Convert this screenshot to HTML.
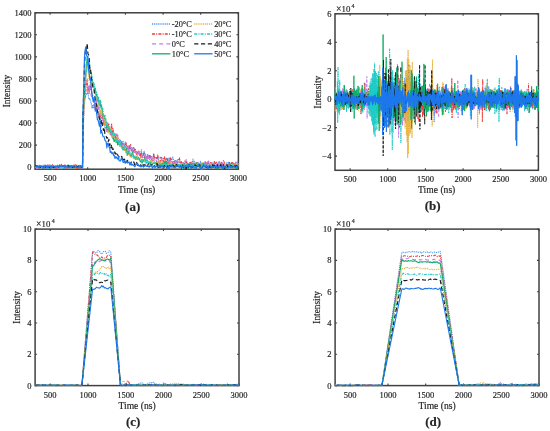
<!DOCTYPE html>
<html><head><meta charset="utf-8"><title>Figure</title>
<style>
html,body{margin:0;padding:0;background:#fff;}
body{width:550px;height:431px;overflow:hidden;}
svg{display:block;}
svg text{font-family:"Liberation Serif", "Times New Roman", serif;fill:#262626;stroke:#262626;stroke-width:0.18px;}
</style></head><body>
<svg width="550" height="431" viewBox="0 0 550 431">
<defs>
<clipPath id="ca"><rect x="34.2" y="12" width="205" height="158"/></clipPath>
<clipPath id="cb"><rect x="334.2" y="13" width="205" height="158.1"/></clipPath>
<clipPath id="cc"><rect x="34.3" y="228.3" width="205.5" height="158.1"/></clipPath>
<clipPath id="cd"><rect x="334.3" y="228.3" width="205.5" height="158.1"/></clipPath>
</defs>
<path d="M50.1 169.2v-2M50.1 12.8v2M87.7 169.2v-2M87.7 12.8v2M125.4 169.2v-2M125.4 12.8v2M163.1 169.2v-2M163.1 12.8v2M200.7 169.2v-2M200.7 12.8v2M238.4 169.2v-2M238.4 12.8v2M35 167.1h2M238.4 167.1h-2M35 145.1h2M238.4 145.1h-2M35 123h2M238.4 123h-2M35 101h2M238.4 101h-2M35 78.9h2M238.4 78.9h-2M35 56.9h2M238.4 56.9h-2M35 34.8h2M238.4 34.8h-2M35 12.8h2M238.4 12.8h-2" stroke="#404040" stroke-width="1.1" fill="none"/>
<rect x="35" y="12.8" width="203.4" height="156.4" fill="none" stroke="#404040" stroke-width="1.5"/>
<text x="50.1" y="181.2" font-size="8.5" text-anchor="middle">500</text>
<text x="87.7" y="181.2" font-size="8.5" text-anchor="middle">1000</text>
<text x="125.4" y="181.2" font-size="8.5" text-anchor="middle">1500</text>
<text x="163.1" y="181.2" font-size="8.5" text-anchor="middle">2000</text>
<text x="200.7" y="181.2" font-size="8.5" text-anchor="middle">2500</text>
<text x="238.4" y="181.2" font-size="8.5" text-anchor="middle">3000</text>
<text x="31.4" y="170" font-size="8.5" text-anchor="end">0</text>
<text x="31.4" y="148" font-size="8.5" text-anchor="end">200</text>
<text x="31.4" y="125.9" font-size="8.5" text-anchor="end">400</text>
<text x="31.4" y="103.9" font-size="8.5" text-anchor="end">600</text>
<text x="31.4" y="81.8" font-size="8.5" text-anchor="end">800</text>
<text x="31.4" y="59.8" font-size="8.5" text-anchor="end">1000</text>
<text x="31.4" y="37.7" font-size="8.5" text-anchor="end">1200</text>
<text x="31.4" y="15.7" font-size="8.5" text-anchor="end">1400</text>
<text x="136.7" y="192.6" font-size="9.6" text-anchor="middle">Time (ns)</text>
<text x="9.7" y="91" font-size="9.3" text-anchor="middle" transform="rotate(-90 9.7 91)">Intensity</text>
<text x="132.7" y="210.6" font-size="13" text-anchor="middle" font-weight="bold" stroke-width="0">(a)</text>
<polyline points="35,166.4 35.7,166.9 36.4,167.6 37,167.1 37.7,167.7 38.4,166.6 39.1,165.3 39.7,167.2 40.4,167.3 41.1,166.2 41.8,166.3 42.5,166.6 43.1,167.6 43.8,166.7 44.5,166 45.2,168 45.8,167.1 46.5,168.6 47.2,168 47.9,168.5 48.6,166.9 49.2,167.9 49.9,166.4 50.6,166.5 51.3,166.9 52,169.2 52.6,167.2 53.3,166.7 54,166.6 54.7,168.2 55.3,167.1 56,167.6 56.7,167.5 57.4,165.6 58.1,167.5 58.7,166.7 59.4,165.8 60.1,167.2 60.8,166.8 61.4,166.6 62.1,166.6 62.8,167.9 63.5,166.6 64.2,165.3 64.8,168.2 65.5,165.8 66.2,166.5 66.9,167.3 67.5,164.7 68.2,165.9 68.9,167.9 69.6,166.6 70.3,166.1 70.9,166.9 71.6,166 72.3,166.7 73,166 73.6,165.2 74.3,167.3 75,166.5 75.7,167.1 76.4,166.5 77,167.9 77.7,167.2 78.4,166.9 79.1,165.8 79.7,165.5 80.4,168 81.1,167.5 81.8,166 82.5,168.7 83.1,132.1 83.8,116.7 84.5,102.8 85.2,97.4 85.8,95.3 86.5,93.2 87.2,94.4 87.9,89.3 88.6,98.3 89.2,99.4 89.9,98.5 90.6,101.7 91.3,103.4 92,108 92.6,105.5 93.3,108.4 94,104.2 94.7,107.2 95.3,110.8 96,109.7 96.7,114.2 97.4,110.9 98.1,115.5 98.7,114.7 99.4,121.7 100.1,117.6 100.8,125 101.4,127 102.1,122.7 102.8,125.4 103.5,123.2 104.2,118.1 104.8,128 105.5,128.2 106.2,126.7 106.9,126.8 107.5,129.5 108.2,130.4 108.9,128.6 109.6,129.9 110.3,134.9 110.9,133 111.6,133.5 112.3,137 113,134.3 113.6,137.8 114.3,133.8 115,136.4 115.7,137.3 116.4,139.6 117,139 117.7,144.3 118.4,142.7 119.1,139.6 119.8,146.2 120.4,139.5 121.1,146.3 121.8,140.8 122.5,145.1 123.1,141.7 123.8,143.7 124.5,148.1 125.2,142.1 125.9,142.1 126.5,146 127.2,146.9 127.9,147 128.6,149.3 129.2,145 129.9,149.1 130.6,148.3 131.3,150.3 132,150.3 132.6,152.1 133.3,146.9 134,150.3 134.7,148.2 135.3,150.6 136,152.4 136.7,152 137.4,152.8 138.1,151.8 138.7,152.9 139.4,153.1 140.1,155.6 140.8,154.7 141.4,149.8 142.1,154.9 142.8,155.9 143.5,153.3 144.2,151.4 144.8,157.4 145.5,155.1 146.2,156.2 146.9,158.7 147.5,153.9 148.2,155.6 148.9,155.6 149.6,157.5 150.3,155.3 150.9,157.4 151.6,156.8 152.3,158.9 153,159.3 153.7,154.5 154.3,158.2 155,156.9 155.7,157.7 156.4,158.6 157,158.9 157.7,156.8 158.4,158.8 159.1,158.6 159.8,158.5 160.4,156.4 161.1,157.5 161.8,158.2 162.5,160.1 163.1,161.8 163.8,157.5 164.5,157.6 165.2,159.8 165.9,158.6 166.5,158.3 167.2,158.3 167.9,158.3 168.6,161 169.2,157.4 169.9,162.6 170.6,158.8 171.3,159.6 172,159 172.6,157.2 173.3,158.1 174,163 174.7,164.1 175.3,159.6 176,163 176.7,161.3 177.4,159.8 178.1,164.4 178.7,165.3 179.4,161.1 180.1,161.6 180.8,162.2 181.4,161.7 182.1,163.4 182.8,164.7 183.5,162.3 184.2,163.8 184.8,165.1 185.5,161.3 186.2,162.4 186.9,161.6 187.6,164.1 188.2,163.6 188.9,164.3 189.6,164.1 190.3,162.3 190.9,164.1 191.6,162.1 192.3,162.2 193,159.2 193.7,165.3 194.3,161.3 195,163.1 195.7,163 196.4,165.6 197,163.9 197.7,161.8 198.4,163.3 199.1,163.1 199.8,163.8 200.4,161.3 201.1,163.4 201.8,167.3 202.5,164.6 203.1,166.9 203.8,169.2 204.5,164.5 205.2,161.2 205.9,163.5 206.5,165.7 207.2,165.3 207.9,161.7 208.6,163.5 209.2,163.7 209.9,163.9 210.6,163.8 211.3,162.5 212,162.9 212.6,163.6 213.3,165.8 214,163.1 214.7,165.2 215.3,162.1 216,166.3 216.7,164.3 217.4,164.1 218.1,166.5 218.7,161.2 219.4,161.7 220.1,165 220.8,162.9 221.4,163.6 222.1,168.8 222.8,163.9 223.5,164.4 224.2,164.2 224.8,166.2 225.5,164.9 226.2,164.7 226.9,162.4 227.6,163.9 228.2,164.5 228.9,161.8 229.6,165.5 230.3,165.2 230.9,167.7 231.6,161.9 232.3,162.9 233,163 233.7,163.5 234.3,164.4 235,164.3 235.7,165.1 236.4,165 237,164.6 237.7,162.1 238.4,163.8" fill="none" stroke="#4f96ee" stroke-width="1.2" stroke-dasharray="1.2,0.9" clip-path="url(#ca)" stroke-linejoin="round"/>
<polyline points="35,167.4 35.7,167.4 36.4,164.7 37,166.1 37.7,166.6 38.4,167.1 39.1,168 39.7,166.7 40.4,165.6 41.1,167.1 41.8,166.9 42.5,166.9 43.1,166.5 43.8,168.6 44.5,166.9 45.2,167.7 45.8,165.6 46.5,167.6 47.2,166 47.9,164.8 48.6,167 49.2,167.4 49.9,166.4 50.6,166.7 51.3,167.9 52,166.1 52.6,164.2 53.3,167 54,166.9 54.7,167.9 55.3,166.3 56,168.2 56.7,168 57.4,165.1 58.1,167.7 58.7,165.4 59.4,164.8 60.1,166.4 60.8,166 61.4,164.3 62.1,166.9 62.8,167.4 63.5,168.3 64.2,166.6 64.8,164.9 65.5,165.5 66.2,167.8 66.9,167.7 67.5,167.3 68.2,166.3 68.9,166.9 69.6,166.4 70.3,166.3 70.9,167 71.6,166.7 72.3,166.4 73,166.8 73.6,166.1 74.3,164.4 75,166 75.7,166.6 76.4,168.7 77,166.2 77.7,169 78.4,168.4 79.1,165.6 79.7,165.8 80.4,166.8 81.1,168.7 81.8,167.1 82.5,167.5 83.1,122.9 83.8,101.8 84.5,99.5 85.2,95.9 85.8,91.4 86.5,80.9 87.2,82.8 87.9,89.2 88.6,85.6 89.2,93.1 89.9,85.3 90.6,87.5 91.3,89.3 92,97.6 92.6,95.3 93.3,99.6 94,102.3 94.7,103.7 95.3,109 96,111 96.7,104 97.4,109.2 98.1,109.1 98.7,107.6 99.4,118.9 100.1,116.7 100.8,114.6 101.4,115.1 102.1,119 102.8,115.3 103.5,119.3 104.2,125.2 104.8,125.3 105.5,120.6 106.2,122.8 106.9,131.5 107.5,122 108.2,125.4 108.9,124 109.6,130.3 110.3,131 110.9,134.4 111.6,124 112.3,133.1 113,128.6 113.6,136.1 114.3,134.4 115,140.6 115.7,137.5 116.4,134.3 117,141.4 117.7,135.4 118.4,138.1 119.1,142.7 119.8,141.8 120.4,142.2 121.1,141.7 121.8,143.6 122.5,144.9 123.1,144 123.8,146.5 124.5,147.7 125.2,144.9 125.9,142.9 126.5,149.8 127.2,146.2 127.9,148.4 128.6,149.6 129.2,145.4 129.9,149.3 130.6,144.6 131.3,150.8 132,148.2 132.6,150.1 133.3,151.8 134,148.8 134.7,151 135.3,149.5 136,151.4 136.7,154.3 137.4,152.2 138.1,152.1 138.7,150.2 139.4,155 140.1,153.2 140.8,157.6 141.4,152.2 142.1,156.5 142.8,158.5 143.5,154.6 144.2,152.1 144.8,158.6 145.5,157.8 146.2,157.2 146.9,158.3 147.5,155 148.2,158 148.9,158 149.6,155.2 150.3,158.4 150.9,155.9 151.6,159.3 152.3,160 153,161.6 153.7,153.4 154.3,158.5 155,157.4 155.7,158.2 156.4,157.9 157,158.3 157.7,154.3 158.4,161 159.1,162.3 159.8,161.3 160.4,162.1 161.1,157.6 161.8,157.6 162.5,161.7 163.1,162.7 163.8,160.6 164.5,156.8 165.2,166.2 165.9,159 166.5,162.6 167.2,158.1 167.9,162.8 168.6,161.2 169.2,163.9 169.9,162.9 170.6,157.8 171.3,159.1 172,161.9 172.6,163 173.3,165.3 174,162.1 174.7,161.4 175.3,161.6 176,161.7 176.7,164 177.4,161.8 178.1,161.8 178.7,159.1 179.4,157.9 180.1,162.2 180.8,163.7 181.4,162.2 182.1,163.4 182.8,163.8 183.5,162.4 184.2,164.6 184.8,161.1 185.5,162.7 186.2,162 186.9,162.9 187.6,164.2 188.2,164.7 188.9,163.2 189.6,163.9 190.3,162.3 190.9,162.9 191.6,165.8 192.3,162.8 193,165.8 193.7,164.3 194.3,163.7 195,167.5 195.7,163 196.4,162.9 197,163.6 197.7,164.2 198.4,164.1 199.1,165.4 199.8,164 200.4,164.6 201.1,163.3 201.8,166 202.5,163 203.1,163.3 203.8,163.9 204.5,164.6 205.2,162.5 205.9,167.2 206.5,162.8 207.2,163.2 207.9,163.2 208.6,163 209.2,165.2 209.9,164.4 210.6,162.6 211.3,163 212,163.5 212.6,167.1 213.3,162.9 214,161.6 214.7,161.9 215.3,163.6 216,167.3 216.7,162.1 217.4,164.4 218.1,169.4 218.7,163.4 219.4,167.3 220.1,166.9 220.8,165.5 221.4,161.6 222.1,165 222.8,163.7 223.5,160.7 224.2,161 224.8,164.6 225.5,164.9 226.2,167 226.9,165.8 227.6,163.5 228.2,163.6 228.9,164.2 229.6,162.4 230.3,166.1 230.9,164.6 231.6,163 232.3,163.3 233,162.3 233.7,163.7 234.3,165.2 235,163.8 235.7,166.6 236.4,168 237,163.4 237.7,164.7 238.4,164" fill="none" stroke="#f03c3c" stroke-width="1.2" stroke-dasharray="3,1.2,1,1.2" clip-path="url(#ca)" stroke-linejoin="round"/>
<polyline points="35,167 35.7,167.2 36.4,167.4 37,168.7 37.7,167 38.4,165.9 39.1,166.3 39.7,167.2 40.4,166.7 41.1,166 41.8,169.2 42.5,166.8 43.1,166.2 43.8,166.1 44.5,165.1 45.2,165.6 45.8,166.4 46.5,166.4 47.2,166 47.9,167.2 48.6,166.7 49.2,165.8 49.9,164.9 50.6,166.8 51.3,166.7 52,166.5 52.6,165.5 53.3,166.7 54,165.3 54.7,167.5 55.3,166.8 56,166.8 56.7,166 57.4,165.7 58.1,168 58.7,167.5 59.4,166.4 60.1,167.3 60.8,168 61.4,165.7 62.1,166.2 62.8,166.2 63.5,167.1 64.2,165.7 64.8,166.9 65.5,165.7 66.2,167.5 66.9,167.4 67.5,166.5 68.2,167.3 68.9,166.1 69.6,166.4 70.3,167.5 70.9,166.6 71.6,167 72.3,165.8 73,167.2 73.6,167.1 74.3,165.6 75,164.6 75.7,164.9 76.4,166.6 77,166.5 77.7,165.3 78.4,166.8 79.1,167.5 79.7,166.6 80.4,166.3 81.1,167.4 81.8,168.1 82.5,168 83.1,121.6 83.8,111.4 84.5,99.7 85.2,90.8 85.8,82.7 86.5,80.9 87.2,78.9 87.9,86.7 88.6,86.7 89.2,91.3 89.9,85 90.6,91.4 91.3,96 92,96.4 92.6,97.7 93.3,96.2 94,106 94.7,105.7 95.3,105 96,96.9 96.7,103.8 97.4,108.8 98.1,107.6 98.7,104.8 99.4,113.5 100.1,115.2 100.8,111.7 101.4,115.2 102.1,116 102.8,120.7 103.5,114.8 104.2,116.7 104.8,121.1 105.5,121.9 106.2,130.5 106.9,124.2 107.5,127.5 108.2,126.8 108.9,127.1 109.6,130.7 110.3,135.1 110.9,130.7 111.6,134.4 112.3,134.2 113,135.7 113.6,135.9 114.3,141.4 115,133.7 115.7,136.7 116.4,135.4 117,134.1 117.7,139.4 118.4,144.3 119.1,142.8 119.8,144.1 120.4,143.2 121.1,142.5 121.8,147.6 122.5,143.1 123.1,147.6 123.8,144.3 124.5,145.7 125.2,146.6 125.9,146.6 126.5,148.1 127.2,148.7 127.9,151.4 128.6,148.4 129.2,145 129.9,145.2 130.6,147 131.3,148.6 132,151.8 132.6,148 133.3,151.3 134,151.7 134.7,152.5 135.3,152.1 136,153.5 136.7,153.1 137.4,155.4 138.1,154.3 138.7,149.6 139.4,154.3 140.1,154.9 140.8,153.8 141.4,153.8 142.1,157.4 142.8,156 143.5,154.2 144.2,155.6 144.8,156.1 145.5,153.8 146.2,158 146.9,156.9 147.5,158.2 148.2,154.8 148.9,161.1 149.6,159.1 150.3,159 150.9,157.1 151.6,157.4 152.3,156.2 153,161.6 153.7,157.7 154.3,159.7 155,160.5 155.7,158.6 156.4,161.2 157,163.4 157.7,160.6 158.4,162.6 159.1,161.3 159.8,159.8 160.4,160 161.1,158 161.8,161.1 162.5,163.5 163.1,162.3 163.8,162.7 164.5,163.3 165.2,160.7 165.9,162.6 166.5,164.9 167.2,160.5 167.9,162 168.6,161.3 169.2,161.8 169.9,161.1 170.6,162.1 171.3,160.3 172,161.7 172.6,161.8 173.3,161.9 174,165 174.7,163 175.3,163.2 176,162.5 176.7,165.1 177.4,160.4 178.1,162.9 178.7,165.1 179.4,165.9 180.1,163.7 180.8,163.5 181.4,164.5 182.1,163.3 182.8,164.5 183.5,162.7 184.2,164.8 184.8,163.7 185.5,162.2 186.2,159.7 186.9,165.4 187.6,164.6 188.2,165.3 188.9,162.7 189.6,165.8 190.3,164.8 190.9,164.2 191.6,165.7 192.3,165.7 193,165 193.7,167.6 194.3,166.6 195,165 195.7,164.2 196.4,164.7 197,167.3 197.7,165.2 198.4,163.3 199.1,163.7 199.8,164.7 200.4,166 201.1,163.7 201.8,165.6 202.5,166.6 203.1,166 203.8,162.5 204.5,164.5 205.2,163 205.9,165.6 206.5,163.4 207.2,165.9 207.9,165.2 208.6,161.1 209.2,163.8 209.9,165.8 210.6,165.2 211.3,164.6 212,163.2 212.6,165.9 213.3,167.8 214,165.6 214.7,165.1 215.3,165 216,163.2 216.7,164.7 217.4,164 218.1,167 218.7,163.9 219.4,162.1 220.1,164.1 220.8,164.9 221.4,165.1 222.1,162.6 222.8,166.8 223.5,165.6 224.2,164.7 224.8,164.3 225.5,166.1 226.2,165 226.9,165.9 227.6,165.3 228.2,165.7 228.9,167.2 229.6,165.5 230.3,164.2 230.9,167 231.6,165.9 232.3,164.5 233,167.2 233.7,165.3 234.3,167.2 235,163.9 235.7,162.1 236.4,162.5 237,166 237.7,164.5 238.4,165.5" fill="none" stroke="#c27cf0" stroke-width="1.2" stroke-dasharray="4,3.2" clip-path="url(#ca)" stroke-linejoin="round"/>
<polyline points="35,165.6 35.7,167.6 36.4,165.9 37,166.7 37.7,165.7 38.4,166.5 39.1,167.1 39.7,166.5 40.4,166.1 41.1,166.6 41.8,166.3 42.5,167 43.1,168.2 43.8,166 44.5,166.2 45.2,166.6 45.8,166.6 46.5,165.9 47.2,167 47.9,167.2 48.6,166.8 49.2,165.8 49.9,167.6 50.6,165.8 51.3,167.1 52,167.4 52.6,165.8 53.3,166.7 54,167.6 54.7,166.9 55.3,166 56,165.8 56.7,167 57.4,166.4 58.1,166.2 58.7,167.1 59.4,166.4 60.1,166.7 60.8,167 61.4,167 62.1,166.6 62.8,166.6 63.5,167.1 64.2,167 64.8,165.9 65.5,166.5 66.2,166 66.9,165.8 67.5,166.3 68.2,165.1 68.9,167.2 69.6,166.1 70.3,166.9 70.9,165.4 71.6,165.5 72.3,168 73,167.3 73.6,166.2 74.3,166.1 75,166.1 75.7,166.7 76.4,166.3 77,166.2 77.7,166.7 78.4,165.9 79.1,168.3 79.7,166.2 80.4,167.4 81.1,166 81.8,166.8 82.5,167.3 83.1,113.9 83.8,102.2 84.5,91.6 85.2,85.7 85.8,72.7 86.5,64.2 87.2,58.6 87.9,65.6 88.6,63 89.2,69.6 89.9,72.5 90.6,72.4 91.3,73 92,80.9 92.6,82.9 93.3,85 94,86.5 94.7,92.3 95.3,88 96,95.1 96.7,94.5 97.4,100.8 98.1,99.1 98.7,101.1 99.4,105.7 100.1,100.3 100.8,107.2 101.4,105.1 102.1,109.3 102.8,115.6 103.5,116.6 104.2,116.1 104.8,118.7 105.5,120.3 106.2,122.7 106.9,128 107.5,125.5 108.2,131.7 108.9,126.9 109.6,130.8 110.3,132 110.9,132.1 111.6,132.2 112.3,137.1 113,138.9 113.6,138.5 114.3,141.5 115,140.3 115.7,136.2 116.4,142.4 117,140 117.7,144.8 118.4,142.4 119.1,144.4 119.8,144.8 120.4,144.4 121.1,143.1 121.8,146.6 122.5,147.4 123.1,150 123.8,148 124.5,150 125.2,148.9 125.9,150.9 126.5,148.6 127.2,155.2 127.9,153 128.6,151.6 129.2,154 129.9,155.2 130.6,154.8 131.3,157 132,155.1 132.6,152.1 133.3,154.4 134,158.1 134.7,158.1 135.3,157.8 136,156.1 136.7,159.1 137.4,159.2 138.1,157.3 138.7,157.6 139.4,159.6 140.1,160.9 140.8,161.8 141.4,160.8 142.1,163.2 142.8,159.3 143.5,161.4 144.2,160.1 144.8,158.5 145.5,159.6 146.2,162.9 146.9,160.4 147.5,160.2 148.2,162.9 148.9,163.3 149.6,162.4 150.3,164.5 150.9,160.7 151.6,165.8 152.3,164.3 153,163.3 153.7,163.4 154.3,163 155,163 155.7,163.7 156.4,162.1 157,166.4 157.7,163.8 158.4,164.7 159.1,163.8 159.8,163.8 160.4,165.3 161.1,165 161.8,163.3 162.5,163.9 163.1,165.3 163.8,162 164.5,161.7 165.2,166.4 165.9,164.3 166.5,161.7 167.2,163.8 167.9,164.6 168.6,165.2 169.2,165.6 169.9,165.3 170.6,165.7 171.3,164.2 172,165.6 172.6,165.7 173.3,166.7 174,165.3 174.7,166.4 175.3,165.6 176,164.1 176.7,165 177.4,164.8 178.1,165 178.7,165.4 179.4,165.7 180.1,165.9 180.8,164.7 181.4,166.9 182.1,164 182.8,165.6 183.5,166.6 184.2,166.3 184.8,166.5 185.5,165.6 186.2,166.6 186.9,164.4 187.6,166.7 188.2,168.5 188.9,166.7 189.6,168.3 190.3,165.9 190.9,164.6 191.6,165.1 192.3,167.5 193,166.8 193.7,163.8 194.3,165.6 195,166 195.7,164.7 196.4,163.1 197,164.5 197.7,165.8 198.4,165.6 199.1,165.3 199.8,166.8 200.4,167.3 201.1,166 201.8,167.2 202.5,166.2 203.1,166 203.8,163.3 204.5,167.1 205.2,166.3 205.9,166.3 206.5,165.6 207.2,164.9 207.9,166.7 208.6,167.1 209.2,168.1 209.9,167.3 210.6,165.5 211.3,166.1 212,167.4 212.6,166.6 213.3,166.2 214,165.6 214.7,166.9 215.3,166.5 216,168.4 216.7,167.6 217.4,164.3 218.1,168.8 218.7,166.6 219.4,166 220.1,166.7 220.8,167.2 221.4,166.3 222.1,166.3 222.8,166.4 223.5,168.5 224.2,166.4 224.8,167.3 225.5,166.9 226.2,166 226.9,165.5 227.6,165.2 228.2,166.9 228.9,165.2 229.6,164.9 230.3,164.9 230.9,164.7 231.6,166.5 232.3,166.5 233,165.3 233.7,167.9 234.3,166.1 235,166.9 235.7,166.7 236.4,168.4 237,167.4 237.7,166.3 238.4,165.3" fill="none" stroke="#12ad66" stroke-width="1.2" clip-path="url(#ca)" stroke-linejoin="round"/>
<polyline points="35,166.7 35.7,166.8 36.4,167.2 37,166.4 37.7,166.8 38.4,166.2 39.1,165.4 39.7,166.7 40.4,167.7 41.1,167.3 41.8,167.7 42.5,167.5 43.1,165.7 43.8,166.5 44.5,167.7 45.2,166.2 45.8,165.8 46.5,166.9 47.2,167.1 47.9,166.9 48.6,166.5 49.2,166.2 49.9,165.8 50.6,165.8 51.3,165.8 52,165.7 52.6,166.2 53.3,167.7 54,166.8 54.7,166.4 55.3,166.9 56,166 56.7,166.9 57.4,167.3 58.1,165.7 58.7,166.2 59.4,166.5 60.1,166 60.8,165.9 61.4,166.4 62.1,168.4 62.8,167.1 63.5,167 64.2,167.4 64.8,166.5 65.5,165.8 66.2,167 66.9,167.5 67.5,165.2 68.2,167 68.9,167.5 69.6,166.5 70.3,166.4 70.9,167.2 71.6,166.1 72.3,167 73,167.3 73.6,166.5 74.3,166.1 75,167.1 75.7,166.4 76.4,166.7 77,164.7 77.7,167.2 78.4,165.7 79.1,166.7 79.7,166.8 80.4,166.2 81.1,166 81.8,165.8 82.5,166.4 83.1,122.9 83.8,108.3 84.5,95 85.2,86.7 85.8,77 86.5,74.7 87.2,66.9 87.9,65.3 88.6,72.7 89.2,81.2 89.9,82.1 90.6,85.2 91.3,76.1 92,87.3 92.6,82 93.3,86.6 94,84.9 94.7,89.5 95.3,95.3 96,97.7 96.7,98.8 97.4,100.5 98.1,104.7 98.7,105 99.4,102 100.1,113.6 100.8,109.7 101.4,114.7 102.1,113.3 102.8,113.2 103.5,117.3 104.2,116.7 104.8,124.3 105.5,118.9 106.2,124.6 106.9,123 107.5,125.5 108.2,133.3 108.9,130.3 109.6,129.3 110.3,127.5 110.9,131.5 111.6,132.8 112.3,137.5 113,132.5 113.6,132.8 114.3,137.5 115,139 115.7,142.7 116.4,138.7 117,136.1 117.7,140.8 118.4,140.6 119.1,142.8 119.8,146.4 120.4,142.9 121.1,148.3 121.8,147.2 122.5,147 123.1,146.6 123.8,148.1 124.5,148.8 125.2,151.3 125.9,152.7 126.5,151 127.2,152.8 127.9,154.3 128.6,154.7 129.2,154 129.9,156.6 130.6,156.2 131.3,157.1 132,154.7 132.6,154.8 133.3,152.8 134,158.4 134.7,157.5 135.3,155.5 136,157.5 136.7,158 137.4,155.4 138.1,158.7 138.7,160.1 139.4,160.6 140.1,158.6 140.8,158.9 141.4,161.5 142.1,161.2 142.8,159.3 143.5,159.5 144.2,161.4 144.8,159.9 145.5,160.1 146.2,163.5 146.9,161.7 147.5,160.9 148.2,162.4 148.9,164.6 149.6,162.4 150.3,161.2 150.9,160.2 151.6,165.3 152.3,159.2 153,164.2 153.7,161.6 154.3,161.4 155,161.8 155.7,163 156.4,164.8 157,162.6 157.7,164.4 158.4,166.8 159.1,160.2 159.8,162.9 160.4,161.6 161.1,165.1 161.8,162.3 162.5,162.2 163.1,162.3 163.8,164.4 164.5,165.9 165.2,164.7 165.9,167.3 166.5,166.7 167.2,164.5 167.9,165.9 168.6,165 169.2,165 169.9,162.5 170.6,163.3 171.3,165 172,163.6 172.6,166 173.3,165.5 174,164.1 174.7,166.7 175.3,165.6 176,166.9 176.7,165.2 177.4,163.4 178.1,166.3 178.7,165.1 179.4,166.5 180.1,166.9 180.8,167 181.4,163.8 182.1,162.7 182.8,165 183.5,166.5 184.2,164.8 184.8,166.1 185.5,164.7 186.2,165.4 186.9,165.4 187.6,165 188.2,166.5 188.9,166.3 189.6,167.9 190.3,166.3 190.9,167.5 191.6,166 192.3,167 193,165.8 193.7,165.4 194.3,167.6 195,166.9 195.7,167.1 196.4,165.1 197,163.9 197.7,165 198.4,166.4 199.1,164.3 199.8,167.8 200.4,164.2 201.1,166.8 201.8,169.4 202.5,162.9 203.1,164.2 203.8,167.3 204.5,165.9 205.2,166.3 205.9,166 206.5,167.9 207.2,166.9 207.9,165.6 208.6,165.9 209.2,164.7 209.9,166 210.6,163.4 211.3,167 212,165.9 212.6,168.4 213.3,167.7 214,164.6 214.7,167.3 215.3,165.6 216,166.3 216.7,167.4 217.4,166.6 218.1,166.8 218.7,166.8 219.4,165.3 220.1,165.5 220.8,166.9 221.4,167.3 222.1,165.9 222.8,166.4 223.5,165 224.2,163.1 224.8,165.3 225.5,166.3 226.2,166.5 226.9,167.3 227.6,167.3 228.2,167.5 228.9,166.7 229.6,166.8 230.3,165.4 230.9,166.8 231.6,166.5 232.3,167.7 233,164.4 233.7,165.7 234.3,164.2 235,165.4 235.7,164.5 236.4,166.6 237,165.5 237.7,163.1 238.4,167.8" fill="none" stroke="#e9b03e" stroke-width="1.2" stroke-dasharray="1.2,0.9" clip-path="url(#ca)" stroke-linejoin="round"/>
<polyline points="35,165.5 35.7,166.4 36.4,166.1 37,165.8 37.7,167.1 38.4,166.4 39.1,167.3 39.7,167.2 40.4,167.1 41.1,166.8 41.8,166.6 42.5,166.3 43.1,167.7 43.8,165.2 44.5,165.8 45.2,166.1 45.8,166.9 46.5,166.7 47.2,166.3 47.9,166.4 48.6,167.9 49.2,166.1 49.9,164.6 50.6,168 51.3,165.9 52,166.4 52.6,166.7 53.3,165.7 54,167.5 54.7,166.5 55.3,165.6 56,166.8 56.7,167 57.4,166.6 58.1,167 58.7,165.5 59.4,167.3 60.1,166 60.8,167.6 61.4,166.2 62.1,166.7 62.8,168.5 63.5,166.7 64.2,167.4 64.8,167 65.5,165.6 66.2,167.5 66.9,167.4 67.5,165.6 68.2,166.6 68.9,165.6 69.6,166.4 70.3,167.3 70.9,166.7 71.6,165.8 72.3,166 73,166.7 73.6,166.6 74.3,166.7 75,167.1 75.7,165.3 76.4,166.7 77,167.5 77.7,167 78.4,166.1 79.1,166.2 79.7,166.8 80.4,167.1 81.1,166.6 81.8,167.9 82.5,167.6 83.1,117 83.8,105.1 84.5,91.7 85.2,80.2 85.8,75.2 86.5,71.6 87.2,57.1 87.9,58.3 88.6,64.8 89.2,62.4 89.9,66.3 90.6,74.1 91.3,72.8 92,76.3 92.6,85.9 93.3,81.3 94,84.2 94.7,87.2 95.3,94 96,91.7 96.7,92.9 97.4,94.7 98.1,101.1 98.7,97.4 99.4,105.5 100.1,104.4 100.8,101.7 101.4,109.8 102.1,111.2 102.8,108.4 103.5,114.5 104.2,116 104.8,116.3 105.5,115.7 106.2,126 106.9,123.9 107.5,125.9 108.2,127.5 108.9,128.3 109.6,129.7 110.3,128.3 110.9,132.4 111.6,131.3 112.3,131.9 113,135.6 113.6,134.9 114.3,132.8 115,136.7 115.7,139.8 116.4,139.6 117,142.3 117.7,140.8 118.4,140.6 119.1,144.7 119.8,144.4 120.4,142.8 121.1,146.6 121.8,146.1 122.5,149 123.1,149.3 123.8,149.4 124.5,145.5 125.2,150.5 125.9,151.3 126.5,152 127.2,151.9 127.9,151.1 128.6,152.4 129.2,150 129.9,153.4 130.6,152 131.3,154.2 132,154.2 132.6,157.7 133.3,156.1 134,156.4 134.7,157.1 135.3,160.2 136,156.2 136.7,158.3 137.4,158.7 138.1,158.8 138.7,159 139.4,158.4 140.1,161.1 140.8,160.8 141.4,159.4 142.1,159.9 142.8,160.8 143.5,161.3 144.2,161.9 144.8,161.1 145.5,159.6 146.2,162.8 146.9,159.5 147.5,160.6 148.2,162.5 148.9,161.1 149.6,164.2 150.3,164.7 150.9,164.2 151.6,163.2 152.3,163.3 153,163.6 153.7,163 154.3,165.9 155,162.7 155.7,165.2 156.4,164.4 157,164.2 157.7,165.2 158.4,165.6 159.1,165.2 159.8,164.1 160.4,163.4 161.1,163.5 161.8,165.5 162.5,165.3 163.1,165.6 163.8,164 164.5,167.1 165.2,163.1 165.9,165.3 166.5,165.7 167.2,164.4 167.9,163.6 168.6,164.5 169.2,163.7 169.9,164.9 170.6,163.6 171.3,163.6 172,165.3 172.6,163.5 173.3,165 174,165.2 174.7,166.4 175.3,165.7 176,164.5 176.7,167 177.4,164.7 178.1,165.1 178.7,165.2 179.4,168.2 180.1,165.7 180.8,164.8 181.4,166.5 182.1,165.5 182.8,168.5 183.5,164.9 184.2,166.5 184.8,164.7 185.5,168 186.2,164.9 186.9,166.1 187.6,164.8 188.2,166.9 188.9,166.6 189.6,163.2 190.3,166.9 190.9,166.7 191.6,166.2 192.3,167.1 193,164.5 193.7,163.9 194.3,166.8 195,168 195.7,164.6 196.4,164.7 197,165 197.7,164.6 198.4,167.1 199.1,166.2 199.8,167.7 200.4,167.7 201.1,164.9 201.8,166.9 202.5,163.4 203.1,166 203.8,166.9 204.5,165.2 205.2,164 205.9,165.5 206.5,167.6 207.2,165.7 207.9,164.5 208.6,166.7 209.2,167.1 209.9,165 210.6,166 211.3,167.5 212,166.6 212.6,167.1 213.3,165.8 214,166.1 214.7,164.8 215.3,165.4 216,168.1 216.7,165.7 217.4,165.2 218.1,165.7 218.7,165 219.4,166.9 220.1,167.4 220.8,165.1 221.4,167.5 222.1,168.8 222.8,165 223.5,167.1 224.2,166.6 224.8,167.9 225.5,167.8 226.2,167.6 226.9,166.7 227.6,165.8 228.2,169 228.9,165.4 229.6,167.7 230.3,167.5 230.9,165.5 231.6,166.4 232.3,168.1 233,164.1 233.7,167.3 234.3,166 235,166.1 235.7,164.6 236.4,166.9 237,165.1 237.7,167.2 238.4,165" fill="none" stroke="#1fcaca" stroke-width="1.2" stroke-dasharray="3,1.2,1,1.2" clip-path="url(#ca)" stroke-linejoin="round"/>
<polyline points="35,166.9 35.7,165.5 36.4,166.5 37,166.6 37.7,165.3 38.4,166.4 39.1,167.2 39.7,166.2 40.4,167.4 41.1,166 41.8,165.9 42.5,167 43.1,167 43.8,166.6 44.5,166.7 45.2,167.3 45.8,166.3 46.5,167.9 47.2,166.9 47.9,166.9 48.6,166.8 49.2,166.5 49.9,167.4 50.6,166.3 51.3,166.8 52,167.1 52.6,167.5 53.3,167.4 54,166.4 54.7,167.2 55.3,166.6 56,166 56.7,166 57.4,165.7 58.1,166.8 58.7,167.3 59.4,166 60.1,166.5 60.8,166 61.4,166.7 62.1,165.9 62.8,166.2 63.5,166.2 64.2,166.4 64.8,166.4 65.5,166.5 66.2,166.5 66.9,166.1 67.5,167 68.2,165.6 68.9,166.7 69.6,166.1 70.3,166.7 70.9,166.8 71.6,165.4 72.3,166.9 73,167.4 73.6,167.1 74.3,166.9 75,165.4 75.7,166.5 76.4,166.1 77,167.3 77.7,166.5 78.4,166.3 79.1,165.6 79.7,167.1 80.4,166.3 81.1,166.5 81.8,167.3 82.5,166.7 83.1,110.2 83.8,92 84.5,65.6 85.2,53.4 85.8,47.6 86.5,51.5 87.2,43.2 87.9,53.4 88.6,55 89.2,58.2 89.9,70.5 90.6,69.7 91.3,78 92,81.4 92.6,85.5 93.3,89 94,89.1 94.7,95.8 95.3,100.1 96,103.6 96.7,105 97.4,111.4 98.1,113.1 98.7,114.6 99.4,118.5 100.1,119.8 100.8,123.3 101.4,119.6 102.1,123.4 102.8,127.4 103.5,130.4 104.2,127.7 104.8,133.3 105.5,135.8 106.2,136.6 106.9,138.2 107.5,137.6 108.2,141.6 108.9,139.3 109.6,145.6 110.3,144.1 110.9,148 111.6,144.6 112.3,149 113,149.5 113.6,149 114.3,149.4 115,153.6 115.7,153.3 116.4,155.5 117,154 117.7,155 118.4,156 119.1,157 119.8,157.2 120.4,158.1 121.1,157 121.8,156.3 122.5,161 123.1,159.2 123.8,160 124.5,159.2 125.2,161.3 125.9,160.7 126.5,162.1 127.2,160.4 127.9,161.3 128.6,161.9 129.2,161.6 129.9,162.5 130.6,164.2 131.3,162 132,162.6 132.6,163.3 133.3,162.2 134,162.1 134.7,164.8 135.3,164.6 136,162.3 136.7,162.5 137.4,165 138.1,165.6 138.7,165.1 139.4,165.1 140.1,166.4 140.8,164.7 141.4,166.2 142.1,166.2 142.8,164.1 143.5,165.8 144.2,165.3 144.8,164.6 145.5,164.5 146.2,165.8 146.9,165.4 147.5,166.4 148.2,163.8 148.9,165 149.6,166.8 150.3,165.7 150.9,165 151.6,165.3 152.3,164 153,164.5 153.7,166.5 154.3,166 155,167.3 155.7,165.8 156.4,165.9 157,163.3 157.7,166 158.4,168.3 159.1,166.8 159.8,166 160.4,167.5 161.1,167.1 161.8,166.6 162.5,165.9 163.1,166.4 163.8,167.2 164.5,165.5 165.2,166.9 165.9,166.8 166.5,167.7 167.2,167.1 167.9,165.7 168.6,168 169.2,166.4 169.9,165.7 170.6,166.8 171.3,166.2 172,167.5 172.6,165.1 173.3,165.3 174,166.2 174.7,168.2 175.3,167.5 176,165.5 176.7,164.7 177.4,166.2 178.1,165.2 178.7,167.1 179.4,166.7 180.1,166.5 180.8,166.1 181.4,168.1 182.1,165.6 182.8,165.2 183.5,167.7 184.2,167.9 184.8,166.2 185.5,167.2 186.2,168.9 186.9,165.7 187.6,166.4 188.2,167 188.9,164.4 189.6,166.4 190.3,167.3 190.9,166.5 191.6,167.6 192.3,167.3 193,166.2 193.7,167.1 194.3,167 195,164.9 195.7,165.7 196.4,165.8 197,166.1 197.7,166.1 198.4,165.1 199.1,166.6 199.8,164.7 200.4,167.6 201.1,166.9 201.8,168 202.5,167 203.1,166.1 203.8,165.2 204.5,167.3 205.2,166.6 205.9,167 206.5,167.4 207.2,167.8 207.9,166.6 208.6,168.4 209.2,166.5 209.9,166.6 210.6,167.3 211.3,167.7 212,168 212.6,164.8 213.3,168 214,165.1 214.7,166 215.3,167 216,167.8 216.7,165.6 217.4,164.9 218.1,167.6 218.7,167 219.4,165.6 220.1,166.3 220.8,164.6 221.4,167.2 222.1,166.1 222.8,167.9 223.5,164.6 224.2,167.4 224.8,168.9 225.5,166.8 226.2,166.8 226.9,164.7 227.6,167 228.2,166.7 228.9,166.1 229.6,165.1 230.3,166.7 230.9,165.6 231.6,166.2 232.3,167 233,166.6 233.7,166.7 234.3,167.6 235,165.5 235.7,168.1 236.4,165.5 237,165.7 237.7,166.8 238.4,167.5" fill="none" stroke="#1a1a1a" stroke-width="1.2" stroke-dasharray="4.2,2.6" clip-path="url(#ca)" stroke-linejoin="round"/>
<polyline points="35,166.4 35.7,166.2 36.4,166.5 37,166.1 37.7,167 38.4,166.5 39.1,167.6 39.7,166.2 40.4,166.6 41.1,166.9 41.8,166 42.5,166.2 43.1,168.4 43.8,166.6 44.5,167.5 45.2,166 45.8,165.2 46.5,167 47.2,166.6 47.9,166.8 48.6,166.5 49.2,166.3 49.9,165.9 50.6,167.3 51.3,165.7 52,167.2 52.6,166.5 53.3,166 54,166.2 54.7,167.2 55.3,167.1 56,166.9 56.7,166.7 57.4,166 58.1,167.4 58.7,166.4 59.4,166.3 60.1,166.3 60.8,166.4 61.4,165.7 62.1,166.4 62.8,166.1 63.5,166.3 64.2,165.6 64.8,167.8 65.5,165.9 66.2,166.8 66.9,166.8 67.5,167.2 68.2,167.8 68.9,166.9 69.6,167.1 70.3,166.4 70.9,167.6 71.6,165.8 72.3,166.5 73,166.8 73.6,167.1 74.3,167.1 75,167.3 75.7,167 76.4,166.7 77,166.8 77.7,167.5 78.4,166.8 79.1,167.2 79.7,166.6 80.4,165.5 81.1,166.3 81.8,166.9 82.5,167.6 83.1,110.1 83.8,83.5 84.5,56.6 85.2,49.8 85.8,46.9 86.5,55 87.2,56.9 87.9,56.5 88.6,70 89.2,73.4 89.9,79.7 90.6,78.1 91.3,89.1 92,93.4 92.6,98.1 93.3,101.8 94,99.7 94.7,97.2 95.3,110.6 96,108.5 96.7,113.4 97.4,119.6 98.1,120.2 98.7,122.7 99.4,126.2 100.1,122.7 100.8,133.2 101.4,130.4 102.1,132.6 102.8,136.2 103.5,136.6 104.2,136.9 104.8,139.9 105.5,140.9 106.2,141.9 106.9,147.9 107.5,143.3 108.2,143.3 108.9,146.6 109.6,147.6 110.3,152.3 110.9,151.3 111.6,153.2 112.3,153.7 113,152.4 113.6,155.6 114.3,155.4 115,158.4 115.7,156.7 116.4,157 117,158.6 117.7,159.1 118.4,156.4 119.1,160.7 119.8,160.9 120.4,161 121.1,159 121.8,158.4 122.5,160.8 123.1,162.4 123.8,162.3 124.5,160.9 125.2,163.4 125.9,161 126.5,161.3 127.2,163.1 127.9,162.6 128.6,162.7 129.2,162.1 129.9,165.1 130.6,162.8 131.3,164.7 132,165.2 132.6,164.4 133.3,164.9 134,165.9 134.7,166.6 135.3,166 136,163.6 136.7,163.2 137.4,164.7 138.1,164.2 138.7,166 139.4,165.7 140.1,165.4 140.8,166.8 141.4,166.8 142.1,165.7 142.8,166.2 143.5,167 144.2,165.6 144.8,166.3 145.5,165 146.2,166.1 146.9,166.5 147.5,166.1 148.2,166.4 148.9,166.9 149.6,166.7 150.3,165.6 150.9,165.7 151.6,165.1 152.3,168.1 153,166.8 153.7,166.9 154.3,166.3 155,166.9 155.7,167 156.4,165.7 157,166.3 157.7,167.7 158.4,165.2 159.1,165.6 159.8,167.2 160.4,165.7 161.1,167.3 161.8,165.5 162.5,166.8 163.1,167.4 163.8,167 164.5,167.4 165.2,166.5 165.9,166.5 166.5,166.6 167.2,167.2 167.9,170.4 168.6,166.6 169.2,168.6 169.9,166.5 170.6,165.6 171.3,166.4 172,167.1 172.6,166.9 173.3,166.9 174,167.3 174.7,167.3 175.3,167.7 176,165.5 176.7,166.8 177.4,165.8 178.1,167 178.7,166.7 179.4,166.9 180.1,166.3 180.8,165.9 181.4,166.5 182.1,167.4 182.8,167.5 183.5,165.1 184.2,167 184.8,167.1 185.5,165.3 186.2,165.7 186.9,166.2 187.6,167.2 188.2,164.4 188.9,166.4 189.6,166.2 190.3,167 190.9,168.2 191.6,168.1 192.3,166.4 193,166.4 193.7,167 194.3,168 195,168.2 195.7,167.1 196.4,168.3 197,165.9 197.7,165.6 198.4,164 199.1,165.9 199.8,167.4 200.4,167.7 201.1,170.3 201.8,167.4 202.5,167 203.1,165.8 203.8,166.2 204.5,166.2 205.2,166.6 205.9,166.1 206.5,165.4 207.2,167.9 207.9,167.3 208.6,168.2 209.2,165.2 209.9,165.5 210.6,166.1 211.3,168 212,166.6 212.6,167.1 213.3,166.7 214,167 214.7,166.3 215.3,167.2 216,166 216.7,166.6 217.4,167.1 218.1,166.9 218.7,167.3 219.4,166 220.1,167.1 220.8,166.5 221.4,167.2 222.1,168.3 222.8,165.9 223.5,167.9 224.2,166.2 224.8,166.4 225.5,168.5 226.2,167.8 226.9,167.3 227.6,167.7 228.2,168 228.9,166.1 229.6,167.1 230.3,166.4 230.9,167.3 231.6,166.5 232.3,167.6 233,166.9 233.7,166.3 234.3,166.8 235,167.3 235.7,167.9 236.4,166.7 237,166.5 237.7,167.1 238.4,167.6" fill="none" stroke="#1e78ec" stroke-width="1.2" clip-path="url(#ca)" stroke-linejoin="round"/>
<path d="M152 24H170.4" stroke="#4f96ee" stroke-width="1.3" stroke-dasharray="1.2,0.9"/>
<path d="M152 34H170.4" stroke="#f03c3c" stroke-width="1.3" stroke-dasharray="3,1.2,1,1.2"/>
<path d="M152 43.9H170.4" stroke="#c27cf0" stroke-width="1.3" stroke-dasharray="4,3.2"/>
<path d="M152 53.8H170.4" stroke="#12ad66" stroke-width="1.3"/>
<path d="M194.2 24H212.6" stroke="#e9b03e" stroke-width="1.3" stroke-dasharray="1.2,0.9"/>
<path d="M194.2 34H212.6" stroke="#1fcaca" stroke-width="1.3" stroke-dasharray="3,1.2,1,1.2"/>
<path d="M194.2 43.9H212.6" stroke="#1a1a1a" stroke-width="1.3" stroke-dasharray="4.2,2.6"/>
<path d="M194.2 53.8H212.6" stroke="#1e78ec" stroke-width="1.3"/>
<text x="171.8" y="26.9" font-size="8.3" text-anchor="start">-20&#176;C</text>
<text x="171.8" y="36.9" font-size="8.3" text-anchor="start">-10&#176;C</text>
<text x="171.8" y="46.8" font-size="8.3" text-anchor="start">0&#176;C</text>
<text x="171.8" y="56.7" font-size="8.3" text-anchor="start">10&#176;C</text>
<text x="214.2" y="26.9" font-size="8.3" text-anchor="start">20&#176;C</text>
<text x="214.2" y="36.9" font-size="8.3" text-anchor="start">30&#176;C</text>
<text x="214.2" y="46.8" font-size="8.3" text-anchor="start">40&#176;C</text>
<text x="214.2" y="56.7" font-size="8.3" text-anchor="start">50&#176;C</text>
<path d="M350.1 170.3v-2M350.1 13.8v2M387.7 170.3v-2M387.7 13.8v2M425.4 170.3v-2M425.4 13.8v2M463.1 170.3v-2M463.1 13.8v2M500.7 170.3v-2M500.7 13.8v2M538.4 170.3v-2M538.4 13.8v2M335 156.1h2M538.4 156.1h-2M335 127.6h2M538.4 127.6h-2M335 99.2h2M538.4 99.2h-2M335 70.7h2M538.4 70.7h-2M335 42.3h2M538.4 42.3h-2M335 13.8h2M538.4 13.8h-2" stroke="#404040" stroke-width="1.1" fill="none"/>
<rect x="335" y="13.8" width="203.4" height="156.5" fill="none" stroke="#404040" stroke-width="1.5"/>
<text x="350.1" y="181.9" font-size="8.5" text-anchor="middle">500</text>
<text x="387.7" y="181.9" font-size="8.5" text-anchor="middle">1000</text>
<text x="425.4" y="181.9" font-size="8.5" text-anchor="middle">1500</text>
<text x="463.1" y="181.9" font-size="8.5" text-anchor="middle">2000</text>
<text x="500.7" y="181.9" font-size="8.5" text-anchor="middle">2500</text>
<text x="538.4" y="181.9" font-size="8.5" text-anchor="middle">3000</text>
<text x="331.4" y="159" font-size="8.5" text-anchor="end">&#8722;4</text>
<text x="331.4" y="130.5" font-size="8.5" text-anchor="end">&#8722;2</text>
<text x="331.4" y="102.1" font-size="8.5" text-anchor="end">0</text>
<text x="331.4" y="73.6" font-size="8.5" text-anchor="end">2</text>
<text x="331.4" y="45.2" font-size="8.5" text-anchor="end">4</text>
<text x="331.4" y="16.7" font-size="8.5" text-anchor="end">6</text>
<text x="436.7" y="193.2" font-size="9.6" text-anchor="middle">Time (ns)</text>
<text x="320.6" y="92.1" font-size="9.3" text-anchor="middle" transform="rotate(-90 320.6 92.1)">Intensity</text>
<text x="336" y="11.7" font-size="8.8"><tspan font-size="9.6">&#215;</tspan><tspan dx="0.1">10</tspan><tspan font-size="5.9" dx="1.3" dy="-4.2">4</tspan></text>
<text x="432.7" y="210.2" font-size="13" text-anchor="middle" font-weight="bold" stroke-width="0">(b)</text>
<polyline points="335,96.5 335.2,111.2 335.5,97.7 335.7,100.8 335.9,97.3 336.1,111.6 336.4,98.6 336.6,102.6 336.8,92.5 337,100.4 337.3,95.4 337.5,100.2 337.7,98.4 337.9,101.9 338.2,98.9 338.4,105.7 338.6,98.1 338.8,102.9 339.1,89.6 339.3,102.6 339.5,97.8 339.7,104.9 340,94.2 340.2,107.2 340.4,93.9 340.6,99.7 340.9,97.9 341.1,100 341.3,97.7 341.6,100.1 341.8,95.4 342,109.3 342.2,95.9 342.5,109 342.7,98.8 342.9,99.2 343.1,91.1 343.4,102.5 343.6,95 343.8,99.6 344,91.1 344.3,108.2 344.5,93.3 344.7,104.2 344.9,97 345.2,101.2 345.4,94.6 345.6,102.6 345.8,96.3 346.1,103.2 346.3,95.5 346.5,99.6 346.8,92.1 347,104.2 347.2,96.4 347.4,99.5 347.7,97.3 347.9,108.3 348.1,95.4 348.3,101.9 348.6,99 348.8,102 349,94.6 349.2,99.4 349.5,99.1 349.7,99.2 349.9,95.7 350.1,101.4 350.4,93.7 350.6,101.4 350.8,98.4 351,99.4 351.3,96.6 351.5,104.1 351.7,94.6 351.9,101 352.2,94.9 352.4,99.7 352.6,93.1 352.9,99.3 353.1,89.1 353.3,105.7 353.5,98.6 353.8,104.9 354,98.2 354.2,103.5 354.4,89 354.7,101.6 354.9,91.5 355.1,101.8 355.3,97.2 355.6,108.5 355.8,94 356,110.1 356.2,98.8 356.5,100.9 356.7,97.1 356.9,109.6 357.1,97.1 357.4,107.3 357.6,89.8 357.8,104.9 358.1,96.4 358.3,110.7 358.5,97 358.7,100.1 359,93.7 359.2,101.7 359.4,96.3 359.6,102.7 359.9,96.7 360.1,108 360.3,89.1 360.5,100.9 360.8,96.2 361,100.8 361.2,91.4 361.4,105.9 361.7,96.7 361.9,101.7 362.1,98.8 362.3,104.8 362.6,96.8 362.8,101.6 363,96.2 363.2,104.6 363.5,98 363.7,103.9 363.9,93.8 364.2,101.5 364.4,99.1 364.6,105.9 364.8,98.6 365.1,103.1 365.3,95.6 365.5,99.8 365.7,95 366,103.9 366.2,95.5 366.4,102.2 366.6,93.2 366.9,100.7 367.1,97.6 367.3,99.8 367.5,95.2 367.8,101.5 368,98.3 368.2,107.2 368.4,91.2 368.7,100.5 368.9,90.6 369.1,99.4 369.4,97.1 369.6,103.9 369.8,97.6 370,112.3 370.3,97.8 370.5,105.7 370.7,92 370.9,101.4 371.2,97.5 371.4,115.8 371.6,93.6 371.8,103.8 372.1,94.7 372.3,104.7 372.5,89.5 372.7,99.4 373,93.8 373.2,103.5 373.4,97.1 373.6,105.4 373.9,96.9 374.1,107.1 374.3,97 374.6,100.3 374.8,94.2 375,101.8 375.2,96.7 375.5,108.8 375.7,92.3 375.9,110.2 376.1,89.7 376.4,100.6 376.6,95.3 376.8,103.3 377,91.3 377.3,101.3 377.5,98.2 377.7,104.4 377.9,94.9 378.2,106.9 378.4,92.4 378.6,106.7 378.8,96.6 379.1,103.4 379.3,96.3 379.5,99.9 379.7,93.3 380,108 380.2,98.3 380.4,100.3 380.7,91.1 380.9,100.7 381.1,98.9 381.3,102.2 381.6,96.2 381.8,109.9 382,98.8 382.2,102.5 382.5,97 382.7,107.6 382.9,89.7 383.1,111.1 383.4,97.3 383.6,102.8 383.8,82 384,104.2 384.3,92 384.5,105.9 384.7,92.1 384.9,111.7 385.2,77 385.4,102 385.6,93 385.9,104.1 386.1,83.3 386.3,101.7 386.5,88.3 386.8,108.4 387,86.6 387.2,112.1 387.4,85.7 387.7,103.9 387.9,97.1 388.1,100.7 388.3,92.7 388.6,113.7 388.8,92.9 389,104 389.2,95.5 389.5,109.3 389.7,94.2 389.9,106.5 390.1,87.6 390.4,104.2 390.6,77.3 390.8,104.4 391,97.9 391.3,108.2 391.5,89.4 391.7,105.6 392,82.5 392.2,104.4 392.4,86.9 392.6,107.8 392.9,93.4 393.1,102.3 393.3,90.6 393.5,132.6 393.8,90.9 394,106.9 394.2,89.5 394.4,106.1 394.7,87.7 394.9,104.9 395.1,87.3 395.3,106.4 395.6,96.9 395.8,110.1 396,83.6 396.2,114.1 396.5,94.2 396.7,99.8 396.9,87.8 397.1,110.7 397.4,95.4 397.6,106.6 397.8,83.1 398.1,124.6 398.3,85.8 398.5,101.6 398.7,86.2 399,103.4 399.2,78.3 399.4,107.9 399.6,90.8 399.9,100 400.1,93.7 400.3,109.7 400.5,87.6 400.8,102.3 401,93.6 401.2,108.6 401.4,94 401.7,110.1 401.9,78.2 402.1,105.6 402.3,77.3 402.6,111.2 402.8,92.5 403,112.2 403.3,84.6 403.5,100.9 403.7,91.8 403.9,112.9 404.2,86.4 404.4,107.7 404.6,97.8 404.8,103.2 405.1,92.9 405.3,118.1 405.5,82.1 405.7,105 406,94.7 406.2,109.8 406.4,81.6 406.6,113.2 406.9,93.6 407.1,102.6 407.3,87.7 407.5,104.5 407.8,83.5 408,102.5 408.2,93.4 408.4,112.5 408.7,94.6 408.9,99.6 409.1,93.3 409.4,114.2 409.6,87.9 409.8,103.8 410,97.1 410.3,102.5 410.5,94 410.7,101.2 410.9,97.1 411.2,108.5 411.4,79.4 411.6,103.9 411.8,90.5 412.1,105 412.3,96.7 412.5,110.2 412.7,89.4 413,100 413.2,98.2 413.4,104.8 413.6,94.9 413.9,101 414.1,90.5 414.3,99.5 414.6,83.4 414.8,104.8 415,89.5 415.2,110.5 415.5,86.9 415.7,105.9 415.9,82.9 416.1,100.1 416.4,97.1 416.6,101 416.8,94.4 417,99.6 417.3,97.8 417.5,109.1 417.7,93.6 417.9,107.2 418.2,93.1 418.4,104.5 418.6,90.9 418.8,107.2 419.1,91.1 419.3,102.7 419.5,86.1 419.8,108.3 420,97.6 420.2,101.2 420.4,87.6 420.7,104.3 420.9,91.1 421.1,102.5 421.3,94 421.6,105.3 421.8,92.2 422,106.1 422.2,93.6 422.5,99.6 422.7,92 422.9,103.7 423.1,94 423.4,104.9 423.6,88.4 423.8,107.1 424,81.4 424.3,109.1 424.5,92.3 424.7,100.1 424.9,95 425.2,100.2 425.4,94.4 425.6,100.2 425.9,92.7 426.1,99.5 426.3,94.9 426.5,117 426.8,93.7 427,104.7 427.2,92.6 427.4,102.1 427.7,88.3 427.9,104 428.1,94.3 428.3,105 428.6,96.4 428.8,104.4 429,90.4 429.2,106.9 429.5,98.7 429.7,100.6 429.9,91.7 430.1,103.3 430.4,92.2 430.6,100.8 430.8,99.1 431,112.2 431.3,90.8 431.5,104 431.7,90.1 432,100.5 432.2,94.2 432.4,101.8 432.6,96.8 432.9,103.5 433.1,92.9 433.3,101.4 433.5,97.6 433.8,101.3 434,95.6 434.2,101.2 434.4,93.8 434.7,110.2 434.9,97.5 435.1,99.2 435.3,89.7 435.6,105.7 435.8,98.6 436,102.6 436.2,92.3 436.5,103.3 436.7,84.7 436.9,107 437.2,87 437.4,103.5 437.6,93.9 437.8,105.4 438.1,97.9 438.3,100.9 438.5,95.3 438.7,110.4 439,96.9 439.2,104.7 439.4,95.4 439.6,103.7 439.9,98.2 440.1,102.1 440.3,98.6 440.5,99.6 440.8,98 441,101.7 441.2,96 441.4,103.8 441.7,94.5 441.9,109.7 442.1,95.3 442.4,108.8 442.6,82.4 442.8,103.4 443,94.9 443.3,109.3 443.5,83.2 443.7,115 443.9,90.4 444.2,108.7 444.4,93.6 444.6,100.5 444.8,97 445.1,104.6 445.3,94.3 445.5,105.9 445.7,97.5 446,105.1 446.2,92.5 446.4,101.3 446.6,98.2 446.9,107.1 447.1,92.3 447.3,101.2 447.5,90.2 447.8,99.4 448,94.6 448.2,103 448.5,98.7 448.7,103.3 448.9,93.6 449.1,103.2 449.4,93.5 449.6,99.4 449.8,94.3 450,102.3 450.3,96.3 450.5,105.7 450.7,95.9 450.9,104.5 451.2,87.2 451.4,106.4 451.6,97.8 451.8,100.3 452.1,97 452.3,99.3 452.5,91 452.7,104.4 453,94.5 453.2,103 453.4,91.6 453.6,100.9 453.9,97.9 454.1,105.6 454.3,97.1 454.6,100.7 454.8,96.7 455,109.8 455.2,94.5 455.5,105.7 455.7,96.1 455.9,103.1 456.1,95.3 456.4,99.5 456.6,99.1 456.8,108.1 457,98.7 457.3,107 457.5,97.5 457.7,101.1 457.9,99.1 458.2,109.9 458.4,96.4 458.6,102.3 458.8,98.4 459.1,100.2 459.3,94.2 459.5,104.9 459.8,92.4 460,104.6 460.2,96.5 460.4,104.1 460.7,96.8 460.9,105.5 461.1,93.2 461.3,108.5 461.6,97.9 461.8,106.4 462,97.4 462.2,101 462.5,89.8 462.7,110.7 462.9,91.1 463.1,100.5 463.4,98.9 463.6,100.4 463.8,97.7 464,102.2 464.3,88.6 464.5,100.7 464.7,95 464.9,105.3 465.2,96.4 465.4,99.8 465.6,97.8 465.9,106.4 466.1,96.8 466.3,109.2 466.5,93.9 466.8,107.5 467,97.8 467.2,102.1 467.4,96.9 467.7,104.7 467.9,94.2 468.1,103 468.3,93.6 468.6,102.2 468.8,98.6 469,102.7 469.2,96.1 469.5,99.3 469.7,94.6 469.9,99.6 470.1,94.8 470.4,106 470.6,91.5 470.8,103 471.1,92.4 471.3,100.6 471.5,98.7 471.7,101.5 472,97 472.2,106 472.4,86.8 472.6,103.5 472.9,88 473.1,99.3 473.3,99.1 473.5,102.7 473.8,90.3 474,104.9 474.2,98.7 474.4,100.1 474.7,96.4 474.9,99.9 475.1,96 475.3,101.2 475.6,98.9 475.8,102.4 476,95.9 476.2,99.9 476.5,98.5 476.7,104.9 476.9,91.5 477.2,99.8 477.4,92.5 477.6,104.5 477.8,95.5 478.1,101.6 478.3,99.1 478.5,100.4 478.7,98.3 479,102 479.2,99 479.4,109 479.6,88.3 479.9,99.5 480.1,97.1 480.3,104.3 480.5,92.5 480.8,109.6 481,97.4 481.2,109.2 481.4,96.6 481.7,99.5 481.9,96.9 482.1,102.2 482.4,93.5 482.6,101.3 482.8,98.5 483,100 483.3,92.6 483.5,103.1 483.7,94.3 483.9,102.2 484.2,97.6 484.4,102.2 484.6,97.3 484.8,103.8 485.1,97.9 485.3,101.2 485.5,94.3 485.7,99.2 486,89.1 486.2,99.5 486.4,83.7 486.6,104 486.9,96.8 487.1,101.6 487.3,85.5 487.5,99.9 487.8,98.3 488,108.5 488.2,92.5 488.5,108.4 488.7,97.9 488.9,102.7 489.1,86.9 489.4,99.8 489.6,97.5 489.8,102.5 490,98.7 490.3,104.7 490.5,94.6 490.7,102.5 490.9,96.3 491.2,104 491.4,93.8 491.6,99.3 491.8,92.6 492.1,105.9 492.3,92.6 492.5,102.6 492.7,98.7 493,101.3 493.2,99 493.4,99.3 493.7,97.5 493.9,102.5 494.1,88.7 494.3,100.3 494.6,96.2 494.8,105.5 495,95.7 495.2,102.6 495.5,95.5 495.7,100.2 495.9,98.9 496.1,100.6 496.4,93.8 496.6,105.5 496.8,97.4 497,111.1 497.3,95.5 497.5,99.8 497.7,94.9 497.9,100.3 498.2,92.5 498.4,103.8 498.6,98.7 498.9,100.8 499.1,98.7 499.3,104 499.5,94.4 499.8,100.7 500,99 500.2,100.4 500.4,96.5 500.7,103.6 500.9,98.9 501.1,101.3 501.3,97.6 501.6,106 501.8,94.3 502,102.9 502.2,97 502.5,106.9 502.7,98.9 502.9,103.3 503.1,92.8 503.4,104 503.6,96.2 503.8,100.1 504,98.5 504.3,103.9 504.5,96.9 504.7,104.1 505,96.8 505.2,108.7 505.4,97.8 505.6,100.1 505.9,98 506.1,102.6 506.3,97.1 506.5,99.3 506.8,91.1 507,102.1 507.2,96.6 507.4,100.2 507.7,92.3 507.9,99.6 508.1,95.1 508.3,103.8 508.6,99 508.8,107.2 509,95.6 509.2,103.2 509.5,98 509.7,100.2 509.9,96 510.1,103.6 510.4,95.7 510.6,101.5 510.8,86.5 511.1,99.6 511.3,97.9 511.5,102.5 511.7,92.2 512,104.9 512.2,98.9 512.4,100.6 512.6,90.2 512.9,111.3 513.1,94.9 513.3,104.3 513.5,96.1 513.8,101.1 514,96.8 514.2,99.3 514.4,91.5 514.7,102.1 514.9,97.5 515.1,105.2 515.3,94.8 515.6,101.4 515.8,97.6 516,107.7 516.3,96.7 516.5,99.6 516.7,95 516.9,100.8 517.2,94.1 517.4,99.7 517.6,97.9 517.8,109.1 518.1,99.1 518.3,102.3 518.5,98.3 518.7,103.8 519,93 519.2,102.5 519.4,93.2 519.6,104.4 519.9,99.1 520.1,103.9 520.3,93.5 520.5,100.2 520.8,93.4 521,102.3 521.2,94.8 521.4,100 521.7,90.6 521.9,99.7 522.1,96 522.4,99.9 522.6,96.9 522.8,103.7 523,92.1 523.3,102.2 523.5,93.6 523.7,104.2 523.9,97 524.2,105 524.4,97.6 524.6,106.5 524.8,96.8 525.1,101.3 525.3,95.3 525.5,102.9 525.7,94.6 526,106.2 526.2,97.9 526.4,99.4 526.6,98.8 526.9,101.1 527.1,92.2 527.3,101.2 527.6,95.7 527.8,105.2 528,92.3 528.2,100.8 528.5,90.7 528.7,102.1 528.9,96.2 529.1,99.2 529.4,91.6 529.6,105.8 529.8,95.9 530,102.2 530.3,92.8 530.5,99.5 530.7,94.2 530.9,102.3 531.2,92.3 531.4,104.5 531.6,96.2 531.8,104.1 532.1,93.4 532.3,105.6 532.5,97.8 532.8,104.2 533,98.6 533.2,102.5 533.4,92.1 533.7,100.7 533.9,96.8 534.1,101.1 534.3,89.4 534.6,102.9 534.8,93.8 535,101 535.2,98.7 535.5,103 535.7,97.3 535.9,106.7 536.1,94.5 536.4,103.6 536.6,98.1 536.8,102.5 537,97.1 537.3,101.7 537.5,90.8 537.7,107.8 537.9,99.1 538.2,99.4 538.4,98.8" fill="none" stroke="#e9b03e" stroke-width="1" stroke-dasharray="1.2,0.9" clip-path="url(#cb)" stroke-linejoin="round"/>
<polyline points="335,98.3 335.2,100.8 335.5,94.3 335.7,101.4 335.9,98.5 336.1,99.2 336.4,98.6 336.6,100 336.8,94.3 337,99.2 337.3,98.3 337.5,99.4 337.7,94.3 337.9,103.2 338.2,94.1 338.4,100.1 338.6,95.7 338.8,104.3 339.1,98 339.3,101.7 339.5,90.6 339.7,107.3 340,99 340.2,99.7 340.4,94 340.6,99.5 340.9,96.2 341.1,109.8 341.3,94 341.6,99.6 341.8,95.1 342,104.3 342.2,98.7 342.5,101 342.7,87.5 342.9,103.5 343.1,98.9 343.4,102.4 343.6,98.8 343.8,105 344,97.2 344.3,99.7 344.5,97 344.7,104.6 344.9,94.3 345.2,101.1 345.4,97.7 345.6,104.5 345.8,98.5 346.1,100.2 346.3,97.2 346.5,99.6 346.8,95.2 347,106.6 347.2,88.7 347.4,101 347.7,97.2 347.9,100.3 348.1,93 348.3,101.3 348.6,98.8 348.8,100.2 349,98.6 349.2,104 349.5,95.9 349.7,102.6 349.9,96.6 350.1,99.8 350.4,93.9 350.6,99.2 350.8,94.2 351,103.6 351.3,96.2 351.5,100.3 351.7,98.2 351.9,99.5 352.2,94.6 352.4,109 352.6,97.6 352.9,106.4 353.1,93.3 353.3,108.7 353.5,94.3 353.8,107.3 354,91.2 354.2,105.4 354.4,98.6 354.7,101.8 354.9,90.4 355.1,100.8 355.3,95.9 355.6,100.1 355.8,94.6 356,100.9 356.2,99.1 356.5,101 356.7,97.5 356.9,108.4 357.1,97.4 357.4,100.1 357.6,96.1 357.8,102.9 358.1,92 358.3,104.6 358.5,94.7 358.7,99.6 359,97.1 359.2,108.8 359.4,87.5 359.6,100.9 359.9,95.7 360.1,104.7 360.3,96 360.5,101.3 360.8,91.1 361,103.7 361.2,91.3 361.4,104 361.7,91.6 361.9,100.8 362.1,88.2 362.3,106.4 362.6,98.2 362.8,104.8 363,98.9 363.2,101 363.5,96.9 363.7,106.6 363.9,91.9 364.2,109.9 364.4,94.4 364.6,108.2 364.8,97.3 365.1,106.1 365.3,99.1 365.5,99.7 365.7,98.7 366,101.6 366.2,97.6 366.4,101.5 366.6,97.4 366.9,103.4 367.1,97.7 367.3,99.9 367.5,92.3 367.8,101.1 368,98.6 368.2,102 368.4,97 368.7,104.9 368.9,96.5 369.1,108.7 369.4,92 369.6,99.4 369.8,96.9 370,104 370.3,96.3 370.5,99.7 370.7,91.1 370.9,109.3 371.2,97.2 371.4,103.5 371.6,94.7 371.8,106.4 372.1,93.3 372.3,102.2 372.5,96.9 372.7,101.6 373,94.5 373.2,102.6 373.4,87.1 373.6,104.5 373.9,88.5 374.1,101.8 374.3,98.8 374.6,104.6 374.8,97 375,103 375.2,97 375.5,101.6 375.7,95.4 375.9,101.1 376.1,93 376.4,99.2 376.6,98.8 376.8,101.1 377,93.4 377.3,110.3 377.5,96.8 377.7,101.5 377.9,84.3 378.2,100 378.4,96.2 378.6,113.8 378.8,97.2 379.1,103.2 379.3,94.1 379.5,101.8 379.7,92.4 380,104.6 380.2,88.3 380.4,101.4 380.7,85 380.9,99.5 381.1,95.7 381.3,100.3 381.6,90.4 381.8,99.4 382,96.1 382.2,107 382.5,96.5 382.7,108.9 382.9,90.8 383.1,111.7 383.4,91.4 383.6,112.2 383.8,90.5 384,104.2 384.3,93.4 384.5,106.5 384.7,89.4 384.9,99.8 385.2,98.3 385.4,106.5 385.6,97.9 385.9,104.8 386.1,97.2 386.3,108.3 386.5,80.4 386.8,101.5 387,97.7 387.2,101.5 387.4,95.2 387.7,105.5 387.9,92.5 388.1,99.7 388.3,98 388.6,108.3 388.8,93.3 389,100.7 389.2,89.5 389.5,111.4 389.7,96 389.9,111 390.1,97.3 390.4,113.7 390.6,97.9 390.8,102.3 391,85.1 391.3,105 391.5,84.5 391.7,102.5 392,91.6 392.2,106.5 392.4,99.1 392.6,101.3 392.9,97.9 393.1,106.2 393.3,94.3 393.5,104.4 393.8,97.5 394,107.4 394.2,96.4 394.4,109.3 394.7,88.3 394.9,121.9 395.1,96.8 395.3,125.2 395.6,95.4 395.8,111.6 396,99 396.2,113.4 396.5,97.4 396.7,105.9 396.9,98.1 397.1,103.3 397.4,64.2 397.6,100 397.8,93.2 398.1,104.6 398.3,94.9 398.5,103.7 398.7,90.6 399,100.7 399.2,83.2 399.4,105.1 399.6,95.7 399.9,102.4 400.1,82.6 400.3,105.5 400.5,91.1 400.8,99.6 401,83 401.2,99.7 401.4,97.8 401.7,111.5 401.9,92.3 402.1,108.6 402.3,89.2 402.6,126.9 402.8,95.4 403,117.3 403.3,94.5 403.5,108.4 403.7,92.3 403.9,100.7 404.2,90.1 404.4,119.9 404.6,89.4 404.8,111.2 405.1,85.1 405.3,110.8 405.5,87.8 405.7,101.2 406,96.5 406.2,102.6 406.4,86.2 406.6,107.1 406.9,99 407.1,104 407.3,92.4 407.5,104.3 407.8,92.1 408,108.7 408.2,87.9 408.4,108.2 408.7,94.1 408.9,105.4 409.1,72.8 409.4,107.2 409.6,96.5 409.8,100.1 410,96.5 410.3,112.3 410.5,94.1 410.7,105.3 410.9,86 411.2,104.9 411.4,90.9 411.6,112.4 411.8,91.2 412.1,117.8 412.3,98.7 412.5,107 412.7,90.5 413,114 413.2,86.7 413.4,112.7 413.6,96.7 413.9,111.9 414.1,95.9 414.3,112.5 414.6,95 414.8,106.9 415,81.8 415.2,113.4 415.5,93.5 415.7,101.1 415.9,95 416.1,101.5 416.4,92.5 416.6,101.3 416.8,79.1 417,100.6 417.3,98.9 417.5,119.1 417.7,93.3 417.9,102.8 418.2,94.9 418.4,108.5 418.6,94.6 418.8,113.2 419.1,88.4 419.3,103.6 419.5,90.5 419.8,99.6 420,92.2 420.2,102.8 420.4,96.4 420.7,105.4 420.9,94.6 421.1,99.8 421.3,92.6 421.6,105.1 421.8,91.2 422,107.2 422.2,92.6 422.5,106.7 422.7,97.5 422.9,105.3 423.1,87.1 423.4,103.9 423.6,93.8 423.8,105.5 424,94.4 424.3,103.6 424.5,88.7 424.7,108.6 424.9,83.5 425.2,101.3 425.4,97.8 425.6,105.9 425.9,99 426.1,99.6 426.3,92.2 426.5,105.8 426.8,92 427,102.6 427.2,89.7 427.4,106.4 427.7,92.4 427.9,104.7 428.1,88.7 428.3,102.1 428.6,91.4 428.8,104.5 429,98.7 429.2,102.3 429.5,84 429.7,101.2 429.9,96.3 430.1,106.4 430.4,95.4 430.6,104.4 430.8,92.6 431,99.2 431.3,94.7 431.5,114.1 431.7,89.1 432,104 432.2,92.7 432.4,112 432.6,87.9 432.9,102.8 433.1,96 433.3,101.6 433.5,91.8 433.8,101.6 434,92.3 434.2,116.8 434.4,97.8 434.7,105.2 434.9,97.1 435.1,100.7 435.3,90.3 435.6,110.2 435.8,92.2 436,104.6 436.2,91.6 436.5,101.8 436.7,95.7 436.9,101.8 437.2,92 437.4,101.9 437.6,97.7 437.8,101.5 438.1,95.9 438.3,107.4 438.5,98 438.7,116.5 439,95.1 439.2,99.5 439.4,93.1 439.6,101.1 439.9,97.6 440.1,103.3 440.3,95 440.5,102 440.8,95.4 441,103.8 441.2,95.7 441.4,102.5 441.7,88.7 441.9,103 442.1,94.8 442.4,101.4 442.6,96.9 442.8,106.6 443,92.7 443.3,102.7 443.5,98.1 443.7,107.1 443.9,88.9 444.2,101.9 444.4,90.7 444.6,101.1 444.8,86.7 445.1,108.4 445.3,98.6 445.5,100 445.7,98.8 446,103 446.2,96 446.4,108.6 446.6,92.7 446.9,102.3 447.1,96.4 447.3,109.4 447.5,93.7 447.8,101.1 448,88.3 448.2,100.1 448.5,96 448.7,99.6 448.9,91.9 449.1,103.7 449.4,91.9 449.6,100.4 449.8,94.5 450,105 450.3,95 450.5,100.5 450.7,96 450.9,102.1 451.2,98.3 451.4,111.1 451.6,98 451.8,104.1 452.1,96.7 452.3,99.4 452.5,89.6 452.7,99.3 453,92.6 453.2,110.7 453.4,92.6 453.6,102.9 453.9,98.9 454.1,102.4 454.3,98.3 454.6,102.5 454.8,94.9 455,104.2 455.2,93.9 455.5,108.7 455.7,93.7 455.9,108.1 456.1,91.8 456.4,105.2 456.6,98.1 456.8,100.3 457,93 457.3,105.8 457.5,96.5 457.7,106.1 457.9,97.1 458.2,99.2 458.4,96.9 458.6,106.6 458.8,95.1 459.1,99.7 459.3,96 459.5,101.1 459.8,98.5 460,104.2 460.2,91.9 460.4,103.1 460.7,92.7 460.9,101.2 461.1,97.6 461.3,100.8 461.6,97.6 461.8,101.7 462,90.8 462.2,100.2 462.5,94.3 462.7,101.6 462.9,89.9 463.1,99.6 463.4,93 463.6,101.4 463.8,96.7 464,102.6 464.3,98.4 464.5,108.3 464.7,93.4 464.9,107.3 465.2,94.1 465.4,100.3 465.6,95 465.9,102.3 466.1,97.8 466.3,107.3 466.5,97.4 466.8,104.2 467,86.5 467.2,100.2 467.4,98.2 467.7,104.8 467.9,96.8 468.1,105.5 468.3,94.3 468.6,100.5 468.8,96.4 469,102.5 469.2,96.7 469.5,105.5 469.7,94.4 469.9,108 470.1,97.2 470.4,104.8 470.6,97 470.8,103.6 471.1,95.2 471.3,103.5 471.5,95.8 471.7,106.4 472,92.7 472.2,101.5 472.4,98.1 472.6,103.2 472.9,98.2 473.1,104.8 473.3,92.1 473.5,103.6 473.8,92.7 474,103.3 474.2,90.5 474.4,109.4 474.7,98.9 474.9,100.4 475.1,95.9 475.3,104.3 475.6,88.9 475.8,99.3 476,88.4 476.2,101 476.5,99.1 476.7,102.4 476.9,95.2 477.2,99.3 477.4,94.5 477.6,100.1 477.8,97.4 478.1,100.9 478.3,97.6 478.5,99.4 478.7,92.1 479,102.7 479.2,98 479.4,111 479.6,95.7 479.9,102.8 480.1,94.7 480.3,108.8 480.5,93.6 480.8,103.6 481,94 481.2,101.4 481.4,98.1 481.7,105.1 481.9,99.1 482.1,99.6 482.4,96.5 482.6,107.1 482.8,94 483,99.6 483.3,92.4 483.5,103 483.7,96.4 483.9,102.7 484.2,94.8 484.4,100.9 484.6,97.7 484.8,102.3 485.1,96.8 485.3,103.3 485.5,97.6 485.7,110.5 486,93.3 486.2,101.5 486.4,94 486.6,99.9 486.9,95.2 487.1,105.6 487.3,96.6 487.5,104.1 487.8,92.4 488,99.4 488.2,94.1 488.5,104.2 488.7,98.4 488.9,102.4 489.1,98.3 489.4,102.8 489.6,94 489.8,104 490,93 490.3,101.5 490.5,94.2 490.7,100 490.9,92.1 491.2,99.2 491.4,97.8 491.6,100.1 491.8,96.6 492.1,100.7 492.3,99.1 492.5,106.1 492.7,99 493,103.3 493.2,97 493.4,99.6 493.7,98.2 493.9,107.1 494.1,91.6 494.3,100.6 494.6,96.9 494.8,100.9 495,94.8 495.2,105.5 495.5,96.8 495.7,99.3 495.9,94.2 496.1,103.7 496.4,96.9 496.6,100.5 496.8,98.1 497,99.2 497.3,98.4 497.5,102.2 497.7,98.2 497.9,100.6 498.2,97.7 498.4,101.8 498.6,94.2 498.9,101.5 499.1,97.1 499.3,100.2 499.5,97.2 499.8,110.2 500,95.5 500.2,100.2 500.4,97.9 500.7,104.7 500.9,98.6 501.1,107.9 501.3,94.6 501.6,102.2 501.8,96.3 502,99.7 502.2,94.5 502.5,99.9 502.7,97.1 502.9,99.7 503.1,94.8 503.4,100.8 503.6,95.9 503.8,109 504,93.4 504.3,110.5 504.5,92.7 504.7,100.7 505,95.1 505.2,100.5 505.4,94.4 505.6,102.7 505.9,96.6 506.1,103.8 506.3,92.6 506.5,109 506.8,97.7 507,102.5 507.2,92.3 507.4,102.1 507.7,98.1 507.9,104.2 508.1,91.8 508.3,104.2 508.6,89.4 508.8,102.1 509,96.5 509.2,99.2 509.5,93.5 509.7,101.8 509.9,97.3 510.1,102.7 510.4,86.7 510.6,102.7 510.8,97.1 511.1,106.7 511.3,92.7 511.5,104.7 511.7,97.3 512,102.3 512.2,95.8 512.4,100.7 512.6,90.7 512.9,106.5 513.1,95.4 513.3,101 513.5,96.2 513.8,103.1 514,94 514.2,100.9 514.4,95.7 514.7,100.2 514.9,91.6 515.1,105 515.3,95.2 515.6,99.8 515.8,95.1 516,102 516.3,95 516.5,103.6 516.7,97.3 516.9,103.9 517.2,98.5 517.4,106.2 517.6,90.6 517.8,100 518.1,92.5 518.3,101.2 518.5,95.9 518.7,108 519,97.5 519.2,105.9 519.4,92 519.6,103.4 519.9,98 520.1,99.8 520.3,99.1 520.5,100.8 520.8,91.1 521,108.1 521.2,99 521.4,102.6 521.7,93.5 521.9,101.2 522.1,97 522.4,101.1 522.6,95.9 522.8,104.1 523,97.2 523.3,99.4 523.5,92.3 523.7,100.6 523.9,95 524.2,101.9 524.4,93.7 524.6,109.2 524.8,90.2 525.1,105.9 525.3,96.8 525.5,99.3 525.7,98.8 526,99.5 526.2,95.7 526.4,101.4 526.6,93.1 526.9,105.2 527.1,88.9 527.3,110.5 527.6,98.3 527.8,106.2 528,96.8 528.2,103.2 528.5,99.2 528.7,103.3 528.9,93.3 529.1,103.5 529.4,95.5 529.6,100.4 529.8,93.8 530,105.9 530.3,97.5 530.5,106.2 530.7,97.2 530.9,107.8 531.2,95.8 531.4,100.3 531.6,87.5 531.8,104.2 532.1,94.8 532.3,101.9 532.5,98.9 532.8,99.6 533,91.8 533.2,103.7 533.4,96.6 533.7,106.9 533.9,96.8 534.1,101.4 534.3,97.1 534.6,104.4 534.8,97.4 535,104.2 535.2,98.3 535.5,102.2 535.7,96.6 535.9,100.9 536.1,91.6 536.4,103.9 536.6,98.3 536.8,103.9 537,89.4 537.3,107.2 537.5,88.8 537.7,103.4 537.9,94.1 538.2,101.9 538.4,99" fill="none" stroke="#c27cf0" stroke-width="1" stroke-dasharray="4,3.2" clip-path="url(#cb)" stroke-linejoin="round"/>
<polyline points="335,98.6 335.2,102.4 335.5,97.9 335.7,100.9 335.9,98.6 336.1,108.5 336.4,97.5 336.6,105 336.8,97.5 337,99.8 337.3,96.6 337.5,101.2 337.7,94.4 337.9,100.3 338.2,94.8 338.4,112.4 338.6,96.7 338.8,107.6 339.1,91.4 339.3,102.6 339.5,96.1 339.7,107.3 340,95.5 340.2,101.1 340.4,95.8 340.6,102.3 340.9,92.2 341.1,104.3 341.3,93 341.6,103.9 341.8,95.4 342,104.9 342.2,94.2 342.5,103.2 342.7,98.3 342.9,100.6 343.1,95.5 343.4,102.2 343.6,93.7 343.8,101.3 344,99 344.3,103.2 344.5,98 344.7,106.9 344.9,96.7 345.2,99.3 345.4,93.4 345.6,102 345.8,95.5 346.1,103.9 346.3,97.5 346.5,101.3 346.8,98.5 347,99.3 347.2,93.8 347.4,102.8 347.7,93.1 347.9,99.3 348.1,98.8 348.3,102.1 348.6,98.1 348.8,102 349,97.1 349.2,106.9 349.5,98.9 349.7,101.8 349.9,97.3 350.1,103.7 350.4,97.2 350.6,103.5 350.8,94.5 351,102 351.3,97 351.5,100.9 351.7,94.2 351.9,99.4 352.2,91.8 352.4,101.4 352.6,96.8 352.9,101.5 353.1,98.6 353.3,100.1 353.5,95.7 353.8,99.8 354,97 354.2,102.3 354.4,98.7 354.7,100.6 354.9,97.9 355.1,101.1 355.3,97.7 355.6,103.7 355.8,95.7 356,101 356.2,93.5 356.5,99.6 356.7,98.4 356.9,103.7 357.1,97.3 357.4,100.3 357.6,96.2 357.8,101.4 358.1,98.3 358.3,106.4 358.5,92.9 358.7,101.7 359,98.2 359.2,103.6 359.4,97 359.6,99.2 359.9,98.4 360.1,101.6 360.3,98.9 360.5,100.2 360.8,98 361,105.2 361.2,97.8 361.4,106.6 361.7,94.7 361.9,106.3 362.1,95.5 362.3,101.4 362.6,97.6 362.8,102 363,98.2 363.2,102.7 363.5,92.7 363.7,105.6 363.9,95.1 364.2,105.3 364.4,93 364.6,104.5 364.8,93.5 365.1,100.2 365.3,98.7 365.5,102.1 365.7,98.8 366,101.9 366.2,99 366.4,103.5 366.6,94 366.9,100.5 367.1,97.9 367.3,99.7 367.5,97.8 367.8,104.5 368,97.5 368.2,99.9 368.4,94.9 368.7,109 368.9,94.4 369.1,103.5 369.4,98.1 369.6,108.6 369.8,95.1 370,106.7 370.3,94.3 370.5,100.1 370.7,97.9 370.9,104.3 371.2,95.5 371.4,104.7 371.6,96.5 371.8,101.7 372.1,93.9 372.3,101.9 372.5,95.8 372.7,106.6 373,95.4 373.2,100 373.4,95.6 373.6,103.4 373.9,91.8 374.1,99.9 374.3,92.7 374.6,99.5 374.8,95.3 375,106.1 375.2,96.7 375.5,103.9 375.7,98.8 375.9,106.1 376.1,99.1 376.4,101.9 376.6,98 376.8,110.4 377,96.9 377.3,101.8 377.5,97.7 377.7,105.6 377.9,91.3 378.2,101.9 378.4,95 378.6,100 378.8,97.1 379.1,103 379.3,95.3 379.5,100 379.7,91.6 380,108.3 380.2,96 380.4,99.9 380.7,88.4 380.9,105 381.1,98.9 381.3,109 381.6,92.6 381.8,104.1 382,86.8 382.2,100.2 382.5,96.3 382.7,101.5 382.9,96.7 383.1,101.2 383.4,87.2 383.6,109.2 383.8,98.1 384,106.6 384.3,84.7 384.5,103.6 384.7,90.8 384.9,112.9 385.2,91.7 385.4,100.9 385.6,96.1 385.9,102.7 386.1,97.1 386.3,113.8 386.5,95 386.8,99.7 387,90.7 387.2,101.8 387.4,95.7 387.7,116.9 387.9,92 388.1,103.7 388.3,99 388.6,108.5 388.8,81 389,107.6 389.2,92 389.5,104.3 389.7,95.5 389.9,108.2 390.1,89.3 390.4,100.1 390.6,78.6 390.8,105.2 391,93 391.3,113.2 391.5,98.4 391.7,110.4 392,92.7 392.2,101.8 392.4,99 392.6,100.5 392.9,93.2 393.1,113.9 393.3,94.3 393.5,112.7 393.8,87.5 394,102.5 394.2,91.9 394.4,101.1 394.7,90.1 394.9,101 395.1,97.8 395.3,99.5 395.6,91.5 395.8,117.6 396,96.2 396.2,108.8 396.5,86.6 396.7,99.7 396.9,94.8 397.1,104.3 397.4,89 397.6,122.5 397.8,97.9 398.1,117.8 398.3,91.2 398.5,112.8 398.7,98.7 399,113.9 399.2,87.5 399.4,105.6 399.6,90.3 399.9,106.9 400.1,95.9 400.3,101.2 400.5,81.4 400.8,103.2 401,83.9 401.2,120 401.4,97.5 401.7,116.4 401.9,93.5 402.1,107.6 402.3,76.9 402.6,107.9 402.8,95 403,121.1 403.3,96.5 403.5,100.4 403.7,81.4 403.9,112.9 404.2,95.2 404.4,101.2 404.6,77.8 404.8,107.3 405.1,90.5 405.3,105.3 405.5,98.8 405.7,102.3 406,90.8 406.2,99.6 406.4,84 406.6,101.9 406.9,93.2 407.1,103.9 407.3,75.9 407.5,106.9 407.8,90.7 408,101 408.2,91.5 408.4,101.7 408.7,81.2 408.9,102.1 409.1,95.1 409.4,104.7 409.6,92.1 409.8,106.4 410,83.9 410.3,103.2 410.5,93.5 410.7,112.4 410.9,82.7 411.2,103.7 411.4,99.1 411.6,100.3 411.8,94.1 412.1,101.9 412.3,93.2 412.5,112.2 412.7,97.1 413,112.3 413.2,89.8 413.4,103.4 413.6,94.4 413.9,100.1 414.1,82.1 414.3,99.3 414.6,95.7 414.8,113.2 415,94.6 415.2,104.5 415.5,98.6 415.7,101.3 415.9,93.4 416.1,111.1 416.4,91.3 416.6,102.7 416.8,97.9 417,108.2 417.3,95.6 417.5,103.1 417.7,96.8 417.9,111.7 418.2,99 418.4,100.7 418.6,92.4 418.8,110.6 419.1,94.7 419.3,101.6 419.5,95.9 419.8,103.8 420,83.4 420.2,106.8 420.4,87.1 420.7,107.4 420.9,95.3 421.1,102.7 421.3,91.9 421.6,104.5 421.8,96.3 422,100.2 422.2,86.2 422.5,106.1 422.7,97 422.9,102.2 423.1,91.9 423.4,100.6 423.6,97.8 423.8,103.2 424,96.9 424.3,100.9 424.5,99.1 424.7,102.5 424.9,95.2 425.2,104.4 425.4,98.9 425.6,110 425.9,89.8 426.1,100.8 426.3,89.3 426.5,101.9 426.8,89.5 427,107.1 427.2,96.2 427.4,106.4 427.7,94.9 427.9,105.4 428.1,91.1 428.3,100.3 428.6,96.1 428.8,105.8 429,96.8 429.2,105.3 429.5,99.1 429.7,99.6 429.9,95.1 430.1,102.1 430.4,91.2 430.6,107 430.8,97.5 431,107.7 431.3,94.6 431.5,103.1 431.7,94 432,106.1 432.2,93.6 432.4,101.6 432.6,95 432.9,102.5 433.1,97.3 433.3,100.8 433.5,92.8 433.8,99.9 434,93.2 434.2,122.3 434.4,95.4 434.7,99.4 434.9,93.1 435.1,104.9 435.3,89.5 435.6,104 435.8,97.4 436,106.3 436.2,90.7 436.5,105.1 436.7,95.7 436.9,102.6 437.2,91.4 437.4,107.3 437.6,96.9 437.8,102.4 438.1,97.4 438.3,100.4 438.5,95.8 438.7,100.9 439,90.6 439.2,99.4 439.4,91.2 439.6,106.3 439.9,96.3 440.1,101.3 440.3,91.7 440.5,108.8 440.8,90.6 441,101.8 441.2,98.1 441.4,105.6 441.7,94.3 441.9,102.4 442.1,97.3 442.4,111.9 442.6,97.1 442.8,100.1 443,97.1 443.3,104.7 443.5,95.7 443.7,105.3 443.9,98.2 444.2,106.6 444.4,94.8 444.6,106.4 444.8,91.8 445.1,103.1 445.3,93.7 445.5,101.7 445.7,95.2 446,100.7 446.2,93 446.4,103.2 446.6,88.3 446.9,109.5 447.1,95.6 447.3,102.4 447.5,94.3 447.8,100.5 448,92.4 448.2,102 448.5,96.5 448.7,103.3 448.9,95.3 449.1,106.5 449.4,93 449.6,103.2 449.8,97.1 450,105.3 450.3,93.5 450.5,102.2 450.7,96.6 450.9,105.2 451.2,98.1 451.4,110.1 451.6,92.7 451.8,101 452.1,94.9 452.3,105.1 452.5,95.1 452.7,102.9 453,97 453.2,102 453.4,96.9 453.6,99.9 453.9,94 454.1,102.8 454.3,96.2 454.6,99.9 454.8,98.7 455,105.9 455.2,94.3 455.5,103.6 455.7,91.4 455.9,103.7 456.1,98 456.4,100 456.6,96.8 456.8,101.2 457,93.7 457.3,101.2 457.5,97.9 457.7,100.5 457.9,90.6 458.2,103.4 458.4,94.7 458.6,100.9 458.8,95.7 459.1,99.3 459.3,98.4 459.5,109.5 459.8,90.6 460,103.7 460.2,97.4 460.4,102.5 460.7,98.3 460.9,101.6 461.1,99.1 461.3,103.5 461.6,92.1 461.8,104.9 462,97.3 462.2,105.7 462.5,97.5 462.7,104.5 462.9,96.8 463.1,103.8 463.4,99.1 463.6,103 463.8,96.3 464,102.2 464.3,90 464.5,108.2 464.7,98.1 464.9,103.7 465.2,93.5 465.4,100.3 465.6,90 465.9,105.2 466.1,95.2 466.3,105.3 466.5,94.1 466.8,102.4 467,97.6 467.2,100.1 467.4,95.2 467.7,101.6 467.9,96.1 468.1,99.6 468.3,91.2 468.6,100.7 468.8,88.6 469,100.7 469.2,98.1 469.5,100.7 469.7,99 469.9,102.9 470.1,92.8 470.4,102.2 470.6,96.2 470.8,100.5 471.1,93.9 471.3,105.1 471.5,88.2 471.7,103 472,97.4 472.2,100.8 472.4,96 472.6,99.7 472.9,97.1 473.1,108.4 473.3,98.1 473.5,99.9 473.8,94.4 474,102.5 474.2,96.5 474.4,101.5 474.7,99.1 474.9,102.3 475.1,96.3 475.3,106.6 475.6,97.6 475.8,100.3 476,95.5 476.2,99.7 476.5,96.2 476.7,102.7 476.9,91.5 477.2,102.3 477.4,94.1 477.6,99.3 477.8,95.1 478.1,102.4 478.3,94 478.5,109.2 478.7,98.1 479,100.2 479.2,98.9 479.4,114.2 479.6,93.1 479.9,99.2 480.1,96.5 480.3,101.7 480.5,94.3 480.8,104.6 481,97.4 481.2,105.2 481.4,91.7 481.7,101.1 481.9,94.9 482.1,105.4 482.4,98.4 482.6,100.8 482.8,98.7 483,101.5 483.3,94.6 483.5,102.5 483.7,94 483.9,101.6 484.2,95.8 484.4,99.8 484.6,95.4 484.8,100.9 485.1,86.7 485.3,100.2 485.5,96.7 485.7,104.1 486,96 486.2,99.3 486.4,98.2 486.6,101 486.9,95.6 487.1,102.4 487.3,97.9 487.5,101 487.8,95.6 488,102.4 488.2,86 488.5,103 488.7,95.9 488.9,100.1 489.1,98.4 489.4,103.1 489.6,96.5 489.8,99.7 490,99.1 490.3,106.7 490.5,96.5 490.7,100.5 490.9,92.5 491.2,100.6 491.4,90.4 491.6,100.8 491.8,97.5 492.1,99.6 492.3,94.7 492.5,101.2 492.7,98 493,103 493.2,97.3 493.4,99.6 493.7,97.9 493.9,100.2 494.1,97.7 494.3,101.1 494.6,99.1 494.8,103.2 495,93.8 495.2,104.7 495.5,98.1 495.7,99.3 495.9,98.6 496.1,99.3 496.4,99.1 496.6,99.4 496.8,95.7 497,103.1 497.3,96.2 497.5,103.6 497.7,91 497.9,103.7 498.2,94.9 498.4,99.8 498.6,96.3 498.9,100.8 499.1,94.7 499.3,99.5 499.5,89.7 499.8,101.1 500,96.4 500.2,101.5 500.4,95.4 500.7,102.8 500.9,92.3 501.1,101.7 501.3,90.4 501.6,109.3 501.8,92.6 502,99.5 502.2,96.4 502.5,102.4 502.7,94.5 502.9,104.9 503.1,98.8 503.4,106.8 503.6,98.3 503.8,109.2 504,95.6 504.3,100.7 504.5,98.2 504.7,105.9 505,98 505.2,104.1 505.4,99.1 505.6,102.4 505.9,97 506.1,101.7 506.3,93.9 506.5,103.3 506.8,98.9 507,101.8 507.2,96.8 507.4,100.3 507.7,95.3 507.9,100.1 508.1,96.5 508.3,103.2 508.6,98.7 508.8,100.9 509,95.8 509.2,100.9 509.5,96.9 509.7,102.3 509.9,96.1 510.1,101 510.4,92.6 510.6,100.7 510.8,92.3 511.1,99.7 511.3,94.7 511.5,100.4 511.7,94.4 512,101.8 512.2,97.3 512.4,100.2 512.6,97 512.9,100.2 513.1,98.9 513.3,101.4 513.5,97.3 513.8,100.4 514,98.8 514.2,100.9 514.4,92.3 514.7,102.4 514.9,95.8 515.1,100 515.3,98 515.6,100.2 515.8,95.5 516,102.1 516.3,97.9 516.5,106.1 516.7,99 516.9,103.9 517.2,91.8 517.4,101 517.6,97.5 517.8,99.6 518.1,98.4 518.3,99.3 518.5,92.5 518.7,100.2 519,95.5 519.2,104 519.4,95.1 519.6,106.4 519.9,96.2 520.1,103.3 520.3,95.6 520.5,102.7 520.8,97.3 521,101.4 521.2,89.3 521.4,101.7 521.7,98.2 521.9,100.1 522.1,95.2 522.4,104.1 522.6,96.6 522.8,104.4 523,92.8 523.3,104.4 523.5,97.2 523.7,103.1 523.9,98.7 524.2,105.4 524.4,96.3 524.6,103.5 524.8,98 525.1,103.6 525.3,97 525.5,99.5 525.7,97.8 526,106.9 526.2,95.8 526.4,100.7 526.6,96.7 526.9,103.3 527.1,96 527.3,101.6 527.6,98 527.8,99.5 528,98.5 528.2,106.9 528.5,93.5 528.7,102.1 528.9,96.5 529.1,106.6 529.4,97.9 529.6,105.1 529.8,92.3 530,101.4 530.3,98.1 530.5,99.6 530.7,95.6 530.9,103.3 531.2,97.5 531.4,102.9 531.6,97.3 531.8,100 532.1,97.3 532.3,104.9 532.5,92.7 532.8,109.1 533,96.5 533.2,101.6 533.4,93.3 533.7,101.8 533.9,93.7 534.1,102.7 534.3,98.2 534.6,103.8 534.8,96.9 535,99.6 535.2,98.2 535.5,105.1 535.7,97.1 535.9,105 536.1,96.4 536.4,104.2 536.6,98 536.8,101.3 537,93.1 537.3,104.9 537.5,98.8 537.7,100.8 537.9,95.4 538.2,99.6 538.4,97.8" fill="none" stroke="#4f96ee" stroke-width="1" stroke-dasharray="1.2,0.9" clip-path="url(#cb)" stroke-linejoin="round"/>
<polyline points="335,97.7 335.2,99.6 335.5,89 335.7,105.8 335.9,93.9 336.1,109.6 336.4,94.6 336.6,103.1 336.8,96.4 337,103.5 337.3,97.7 337.5,103.7 337.7,88.4 337.9,101.9 338.2,89.6 338.4,104 338.6,95.9 338.8,103.7 339.1,96.3 339.3,102.5 339.5,91.5 339.7,104.6 340,93.6 340.2,106.4 340.4,95.7 340.6,103.7 340.9,92.2 341.1,99.7 341.3,96.5 341.6,105.5 341.8,96.5 342,99.3 342.2,98.1 342.5,102.5 342.7,95.2 342.9,103.3 343.1,95.8 343.4,100.1 343.6,89.5 343.8,107.6 344,97.3 344.3,99.7 344.5,93.4 344.7,103 344.9,97.2 345.2,99.4 345.4,95.8 345.6,100.2 345.8,91.6 346.1,101.7 346.3,89.6 346.5,110.2 346.8,91.8 347,105.2 347.2,97.7 347.4,104 347.7,93 347.9,104.1 348.1,94.7 348.3,103.5 348.6,97.1 348.8,101.7 349,93.5 349.2,104.7 349.5,97.1 349.7,104.3 349.9,92.6 350.1,107.6 350.4,92 350.6,101 350.8,96.9 351,99.5 351.3,94.4 351.5,101 351.7,93.8 351.9,100.8 352.2,89.2 352.4,99.9 352.6,93.5 352.9,100.7 353.1,95.4 353.3,101.6 353.5,95.6 353.8,99.9 354,95.1 354.2,100.3 354.4,98.8 354.7,105.3 354.9,91.3 355.1,101.2 355.3,95.5 355.6,102.7 355.8,98.3 356,105.9 356.2,97.5 356.5,99.4 356.7,95.4 356.9,103.5 357.1,97.8 357.4,99.4 357.6,98.7 357.8,107.4 358.1,98.4 358.3,107.4 358.5,93.1 358.7,99.4 359,94.8 359.2,99.8 359.4,95.1 359.6,100.5 359.9,94.7 360.1,101.7 360.3,99.1 360.5,102 360.8,95.1 361,114.6 361.2,97.6 361.4,108.1 361.7,98.3 361.9,103.5 362.1,98.6 362.3,106 362.6,90.6 362.8,100.1 363,98.8 363.2,108.6 363.5,95.9 363.7,99.3 363.9,96.6 364.2,102.8 364.4,82.9 364.6,101.2 364.8,90 365.1,103.9 365.3,97.3 365.5,101.1 365.7,98.8 366,104.5 366.2,96.4 366.4,101.7 366.6,92.1 366.9,103.4 367.1,97.2 367.3,103.6 367.5,96.6 367.8,100.9 368,99.1 368.2,100.3 368.4,88.4 368.7,102.4 368.9,96.7 369.1,103 369.4,94.1 369.6,100.2 369.8,98.3 370,101.7 370.3,96.1 370.5,104.8 370.7,93 370.9,100.2 371.2,98.1 371.4,112.2 371.6,93 371.8,100.4 372.1,94.1 372.3,100 372.5,95.4 372.7,100.2 373,94.8 373.2,106.6 373.4,97.9 373.6,100.3 373.9,98.8 374.1,101.6 374.3,99 374.6,106 374.8,94.7 375,109.5 375.2,88.7 375.5,107 375.7,93.2 375.9,108.6 376.1,94.7 376.4,99.5 376.6,87.4 376.8,106 377,93.7 377.3,101 377.5,98.2 377.7,104.9 377.9,96.4 378.2,102.3 378.4,92.1 378.6,107.5 378.8,89.7 379.1,102.6 379.3,97 379.5,107.4 379.7,91.3 380,99.8 380.2,97.7 380.4,111.1 380.7,95.3 380.9,103 381.1,90.3 381.3,106 381.6,87.3 381.8,109.1 382,86.8 382.2,109.5 382.5,96.2 382.7,108.5 382.9,97.2 383.1,102.7 383.4,94.7 383.6,119.5 383.8,81.3 384,109.2 384.3,90.8 384.5,100.4 384.7,84.9 384.9,103.3 385.2,93.2 385.4,101.3 385.6,96.3 385.9,103 386.1,88.6 386.3,100.5 386.5,94.4 386.8,99.6 387,95.7 387.2,107.5 387.4,96.8 387.7,101.9 387.9,96.9 388.1,107.8 388.3,94.6 388.6,107.4 388.8,84.2 389,104.5 389.2,93.5 389.5,107 389.7,90.8 389.9,111.1 390.1,91 390.4,106.3 390.6,87.8 390.8,99.3 391,94.5 391.3,116 391.5,84.3 391.7,117.9 392,96.5 392.2,99.3 392.4,97.8 392.6,107 392.9,77.4 393.1,102.8 393.3,93.4 393.5,117.8 393.8,96.6 394,108.3 394.2,96.4 394.4,111.9 394.7,98.8 394.9,115.6 395.1,95.5 395.3,110.7 395.6,92.2 395.8,116 396,80.1 396.2,102.1 396.5,89.6 396.7,120.7 396.9,98.6 397.1,101.8 397.4,86.9 397.6,110.1 397.8,94.8 398.1,105.8 398.3,91.5 398.5,105.4 398.7,78.3 399,107.4 399.2,97.6 399.4,103.5 399.6,94.5 399.9,118.6 400.1,82.1 400.3,119.5 400.5,86.4 400.8,106.4 401,89.1 401.2,112.6 401.4,91.2 401.7,119.1 401.9,78.7 402.1,110.9 402.3,94.1 402.6,101.6 402.8,94.6 403,103.5 403.3,92.5 403.5,106.9 403.7,85.9 403.9,104.5 404.2,89.8 404.4,113.1 404.6,97.6 404.8,105.1 405.1,94.8 405.3,122.9 405.5,93.4 405.7,113.3 406,87.9 406.2,115.3 406.4,79.9 406.6,102.3 406.9,94.8 407.1,100.3 407.3,86.9 407.5,108.1 407.8,84.5 408,103.8 408.2,91.3 408.4,102.9 408.7,90.8 408.9,105.4 409.1,93.7 409.4,105.9 409.6,82.7 409.8,110.3 410,95.5 410.3,104.8 410.5,96.3 410.7,117.2 410.9,92.5 411.2,106 411.4,97.6 411.6,111.8 411.8,99.1 412.1,104 412.3,94.1 412.5,99.9 412.7,92.7 413,103 413.2,86.6 413.4,119.1 413.6,90.4 413.9,103.4 414.1,86.3 414.3,105.4 414.6,89 414.8,99.9 415,91.6 415.2,102.8 415.5,97.7 415.7,100 415.9,96.1 416.1,116.5 416.4,99.1 416.6,106.9 416.8,91.8 417,105.6 417.3,89.6 417.5,113 417.7,91.9 417.9,107.3 418.2,90.5 418.4,99.2 418.6,97.3 418.8,121.7 419.1,94.9 419.3,112.4 419.5,86 419.8,103.1 420,97.1 420.2,103.4 420.4,87.3 420.7,111.9 420.9,98.9 421.1,105.3 421.3,89.8 421.6,99.4 421.8,85.8 422,108.4 422.2,95.4 422.5,117.4 422.7,98.3 422.9,101.8 423.1,97 423.4,99.6 423.6,78 423.8,100.6 424,92.5 424.3,100.8 424.5,97 424.7,101.3 424.9,98.6 425.2,104.4 425.4,97.6 425.6,107.2 425.9,98.3 426.1,102.3 426.3,96 426.5,106.8 426.8,94 427,105.7 427.2,97 427.4,112.3 427.7,88.8 427.9,99.5 428.1,93.2 428.3,103.6 428.6,89.6 428.8,102.8 429,97.5 429.2,102.5 429.5,99 429.7,101.3 429.9,95.8 430.1,102.3 430.4,93.7 430.6,99.5 430.8,93.9 431,110.7 431.3,94 431.5,108.6 431.7,87.7 432,100.8 432.2,98.5 432.4,107.4 432.6,96.8 432.9,104.2 433.1,89.6 433.3,102.8 433.5,96 433.8,102 434,91.9 434.2,102.7 434.4,89.5 434.7,108.8 434.9,98.3 435.1,106.7 435.3,90.5 435.6,106.6 435.8,95 436,113.3 436.2,92.7 436.5,101.2 436.7,91.6 436.9,113.7 437.2,92.8 437.4,99.6 437.6,99.1 437.8,106 438.1,97.1 438.3,106.2 438.5,93 438.7,102 439,91.4 439.2,109.1 439.4,90.8 439.6,103.9 439.9,97.2 440.1,99.2 440.3,94.2 440.5,104.3 440.8,97.3 441,101.6 441.2,98.9 441.4,104.3 441.7,94.8 441.9,102.4 442.1,86.4 442.4,112.4 442.6,93.3 442.8,100.8 443,97.1 443.3,102.4 443.5,93 443.7,101.2 443.9,97.8 444.2,103 444.4,90.3 444.6,101.1 444.8,95.7 445.1,102.2 445.3,99 445.5,111.6 445.7,97.9 446,99.9 446.2,91.8 446.4,109.5 446.6,96.7 446.9,104 447.1,96.3 447.3,101.6 447.5,95.5 447.8,101.2 448,90.3 448.2,99.7 448.5,97.3 448.7,103 448.9,96.6 449.1,101.4 449.4,94.2 449.6,105.9 449.8,94.8 450,105.1 450.3,96.6 450.5,103.5 450.7,94.2 450.9,101.4 451.2,98.8 451.4,100 451.6,85.7 451.8,99.2 452.1,97.8 452.3,101.2 452.5,99 452.7,100.5 453,92.9 453.2,110.1 453.4,97.5 453.6,108 453.9,97.7 454.1,99.9 454.3,92.9 454.6,108.2 454.8,97.2 455,102.2 455.2,92.8 455.5,103.4 455.7,98.9 455.9,110.2 456.1,98.8 456.4,99.2 456.6,95.7 456.8,100.9 457,98.6 457.3,103 457.5,96.7 457.7,108.5 457.9,98.5 458.2,107.3 458.4,98.3 458.6,101.1 458.8,94.1 459.1,106.6 459.3,95.2 459.5,103.3 459.8,98.6 460,104.1 460.2,93.9 460.4,99.2 460.7,98.2 460.9,101.5 461.1,99.1 461.3,101.1 461.6,96.8 461.8,101.2 462,98.8 462.2,102.5 462.5,91.6 462.7,102.6 462.9,96.7 463.1,99.2 463.4,93.2 463.6,107.7 463.8,98.5 464,110.3 464.3,93.9 464.5,101.7 464.7,87.9 464.9,108.4 465.2,98.4 465.4,99.6 465.6,98.6 465.9,103.2 466.1,88.5 466.3,100 466.5,94.9 466.8,107.5 467,96.1 467.2,101 467.4,93.3 467.7,99.9 467.9,96 468.1,100.3 468.3,94.1 468.6,103.9 468.8,98.4 469,104.1 469.2,95.4 469.5,103.9 469.7,97.4 469.9,99.4 470.1,96 470.4,99.8 470.6,91.7 470.8,102.3 471.1,94.6 471.3,103.4 471.5,91.3 471.7,100.9 472,95.4 472.2,106.9 472.4,97.7 472.6,107.6 472.9,90.7 473.1,103 473.3,90.2 473.5,103.3 473.8,94.9 474,104.7 474.2,97.6 474.4,101.2 474.7,98.4 474.9,105.8 475.1,96.5 475.3,102.5 475.6,96.8 475.8,102.7 476,95.6 476.2,101.3 476.5,97.3 476.7,102.1 476.9,97.5 477.2,104.1 477.4,90 477.6,105 477.8,94.2 478.1,104.7 478.3,92.7 478.5,101 478.7,95.8 479,100.7 479.2,98.5 479.4,101.4 479.6,96.7 479.9,100.5 480.1,93.2 480.3,101.7 480.5,99.1 480.8,99.7 481,97.5 481.2,102.7 481.4,96.3 481.7,99.7 481.9,91.4 482.1,109.9 482.4,89.8 482.6,106.6 482.8,90.3 483,101.4 483.3,92 483.5,101.4 483.7,91.3 483.9,108.1 484.2,94.6 484.4,110.6 484.6,96.1 484.8,102.7 485.1,96.6 485.3,101.3 485.5,92.9 485.7,105.3 486,88 486.2,101.8 486.4,99.1 486.6,102.3 486.9,98.5 487.1,100.3 487.3,97.2 487.5,105 487.8,92.4 488,102.7 488.2,97.7 488.5,109.3 488.7,94 488.9,108 489.1,96.7 489.4,99.5 489.6,92.8 489.8,99.3 490,88.9 490.3,100.5 490.5,91.2 490.7,100.8 490.9,93.6 491.2,100.9 491.4,92.6 491.6,101.4 491.8,97.3 492.1,105.1 492.3,89.5 492.5,102.6 492.7,97.5 493,99.8 493.2,97.6 493.4,105.1 493.7,98.6 493.9,101 494.1,97.2 494.3,104.9 494.6,98.7 494.8,107.5 495,94.6 495.2,104 495.5,98 495.7,101.2 495.9,96.5 496.1,104.2 496.4,90.7 496.6,107.7 496.8,97.8 497,100.6 497.3,88.9 497.5,99.5 497.7,96.3 497.9,99.4 498.2,93.3 498.4,101.7 498.6,97.5 498.9,100.2 499.1,97.7 499.3,104.9 499.5,89.3 499.8,99.6 500,97.3 500.2,100.5 500.4,89.8 500.7,102.9 500.9,95.2 501.1,100.1 501.3,96.9 501.6,107.1 501.8,97.2 502,107.9 502.2,94.8 502.5,100.5 502.7,99 502.9,99.6 503.1,98.7 503.4,109.7 503.6,96.9 503.8,104.9 504,96.4 504.3,102.2 504.5,98.5 504.7,101.9 505,95.2 505.2,107.3 505.4,98.8 505.6,100.6 505.9,98.1 506.1,100.1 506.3,92.3 506.5,101.6 506.8,93.6 507,114.1 507.2,97.4 507.4,104.5 507.7,89.5 507.9,99.5 508.1,91 508.3,102.2 508.6,96.4 508.8,107.7 509,96.3 509.2,104.4 509.5,93.2 509.7,102.8 509.9,94.3 510.1,111.5 510.4,93.7 510.6,99.4 510.8,92.4 511.1,105.7 511.3,96.8 511.5,103.6 511.7,98.5 512,99.3 512.2,98.1 512.4,108.1 512.6,94.2 512.9,103.8 513.1,97.5 513.3,99.3 513.5,97.5 513.8,107 514,96.9 514.2,99.6 514.4,96.9 514.7,106.2 514.9,96.5 515.1,99.7 515.3,98.2 515.6,99.7 515.8,95.3 516,101.5 516.3,97.6 516.5,102.6 516.7,98 516.9,99.2 517.2,96.7 517.4,107.3 517.6,92.9 517.8,105.2 518.1,94.9 518.3,99.5 518.5,93.6 518.7,99.6 519,94.8 519.2,104.6 519.4,98 519.6,100 519.9,98.5 520.1,104.2 520.3,95 520.5,100.5 520.8,91.9 521,100.9 521.2,98.4 521.4,108.1 521.7,97.1 521.9,99.4 522.1,93.1 522.4,99.4 522.6,99 522.8,100.2 523,92.2 523.3,104.1 523.5,96.8 523.7,100.3 523.9,93.9 524.2,100.5 524.4,92.1 524.6,102 524.8,94.3 525.1,101.5 525.3,91.7 525.5,109.6 525.7,97.3 526,102.2 526.2,98.1 526.4,101.6 526.6,97.3 526.9,100 527.1,96.5 527.3,101.1 527.6,95.8 527.8,104.1 528,94.5 528.2,102.8 528.5,83.5 528.7,103.7 528.9,97.9 529.1,100.4 529.4,91.6 529.6,106.3 529.8,97.4 530,101.9 530.3,98.1 530.5,100.6 530.7,95.8 530.9,101.9 531.2,97.3 531.4,105.7 531.6,96.4 531.8,99.4 532.1,94.2 532.3,105.6 532.5,94.2 532.8,108 533,94.5 533.2,103.4 533.4,98.2 533.7,105.2 533.9,98.5 534.1,104.6 534.3,98.3 534.6,109.1 534.8,92.3 535,102.2 535.2,98.8 535.5,99.4 535.7,97.6 535.9,100.4 536.1,93.8 536.4,102.4 536.6,94.7 536.8,107 537,93.2 537.3,102.7 537.5,97.9 537.7,105.3 537.9,97.1 538.2,104.6 538.4,98.9" fill="none" stroke="#f03c3c" stroke-width="1" stroke-dasharray="3,1.2,1,1.2" clip-path="url(#cb)" stroke-linejoin="round"/>
<polyline points="335,93.5 335.2,101.4 335.5,87.2 335.7,102.5 335.9,92.3 336.1,102.1 336.4,97.8 336.6,101.8 336.8,96.4 337,106.7 337.3,92.2 337.5,103.4 337.7,91.2 337.9,107.3 338.2,98.1 338.4,100.9 338.6,98.4 338.8,101.8 339.1,98.1 339.3,100.7 339.5,98.9 339.7,105.2 340,92.6 340.2,106.5 340.4,96.8 340.6,99.8 340.9,90.5 341.1,103 341.3,94.2 341.6,100.9 341.8,94.4 342,106.5 342.2,98.2 342.5,105.3 342.7,97.1 342.9,108.1 343.1,97 343.4,101 343.6,95.9 343.8,103.4 344,97.2 344.3,104 344.5,99 344.7,100 344.9,93.5 345.2,103.9 345.4,97.9 345.6,100.9 345.8,98.2 346.1,100.2 346.3,90.4 346.5,112.2 346.8,98.6 347,101.3 347.2,92.6 347.4,104.7 347.7,96.9 347.9,104.2 348.1,97.2 348.3,109.1 348.6,97.6 348.8,105.2 349,95.2 349.2,103.4 349.5,89.1 349.7,100.3 349.9,95.2 350.1,101.5 350.4,93.7 350.6,101.7 350.8,90.7 351,99.9 351.3,93.7 351.5,103.9 351.7,97.1 351.9,112.1 352.2,92 352.4,106.3 352.6,92.4 352.9,108.9 353.1,91.8 353.3,104 353.5,93.5 353.8,101.1 354,98.7 354.2,103.4 354.4,98.1 354.7,100.8 354.9,97.8 355.1,105.7 355.3,95.3 355.6,108.7 355.8,97.7 356,103.1 356.2,95.2 356.5,102 356.7,88.8 356.9,100.8 357.1,92.2 357.4,103.3 357.6,94.5 357.8,103.5 358.1,96.8 358.3,100.8 358.5,88.2 358.7,99.3 359,93.1 359.2,104.8 359.4,94.6 359.6,100.3 359.9,98.8 360.1,104.9 360.3,97.9 360.5,100.3 360.8,97 361,99.5 361.2,97.2 361.4,103.9 361.7,94.5 361.9,101.8 362.1,89.7 362.3,103.3 362.6,97.2 362.8,112.7 363,96.9 363.2,102 363.5,96.4 363.7,105.1 363.9,88.9 364.2,107.3 364.4,98.1 364.6,107 364.8,91.5 365.1,105.2 365.3,83.6 365.5,104.2 365.7,98 366,105.1 366.2,98.4 366.4,106.4 366.6,98.9 366.9,105.8 367.1,97.6 367.3,100.4 367.5,89.8 367.8,104.1 368,93.2 368.2,100.6 368.4,97.6 368.7,99.7 368.9,98.1 369.1,99.2 369.4,94.8 369.6,102.3 369.8,96.2 370,99.5 370.3,92.4 370.5,103.2 370.7,95.2 370.9,99.2 371.2,97.8 371.4,100 371.6,95.4 371.8,99.5 372.1,90.8 372.3,117.2 372.5,99.1 372.7,109.5 373,93.3 373.2,106.7 373.4,94.8 373.6,106.8 373.9,97.1 374.1,102.2 374.3,91.1 374.6,109.5 374.8,95.8 375,102 375.2,93.7 375.5,111.9 375.7,97.1 375.9,101.3 376.1,98.5 376.4,100.1 376.6,96.8 376.8,105.4 377,84.7 377.3,112.5 377.5,97.2 377.7,102.5 377.9,97.9 378.2,106.2 378.4,97.8 378.6,102.6 378.8,91.1 379.1,99.4 379.3,96.1 379.5,103.4 379.7,93.7 380,107.5 380.2,95.6 380.4,104 380.7,95.7 380.9,99.8 381.1,97.2 381.3,107.3 381.6,92.7 381.8,106.4 382,97.7 382.2,105.5 382.5,89.9 382.7,103.6 382.9,98.5 383.1,113.5 383.4,79.4 383.6,107 383.8,93.1 384,113.4 384.3,82.7 384.5,104 384.7,91.6 384.9,115.1 385.2,77.3 385.4,100.7 385.6,96 385.9,105.6 386.1,91.6 386.3,114.6 386.5,83.7 386.8,112.4 387,97.6 387.2,107.1 387.4,85 387.7,115.8 387.9,91.4 388.1,101.4 388.3,93.5 388.6,109.4 388.8,95.8 389,122.4 389.2,93.8 389.5,100.7 389.7,90.2 389.9,103 390.1,95.6 390.4,104.7 390.6,91.6 390.8,112.2 391,92.5 391.3,117.1 391.5,95.3 391.7,117.8 392,75.9 392.2,118.3 392.4,86.8 392.6,102.1 392.9,91.8 393.1,113 393.3,97.5 393.5,105.3 393.8,90.1 394,111.3 394.2,89.1 394.4,99.9 394.7,77.8 394.9,107.6 395.1,93.7 395.3,105.2 395.6,93.1 395.8,108.2 396,97.7 396.2,113.8 396.5,68.9 396.7,105.5 396.9,93.5 397.1,118.8 397.4,82.5 397.6,109.4 397.8,85.3 398.1,107.7 398.3,92.4 398.5,103.9 398.7,93.9 399,110.6 399.2,96.1 399.4,111.9 399.6,95.8 399.9,127 400.1,91.7 400.3,99.2 400.5,87.3 400.8,115.7 401,77 401.2,121.6 401.4,90.7 401.7,117.9 401.9,98 402.1,116.1 402.3,98.7 402.6,102.6 402.8,93.2 403,111.4 403.3,87.6 403.5,104.5 403.7,90.9 403.9,103.1 404.2,87.3 404.4,111.2 404.6,90.9 404.8,108 405.1,88.7 405.3,115.5 405.5,85.3 405.7,117.9 406,98 406.2,109.1 406.4,78.3 406.6,99.9 406.9,96.4 407.1,114.9 407.3,74.1 407.5,101.9 407.8,88.3 408,110.2 408.2,92.8 408.4,109.3 408.7,82.2 408.9,103.7 409.1,98.3 409.4,102.9 409.6,97.1 409.8,106.2 410,91.8 410.3,111.8 410.5,94.7 410.7,114.1 410.9,99.1 411.2,115 411.4,92.1 411.6,111.1 411.8,76.4 412.1,102.4 412.3,88 412.5,106.3 412.7,76.6 413,106.5 413.2,84.9 413.4,105.8 413.6,85.4 413.9,115.5 414.1,91.6 414.3,100.1 414.6,93.1 414.8,102.5 415,93.4 415.2,117.3 415.5,92.3 415.7,105.5 415.9,89.6 416.1,111.6 416.4,97.4 416.6,106.8 416.8,94.2 417,102 417.3,90.3 417.5,103 417.7,93.1 417.9,116.4 418.2,89.4 418.4,104.8 418.6,74 418.8,110.1 419.1,90.1 419.3,101.5 419.5,95.7 419.8,105.2 420,99 420.2,112.6 420.4,96.3 420.7,106 420.9,86.5 421.1,100.9 421.3,96.7 421.6,102.3 421.8,90.9 422,102.5 422.2,92.9 422.5,101.5 422.7,92.1 422.9,105.1 423.1,88.5 423.4,102.7 423.6,96.8 423.8,106.1 424,98.9 424.3,104.5 424.5,95.5 424.7,107.3 424.9,91.6 425.2,103.8 425.4,95.1 425.6,107.1 425.9,89.6 426.1,99.9 426.3,94.4 426.5,109.8 426.8,97.6 427,102.3 427.2,93.5 427.4,99.3 427.7,95.3 427.9,110.1 428.1,94.3 428.3,111.5 428.6,91.1 428.8,104.5 429,98.6 429.2,107.4 429.5,94.3 429.7,99.3 429.9,94.6 430.1,99.6 430.4,93.8 430.6,106.8 430.8,94.4 431,108.2 431.3,96.8 431.5,102.1 431.7,89.5 432,105.5 432.2,96.4 432.4,107.5 432.6,91 432.9,100.7 433.1,95.5 433.3,111.4 433.5,97.6 433.8,106 434,96.7 434.2,102.5 434.4,94.9 434.7,108.3 434.9,99.1 435.1,103.1 435.3,93.3 435.6,105.4 435.8,97.7 436,100.2 436.2,97.2 436.5,100.4 436.7,97.9 436.9,106 437.2,94.2 437.4,102.1 437.6,91.5 437.8,108.5 438.1,92.9 438.3,106.6 438.5,94.1 438.7,99.6 439,96 439.2,104.7 439.4,86.9 439.6,106.8 439.9,95.2 440.1,100.4 440.3,97.5 440.5,106.9 440.8,93.7 441,106.4 441.2,97 441.4,100.5 441.7,89.2 441.9,104.9 442.1,98.4 442.4,100.1 442.6,97.1 442.8,111.3 443,99.1 443.3,101.8 443.5,87.6 443.7,102.8 443.9,95.4 444.2,108.7 444.4,92.1 444.6,100.8 444.8,96.2 445.1,100.1 445.3,98.1 445.5,104.6 445.7,93.8 446,101.8 446.2,98.5 446.4,109.7 446.6,94 446.9,102.6 447.1,92.3 447.3,108 447.5,90.9 447.8,104 448,90 448.2,100.3 448.5,94.7 448.7,113 448.9,96.5 449.1,109.9 449.4,98.2 449.6,99.3 449.8,94.1 450,105 450.3,97.1 450.5,102.6 450.7,95.8 450.9,108.5 451.2,97.8 451.4,112.2 451.6,94.6 451.8,101.6 452.1,95.6 452.3,103.9 452.5,96.6 452.7,100.8 453,88.1 453.2,102.5 453.4,92 453.6,100.8 453.9,95.5 454.1,102.2 454.3,87.8 454.6,101.6 454.8,97.4 455,102.8 455.2,96.8 455.5,100.7 455.7,95.5 455.9,101.1 456.1,97.8 456.4,113.2 456.6,98.2 456.8,102.8 457,94.1 457.3,101.4 457.5,96.2 457.7,102.2 457.9,93 458.2,99.9 458.4,90.1 458.6,103.5 458.8,94.1 459.1,100.8 459.3,94.4 459.5,99.8 459.8,96.4 460,100.5 460.2,95.6 460.4,104 460.7,97.5 460.9,100.7 461.1,98.9 461.3,111.1 461.6,97.7 461.8,106.8 462,91.5 462.2,107.8 462.5,89.9 462.7,103.6 462.9,96.3 463.1,104.4 463.4,97.9 463.6,102.5 463.8,94.1 464,102.5 464.3,96.7 464.5,108.9 464.7,98.9 464.9,111.5 465.2,84.1 465.4,106.3 465.6,98.9 465.9,104.5 466.1,98.3 466.3,102.2 466.5,98.7 466.8,104.3 467,94.1 467.2,100.5 467.4,99.1 467.7,99.7 467.9,98.6 468.1,102.2 468.3,99.1 468.6,101.8 468.8,92 469,103.4 469.2,89.8 469.5,100.1 469.7,91.4 469.9,106.4 470.1,97.3 470.4,115.4 470.6,97.9 470.8,102.4 471.1,97.2 471.3,105.8 471.5,95.9 471.7,99.8 472,88.4 472.2,105.2 472.4,98.3 472.6,102.7 472.9,93.6 473.1,102.5 473.3,96.7 473.5,109.5 473.8,88.6 474,100.5 474.2,97.9 474.4,101.8 474.7,86.8 474.9,99.2 475.1,92 475.3,102.6 475.6,98.6 475.8,100.5 476,95.8 476.2,102.1 476.5,94.8 476.7,105.8 476.9,97.1 477.2,106.2 477.4,95.7 477.6,104 477.8,97.8 478.1,104.5 478.3,98.7 478.5,102.1 478.7,96.1 479,99.6 479.2,93.5 479.4,100.9 479.6,98.6 479.9,107.1 480.1,98.7 480.3,105.3 480.5,94.9 480.8,101.6 481,96.3 481.2,104.4 481.4,98.6 481.7,106.4 481.9,92.5 482.1,104.2 482.4,94.2 482.6,108.7 482.8,91.4 483,101.4 483.3,92.8 483.5,100 483.7,93.5 483.9,99.3 484.2,98.3 484.4,101.6 484.6,96.5 484.8,107.2 485.1,95.9 485.3,103.8 485.5,98.8 485.7,99.4 486,87.5 486.2,110.9 486.4,95.5 486.6,108.9 486.9,97.4 487.1,100.5 487.3,78.8 487.5,101 487.8,89.6 488,106.1 488.2,96.7 488.5,101.7 488.7,90.3 488.9,100 489.1,98.1 489.4,101.8 489.6,91 489.8,103.6 490,97.4 490.3,102 490.5,94.2 490.7,101 490.9,98.4 491.2,100 491.4,95.5 491.6,99.7 491.8,98.3 492.1,106.8 492.3,93.4 492.5,100.8 492.7,90.5 493,100.5 493.2,95.5 493.4,103.6 493.7,95.8 493.9,102.9 494.1,94.5 494.3,102.9 494.6,98.9 494.8,113.8 495,87.7 495.2,99.4 495.5,97.8 495.7,104.2 495.9,97.1 496.1,112.5 496.4,92.2 496.6,105.1 496.8,98.7 497,106.6 497.3,93.2 497.5,101.9 497.7,94.7 497.9,103.6 498.2,95.8 498.4,101.7 498.6,97 498.9,99.6 499.1,98.5 499.3,102.4 499.5,95.7 499.8,100 500,98.1 500.2,99.5 500.4,94.7 500.7,108.3 500.9,96.5 501.1,103.1 501.3,98.2 501.6,105.6 501.8,87.3 502,110 502.2,97.9 502.5,105.9 502.7,98.6 502.9,111.1 503.1,96.6 503.4,105.9 503.6,96.5 503.8,106.2 504,91.5 504.3,100.3 504.5,97.4 504.7,110.6 505,97.4 505.2,106.1 505.4,95.4 505.6,103.6 505.9,93.9 506.1,102.3 506.3,89.7 506.5,102.4 506.8,95.9 507,102.6 507.2,98.1 507.4,100.4 507.7,96.4 507.9,102.5 508.1,95.4 508.3,100.8 508.6,91.9 508.8,99.6 509,91 509.2,99.4 509.5,98.5 509.7,104.9 509.9,94.8 510.1,109.4 510.4,92.2 510.6,106.7 510.8,92.5 511.1,100.2 511.3,98.7 511.5,102.5 511.7,98.9 512,106.4 512.2,96.4 512.4,101.6 512.6,95.4 512.9,101.6 513.1,96.2 513.3,109 513.5,93.3 513.8,99.4 514,96.9 514.2,103.4 514.4,97.2 514.7,101.9 514.9,91.4 515.1,104.9 515.3,92.9 515.6,100.7 515.8,96.6 516,102 516.3,96.9 516.5,101.4 516.7,96.3 516.9,105.3 517.2,99 517.4,103.8 517.6,93.5 517.8,104.6 518.1,95.6 518.3,104 518.5,99 518.7,99.6 519,96 519.2,102.5 519.4,92 519.6,106.6 519.9,93.8 520.1,99.6 520.3,97.1 520.5,100.8 520.8,91.1 521,105.8 521.2,93.5 521.4,103.7 521.7,95.5 521.9,106.2 522.1,91.6 522.4,101.1 522.6,97.5 522.8,100.9 523,99.1 523.3,105 523.5,93.8 523.7,102.5 523.9,94.8 524.2,102.4 524.4,91.2 524.6,111.4 524.8,93.5 525.1,100.9 525.3,93.5 525.5,102.5 525.7,98.1 526,104.5 526.2,90.8 526.4,99.7 526.6,97.2 526.9,104.8 527.1,94.1 527.3,103.6 527.6,97.9 527.8,100.8 528,97.4 528.2,100.7 528.5,98.1 528.7,106.9 528.9,97.9 529.1,104.7 529.4,98.9 529.6,106.8 529.8,96 530,99.2 530.3,97.1 530.5,101.1 530.7,98 530.9,103.7 531.2,97.8 531.4,104 531.6,93.5 531.8,103.9 532.1,94.8 532.3,101.1 532.5,97 532.8,103.9 533,92.7 533.2,99.7 533.4,89.1 533.7,101.4 533.9,95.2 534.1,105.7 534.3,96.3 534.6,103.3 534.8,97 535,100.7 535.2,95.1 535.5,106.5 535.7,96.4 535.9,100 536.1,92 536.4,101.9 536.6,97.3 536.8,101 537,95.9 537.3,99.7 537.5,91.1 537.7,100 537.9,98.2 538.2,101.4 538.4,85.9" fill="none" stroke="#1fcaca" stroke-width="1" stroke-dasharray="3,1.2,1,1.2" clip-path="url(#cb)" stroke-linejoin="round"/>
<polyline points="335,91.2 335.2,101.8 335.5,95.8 335.7,102.9 335.9,98.2 336.1,100.1 336.4,98.7 336.6,103.6 336.8,95.1 337,101.6 337.3,97.8 337.5,109.9 337.7,98.9 337.9,105.4 338.2,95.8 338.4,100.2 338.6,91.7 338.8,103.2 339.1,93.4 339.3,105.6 339.5,97.4 339.7,110.9 340,95.9 340.2,105.7 340.4,97 340.6,100.2 340.9,91 341.1,105.7 341.3,91 341.6,100.9 341.8,97.4 342,100.8 342.2,93.9 342.5,106.8 342.7,94.9 342.9,100 343.1,95.1 343.4,101.4 343.6,96.9 343.8,104.4 344,94.9 344.3,103.8 344.5,85.7 344.7,100.2 344.9,91.2 345.2,105.4 345.4,96.3 345.6,102.7 345.8,96.7 346.1,103.7 346.3,96.3 346.5,99.6 346.8,96.8 347,102.3 347.2,98.6 347.4,99.3 347.7,91.9 347.9,100.6 348.1,98.5 348.3,99.4 348.6,99 348.8,101.9 349,95 349.2,104.8 349.5,91.4 349.7,104.8 349.9,96.5 350.1,107.3 350.4,96.8 350.6,99.8 350.8,95.2 351,100.2 351.3,97.5 351.5,106.7 351.7,95.6 351.9,104.4 352.2,94.8 352.4,106 352.6,97.9 352.9,102.1 353.1,94.2 353.3,108.6 353.5,91.1 353.8,101.1 354,97.1 354.2,100.4 354.4,93.7 354.7,100.9 354.9,97.6 355.1,107.1 355.3,90.6 355.6,101.2 355.8,98.6 356,104 356.2,98.5 356.5,102.4 356.7,90 356.9,103.8 357.1,96.2 357.4,109.7 357.6,99 357.8,106.5 358.1,85.9 358.3,106.4 358.5,99 358.7,108.9 359,95.3 359.2,104.4 359.4,93.2 359.6,105.1 359.9,98.9 360.1,103.1 360.3,96.7 360.5,99.5 360.8,97.2 361,101.8 361.2,99.1 361.4,103.5 361.7,97.6 361.9,110.8 362.1,88.2 362.3,105.3 362.6,96.1 362.8,106.1 363,93 363.2,101.8 363.5,93.8 363.7,104.8 363.9,97.6 364.2,103.2 364.4,97.1 364.6,101.2 364.8,94.5 365.1,101.5 365.3,96.9 365.5,104 365.7,93.6 366,100.2 366.2,95.6 366.4,104.5 366.6,94.9 366.9,104.9 367.1,92.1 367.3,105.7 367.5,93 367.8,100.1 368,94.2 368.2,105.5 368.4,97.3 368.7,99.5 368.9,95.1 369.1,102.1 369.4,91.2 369.6,99.4 369.8,99 370,109.9 370.3,97.6 370.5,106.5 370.7,84.7 370.9,102.9 371.2,97.7 371.4,104.2 371.6,96.2 371.8,107.6 372.1,90.9 372.3,105.4 372.5,91.5 372.7,101.1 373,95.6 373.2,102.9 373.4,93.5 373.6,100.4 373.9,97.5 374.1,109 374.3,95.1 374.6,101.2 374.8,90.8 375,99.6 375.2,94.8 375.5,100.1 375.7,94.3 375.9,103.9 376.1,89.3 376.4,101.4 376.6,96.2 376.8,105.1 377,89.9 377.3,112.4 377.5,98.5 377.7,103.9 377.9,90.9 378.2,110.7 378.4,92.4 378.6,102 378.8,91.4 379.1,104.8 379.3,89.3 379.5,107.6 379.7,92.5 380,102.6 380.2,82.7 380.4,104.5 380.7,93.7 380.9,110.2 381.1,97.1 381.3,100.2 381.6,92.4 381.8,101.2 382,97.2 382.2,102.9 382.5,99 382.7,100.5 382.9,93.4 383.1,100.9 383.4,90.8 383.6,113.7 383.8,89.2 384,100.9 384.3,89.7 384.5,99.6 384.7,92 384.9,112.1 385.2,94 385.4,99.6 385.6,97.3 385.9,100.8 386.1,84 386.3,101 386.5,96.5 386.8,106.8 387,97 387.2,114.1 387.4,86.1 387.7,103.2 387.9,81.2 388.1,108 388.3,87.4 388.6,101.6 388.8,82.2 389,101.1 389.2,91.7 389.5,102.9 389.7,96.9 389.9,99.3 390.1,80.3 390.4,105.4 390.6,85.3 390.8,109.1 391,84.7 391.3,99.7 391.5,85.5 391.7,108.4 392,85.4 392.2,105.6 392.4,91.8 392.6,105.7 392.9,95.3 393.1,114.6 393.3,85.7 393.5,113.3 393.8,93.1 394,117.4 394.2,94.6 394.4,111.5 394.7,98.7 394.9,105 395.1,90.6 395.3,110.1 395.6,91.9 395.8,100.3 396,85.4 396.2,109.8 396.5,92.2 396.7,108.1 396.9,91.6 397.1,120.7 397.4,93.5 397.6,103.5 397.8,85.7 398.1,111.3 398.3,95.7 398.5,119 398.7,87.9 399,107.3 399.2,98.8 399.4,115.8 399.6,87.1 399.9,103.4 400.1,95.5 400.3,104 400.5,90.7 400.8,111.2 401,86.5 401.2,100.8 401.4,97.2 401.7,109.9 401.9,90.3 402.1,105.7 402.3,98.7 402.6,110.1 402.8,91.2 403,116.9 403.3,92.5 403.5,109.9 403.7,95.3 403.9,113.9 404.2,93.6 404.4,106.7 404.6,98 404.8,104 405.1,85.4 405.3,112.2 405.5,98.8 405.7,104.2 406,79.1 406.2,100.8 406.4,94.5 406.6,99.5 406.9,87.6 407.1,109.3 407.3,85.4 407.5,105.1 407.8,83.3 408,121.3 408.2,97.4 408.4,101.5 408.7,97.7 408.9,107.9 409.1,95.1 409.4,114.1 409.6,98.7 409.8,103.6 410,91.7 410.3,109.2 410.5,93.7 410.7,100.1 410.9,98.9 411.2,101 411.4,98.9 411.6,112.5 411.8,72.6 412.1,104 412.3,86.8 412.5,113.1 412.7,92.2 413,101 413.2,91.4 413.4,104.1 413.6,88.6 413.9,100.5 414.1,96.4 414.3,101.9 414.6,94.5 414.8,108.7 415,94.6 415.2,106.7 415.5,95 415.7,107 415.9,89.5 416.1,101.6 416.4,76.7 416.6,108.3 416.8,94 417,103.6 417.3,98.6 417.5,113 417.7,87.6 417.9,103.1 418.2,98.2 418.4,101.6 418.6,97.4 418.8,109.4 419.1,98.3 419.3,111.3 419.5,96.4 419.8,108.2 420,95.6 420.2,103.1 420.4,95.3 420.7,99.3 420.9,95.4 421.1,111.7 421.3,91.8 421.6,103.3 421.8,96.8 422,101 422.2,85.7 422.5,102.2 422.7,98.2 422.9,103.9 423.1,94 423.4,100.4 423.6,88.1 423.8,114.8 424,90.2 424.3,100.6 424.5,92 424.7,99.3 424.9,98.8 425.2,103.1 425.4,94.9 425.6,108.2 425.9,91.5 426.1,106.6 426.3,98.5 426.5,116.1 426.8,99 427,109.9 427.2,96.1 427.4,102.7 427.7,98.8 427.9,101.3 428.1,92.6 428.3,106.1 428.6,97.6 428.8,110.5 429,92.7 429.2,102.8 429.5,94.3 429.7,105.9 429.9,91 430.1,99.5 430.4,96 430.6,99.5 430.8,97.2 431,110.9 431.3,95.5 431.5,113 431.7,99.1 432,99.8 432.2,98.8 432.4,110.6 432.6,92.3 432.9,100 433.1,98.2 433.3,110.4 433.5,96.7 433.8,100.3 434,90.8 434.2,102.6 434.4,90.3 434.7,99.3 434.9,92.4 435.1,101.3 435.3,91.3 435.6,100.7 435.8,97 436,100.1 436.2,95.1 436.5,105.2 436.7,98.1 436.9,103.6 437.2,98.8 437.4,101.6 437.6,83.7 437.8,100.2 438.1,90.7 438.3,100.5 438.5,95.9 438.7,101.5 439,95.4 439.2,108.5 439.4,94.6 439.6,105.3 439.9,96.1 440.1,101.3 440.3,97.3 440.5,100 440.8,98 441,99.7 441.2,97.7 441.4,105.9 441.7,94.5 441.9,102.1 442.1,96.4 442.4,115.1 442.6,99 442.8,114.2 443,87.8 443.3,103.1 443.5,95.6 443.7,103.9 443.9,91.5 444.2,101.1 444.4,98.7 444.6,104.5 444.8,98.8 445.1,102.8 445.3,96.1 445.5,106.1 445.7,85.3 446,99.7 446.2,94.6 446.4,101.3 446.6,89.8 446.9,108.5 447.1,98 447.3,105.2 447.5,89.9 447.8,99.4 448,98.1 448.2,103.7 448.5,98.4 448.7,102.7 448.9,94.2 449.1,99.7 449.4,95 449.6,103.3 449.8,96.7 450,107.1 450.3,92.7 450.5,106.8 450.7,93.5 450.9,102 451.2,91.8 451.4,101.6 451.6,98.4 451.8,102.5 452.1,95.5 452.3,100.6 452.5,97.5 452.7,100.4 453,97.4 453.2,105.2 453.4,96.5 453.6,106.3 453.9,96.1 454.1,101.3 454.3,95.7 454.6,102.6 454.8,83 455,100.8 455.2,98.7 455.5,103.6 455.7,91.8 455.9,102.1 456.1,94.2 456.4,104.6 456.6,97.9 456.8,101.5 457,94.5 457.3,101 457.5,94.3 457.7,101.2 457.9,92.5 458.2,104.5 458.4,95.4 458.6,109.3 458.8,95.5 459.1,101.6 459.3,94.1 459.5,100.1 459.8,96.2 460,102.5 460.2,98 460.4,103 460.7,95.6 460.9,99.7 461.1,95 461.3,104.3 461.6,95.9 461.8,102.4 462,96.5 462.2,100.5 462.5,92.3 462.7,100.9 462.9,97 463.1,101.3 463.4,89.7 463.6,109.7 463.8,97.9 464,101.2 464.3,99 464.5,110.7 464.7,93.5 464.9,102.8 465.2,94.5 465.4,101.5 465.6,97.2 465.9,99.2 466.1,98.3 466.3,101.7 466.5,96.2 466.8,107.1 467,94.2 467.2,100.1 467.4,89.5 467.7,104.4 467.9,94 468.1,100.2 468.3,96.7 468.6,102.3 468.8,95.1 469,103 469.2,93.8 469.5,103.8 469.7,99.2 469.9,106.4 470.1,99.1 470.4,101.7 470.6,92.7 470.8,103.6 471.1,96.4 471.3,101.8 471.5,98.2 471.7,101.4 472,96.6 472.2,107.5 472.4,95.7 472.6,103 472.9,91.3 473.1,104 473.3,92.5 473.5,103 473.8,98.1 474,101 474.2,97 474.4,102.9 474.7,96.4 474.9,100.5 475.1,98.4 475.3,103.9 475.6,98.3 475.8,99.6 476,95.9 476.2,103.2 476.5,97.7 476.7,103.4 476.9,97.6 477.2,103.3 477.4,95.6 477.6,100 477.8,96.3 478.1,104.7 478.3,94.8 478.5,99.9 478.7,96.3 479,103.4 479.2,89.6 479.4,103.7 479.6,90.7 479.9,101.2 480.1,96.5 480.3,104.7 480.5,98.8 480.8,100 481,98.5 481.2,101 481.4,99 481.7,100.2 481.9,98.5 482.1,101.6 482.4,93.7 482.6,99.2 482.8,98.6 483,101.5 483.3,95.6 483.5,105.4 483.7,97.4 483.9,103.3 484.2,96.6 484.4,101.4 484.6,98.9 484.8,101 485.1,91.5 485.3,101.3 485.5,95.6 485.7,100.4 486,98.6 486.2,103 486.4,95.6 486.6,107.6 486.9,98.3 487.1,101.4 487.3,96.8 487.5,102.3 487.8,91.5 488,100.8 488.2,96.4 488.5,100.5 488.7,97.9 488.9,99.3 489.1,95.6 489.4,111.3 489.6,96.6 489.8,104.2 490,98.1 490.3,109.7 490.5,99.1 490.7,108 490.9,89.6 491.2,100.1 491.4,93.4 491.6,103 491.8,95.4 492.1,101.8 492.3,99.1 492.5,104.8 492.7,96 493,105.6 493.2,92.8 493.4,99.5 493.7,94.2 493.9,107.8 494.1,91.4 494.3,106.1 494.6,93.2 494.8,107 495,98.4 495.2,100.2 495.5,98.7 495.7,100.4 495.9,92.3 496.1,99.9 496.4,90.4 496.6,109.2 496.8,94.9 497,104.4 497.3,97.5 497.5,103.5 497.7,98.9 497.9,101 498.2,98 498.4,102 498.6,95.3 498.9,103.2 499.1,98.7 499.3,109.9 499.5,95.3 499.8,102.9 500,98.9 500.2,102.8 500.4,92.6 500.7,99.8 500.9,94.9 501.1,100.7 501.3,94.3 501.6,105 501.8,92.6 502,102.4 502.2,97.8 502.5,105.7 502.7,90.8 502.9,102 503.1,98.3 503.4,108 503.6,92 503.8,103.6 504,98.2 504.3,100.2 504.5,97.2 504.7,106.3 505,94.8 505.2,99.6 505.4,98.7 505.6,105.9 505.9,96.5 506.1,99.4 506.3,97.8 506.5,101.2 506.8,98.6 507,102.8 507.2,99.1 507.4,105.6 507.7,95.6 507.9,100.1 508.1,92.3 508.3,99.7 508.6,95.8 508.8,105.7 509,95.6 509.2,101.6 509.5,90.3 509.7,106.1 509.9,95.7 510.1,102.5 510.4,92.2 510.6,99.3 510.8,97.5 511.1,102.3 511.3,97.8 511.5,107.1 511.7,92 512,104.7 512.2,95.9 512.4,101.9 512.6,91.3 512.9,103.6 513.1,94.6 513.3,100.7 513.5,94 513.8,101.5 514,90.2 514.2,105.9 514.4,98.9 514.7,102.7 514.9,94.8 515.1,101.9 515.3,91.9 515.6,105.3 515.8,96.4 516,107.7 516.3,95.9 516.5,99.9 516.7,88.2 516.9,99.8 517.2,97.1 517.4,102.6 517.6,95 517.8,107.1 518.1,95.5 518.3,100.4 518.5,96.7 518.7,103.5 519,94 519.2,108.2 519.4,97 519.6,101.7 519.9,90.7 520.1,102.2 520.3,97.9 520.5,105.1 520.8,98.4 521,99.6 521.2,97.1 521.4,102.8 521.7,91.5 521.9,105.7 522.1,94.4 522.4,102.3 522.6,96.7 522.8,103.3 523,96 523.3,101.9 523.5,95.5 523.7,102.2 523.9,95.9 524.2,100.9 524.4,95.1 524.6,100.3 524.8,99 525.1,104.6 525.3,94.9 525.5,103.5 525.7,97.1 526,104.1 526.2,94 526.4,103.6 526.6,92.7 526.9,108.8 527.1,93.6 527.3,103.7 527.6,97.6 527.8,102.9 528,96.3 528.2,99.6 528.5,92.5 528.7,101.1 528.9,92.3 529.1,113 529.4,98.2 529.6,111.8 529.8,96.9 530,104.4 530.3,98.7 530.5,99.6 530.7,93.1 530.9,104.8 531.2,97.9 531.4,100.1 531.6,86.4 531.8,104 532.1,99 532.3,99.2 532.5,97.7 532.8,104.2 533,98.9 533.2,104.3 533.4,93.8 533.7,101.4 533.9,97.8 534.1,103.2 534.3,92.6 534.6,101.8 534.8,97.1 535,109.9 535.2,94.8 535.5,108.7 535.7,93 535.9,100.1 536.1,95.5 536.4,100.5 536.6,86.2 536.8,105.2 537,92.5 537.3,99.8 537.5,93 537.7,107.8 537.9,98.3 538.2,111.2 538.4,91.4" fill="none" stroke="#12ad66" stroke-width="1" clip-path="url(#cb)" stroke-linejoin="round"/>
<polyline points="335,99 335.2,100.3 335.5,98.6 335.7,102.2 335.9,94.9 336.1,104.7 336.4,93.6 336.6,100 336.8,94.4 337,99.9 337.3,94.8 337.5,101 337.7,97.7 337.9,103.7 338.2,96.1 338.4,100.5 338.6,96.5 338.8,101.1 339.1,94.9 339.3,100.7 339.5,95 339.7,101.7 340,95.4 340.2,101.7 340.4,97.1 340.6,100.5 340.9,91.8 341.1,102.2 341.3,96.5 341.6,100.6 341.8,94 342,103.6 342.2,96.1 342.5,101.6 342.7,97.7 342.9,99.9 343.1,98 343.4,100.8 343.6,98.2 343.8,101.8 344,98.4 344.3,100.4 344.5,96.3 344.7,101.3 344.9,96.7 345.2,104.7 345.4,95.8 345.6,100.5 345.8,95.9 346.1,103 346.3,92.5 346.5,102.2 346.8,95.5 347,103.5 347.2,92.4 347.4,101.2 347.7,98.9 347.9,100.5 348.1,95.1 348.3,101.2 348.6,95.4 348.8,100.9 349,94.7 349.2,102.2 349.5,97.7 349.7,99.5 349.9,96.1 350.1,99.7 350.4,96.4 350.6,104 350.8,89.8 351,100.2 351.3,97.7 351.5,100.3 351.7,96 351.9,100.5 352.2,93.2 352.4,99.5 352.6,96.9 352.9,101.8 353.1,93 353.3,99.3 353.5,97.2 353.8,103 354,95.8 354.2,102.1 354.4,96.2 354.7,101.8 354.9,97.6 355.1,102.4 355.3,97.4 355.6,99.4 355.8,97.5 356,101.6 356.2,97.1 356.5,100.4 356.7,95.7 356.9,99.6 357.1,98 357.4,99.5 357.6,98.7 357.8,99.8 358.1,98.4 358.3,105.9 358.5,95.5 358.7,101.2 359,98.4 359.2,101.9 359.4,95.9 359.6,102.2 359.9,97.5 360.1,103.1 360.3,93.7 360.5,103.2 360.8,97.1 361,103.2 361.2,94.8 361.4,103.2 361.7,96.3 361.9,101.9 362.1,98.9 362.3,100.9 362.6,95.4 362.8,103.6 363,95.6 363.2,102.4 363.5,98.3 363.7,102.3 363.9,98.2 364.2,103.2 364.4,95.5 364.6,102.4 364.8,94.2 365.1,102.2 365.3,98.9 365.5,103.3 365.7,96.5 366,104.2 366.2,95.8 366.4,105.6 366.6,97.3 366.9,102.7 367.1,97.4 367.3,101.7 367.5,94 367.8,101.6 368,98.6 368.2,102.2 368.4,99 368.7,103.6 368.9,98 369.1,102 369.4,93.5 369.6,100 369.8,94.9 370,100.2 370.3,96.9 370.5,101.3 370.7,95.7 370.9,104.6 371.2,98.9 371.4,102.8 371.6,97.1 371.8,103.9 372.1,97.4 372.3,105.3 372.5,97.1 372.7,107.2 373,98.1 373.2,102 373.4,90 373.6,99.2 373.9,99 374.1,102.1 374.3,97.8 374.6,101.8 374.8,94.8 375,99.3 375.2,95.2 375.5,106.2 375.7,93.2 375.9,99.4 376.1,95.7 376.4,106.4 376.6,89.9 376.8,110.6 377,90.8 377.3,106.9 377.5,98.4 377.7,112.4 377.9,87 378.2,107.1 378.4,91.1 378.6,100.4 378.8,96 379.1,99.2 379.3,93.4 379.5,100.2 379.7,89.4 380,101.4 380.2,98 380.4,107.4 380.7,85.6 380.9,102.9 381.1,96.8 381.3,102.8 381.6,94.9 381.8,101.8 382,94.9 382.2,111.5 382.5,84.7 382.7,104.4 382.9,97.9 383.1,108.7 383.4,95.3 383.6,100.2 383.8,93.6 384,105.4 384.3,98.5 384.5,99.3 384.7,83.3 384.9,101.7 385.2,95.3 385.4,112.8 385.6,95.1 385.9,101.2 386.1,81.9 386.3,101.8 386.5,91.5 386.8,108 387,83.6 387.2,111.1 387.4,84.1 387.7,99.6 387.9,98.5 388.1,101.8 388.3,95.6 388.6,102.2 388.8,76.2 389,104.7 389.2,98.2 389.5,108.6 389.7,98.9 389.9,123.5 390.1,94.8 390.4,102.9 390.6,80.5 390.8,107.4 391,97.9 391.3,104.8 391.5,96.9 391.7,107.7 392,92.3 392.2,107 392.4,98.1 392.6,100.5 392.9,94.9 393.1,99.2 393.3,91.2 393.5,107.3 393.8,98.2 394,110.9 394.2,93.8 394.4,101.1 394.7,88.6 394.9,106.1 395.1,93.8 395.3,100.7 395.6,97.4 395.8,101.3 396,89 396.2,117.1 396.5,87.7 396.7,100.9 396.9,87.1 397.1,103.6 397.4,96.4 397.6,100.6 397.8,65.8 398.1,111.9 398.3,85.8 398.5,103.7 398.7,91.3 399,127.6 399.2,93.5 399.4,112.9 399.6,83.2 399.9,107.5 400.1,79.3 400.3,102.4 400.5,92.6 400.8,106.5 401,66.3 401.2,103.3 401.4,97.4 401.7,116.5 401.9,93.6 402.1,99.5 402.3,90 402.6,99.8 402.8,94.8 403,106 403.3,98 403.5,105.9 403.7,96 403.9,100.2 404.2,93.5 404.4,110.4 404.6,91 404.8,101.2 405.1,85.8 405.3,105.4 405.5,85 405.7,101.6 406,98.3 406.2,105.4 406.4,90.3 406.6,106.5 406.9,76.4 407.1,101.7 407.3,97.2 407.5,109.7 407.8,94.4 408,110.6 408.2,86.7 408.4,110.1 408.7,64.7 408.9,99.3 409.1,96.5 409.4,101.1 409.6,89.1 409.8,110.6 410,96.1 410.3,99.2 410.5,92.5 410.7,101.1 410.9,94.4 411.2,107 411.4,77 411.6,108.4 411.8,86.1 412.1,102.5 412.3,84.2 412.5,102.6 412.7,93.6 413,100.7 413.2,93 413.4,99.6 413.6,95.1 413.9,110.5 414.1,97.2 414.3,109.8 414.6,96.7 414.8,103.7 415,90.6 415.2,105.5 415.5,93.1 415.7,115.5 415.9,94.5 416.1,104.3 416.4,87 416.6,102 416.8,98.2 417,102.3 417.3,99 417.5,99.6 417.7,95.1 417.9,102 418.2,96.9 418.4,103.1 418.6,94.7 418.8,105.9 419.1,91.2 419.3,110.7 419.5,96 419.8,100 420,95.3 420.2,105.9 420.4,94.3 420.7,99.7 420.9,98.3 421.1,107 421.3,97.2 421.6,100.9 421.8,93.7 422,102.1 422.2,90.8 422.5,101.4 422.7,94.7 422.9,102.1 423.1,94 423.4,99.3 423.6,84.6 423.8,101.6 424,93.7 424.3,99.7 424.5,98.1 424.7,105.1 424.9,99.1 425.2,104.5 425.4,87.5 425.6,103.1 425.9,94.2 426.1,101.8 426.3,97.7 426.5,100.7 426.8,98.7 427,104.7 427.2,91.2 427.4,100.4 427.7,95.8 427.9,103.2 428.1,98.8 428.3,102.4 428.6,96.9 428.8,103.5 429,92.1 429.2,101.7 429.5,95.9 429.7,100.5 429.9,96.4 430.1,105.9 430.4,89.3 430.6,101 430.8,90.9 431,102.6 431.3,97 431.5,101.6 431.7,95 432,101 432.2,96.4 432.4,100.9 432.6,93.7 432.9,99.6 433.1,98.9 433.3,104.4 433.5,93.9 433.8,101.3 434,96 434.2,101 434.4,95.5 434.7,100.1 434.9,93.5 435.1,102.7 435.3,92.9 435.6,105.6 435.8,95.5 436,101.3 436.2,92.7 436.5,109 436.7,93.3 436.9,105 437.2,97.1 437.4,100.4 437.6,95.2 437.8,100.8 438.1,96 438.3,108.4 438.5,99.2 438.7,99.8 439,96.5 439.2,103.1 439.4,98.3 439.6,100 439.9,96.6 440.1,105.6 440.3,97.5 440.5,103.2 440.8,96.5 441,107.3 441.2,98.7 441.4,106.1 441.7,95.8 441.9,103.3 442.1,94.7 442.4,105.3 442.6,98.5 442.8,102 443,95 443.3,100.4 443.5,96.3 443.7,103.6 443.9,94.3 444.2,99.8 444.4,97.8 444.6,101.6 444.8,89.5 445.1,105.7 445.3,95.7 445.5,99.6 445.7,95.1 446,100.6 446.2,93.7 446.4,99.6 446.6,98.5 446.9,102.5 447.1,95.3 447.3,101.4 447.5,98.4 447.8,106.7 448,94 448.2,100.2 448.5,96.9 448.7,100.3 448.9,96.8 449.1,99.7 449.4,98.2 449.6,100.2 449.8,97.2 450,99.9 450.3,93.5 450.5,100.3 450.7,96.6 450.9,100 451.2,96.6 451.4,100.5 451.6,97.5 451.8,102.9 452.1,91.2 452.3,100.6 452.5,99.1 452.7,99.5 453,94.9 453.2,101 453.4,95.4 453.6,102.6 453.9,98.9 454.1,101.3 454.3,96.2 454.6,105.1 454.8,95.2 455,99.6 455.2,98.8 455.5,99.7 455.7,98.4 455.9,100.7 456.1,96.7 456.4,101.3 456.6,96.7 456.8,100.3 457,97.4 457.3,99.9 457.5,92.7 457.7,101.7 457.9,99.2 458.2,99.5 458.4,97.7 458.6,99.8 458.8,97 459.1,105.3 459.3,97.8 459.5,102.2 459.8,93.6 460,101 460.2,98.9 460.4,101.6 460.7,96 460.9,100.2 461.1,95.8 461.3,103.1 461.6,96.4 461.8,101.8 462,95.6 462.2,99.8 462.5,91 462.7,104.3 462.9,97.5 463.1,100 463.4,96.6 463.6,99.6 463.8,99 464,101.3 464.3,98.9 464.5,103.5 464.7,96.8 464.9,103.3 465.2,95.8 465.4,99.6 465.6,98.8 465.9,99.7 466.1,99.1 466.3,104.1 466.5,96.5 466.8,101.1 467,98.7 467.2,106.5 467.4,98.5 467.7,103.1 467.9,92.7 468.1,103.6 468.3,97.8 468.6,101.3 468.8,94.6 469,102.5 469.2,98.4 469.5,100.9 469.7,98.4 469.9,101.5 470.1,96.6 470.4,101.9 470.6,96.6 470.8,104 471.1,96.5 471.3,103.4 471.5,95.4 471.7,104.2 472,95.9 472.2,101.1 472.4,98.5 472.6,105.5 472.9,93.9 473.1,100.9 473.3,97.2 473.5,104.4 473.8,96.6 474,100.1 474.2,98.7 474.4,103.1 474.7,96.5 474.9,101.6 475.1,96.1 475.3,100.4 475.6,98.2 475.8,100 476,98.3 476.2,101.2 476.5,98.4 476.7,104.1 476.9,97.2 477.2,101.9 477.4,98.1 477.6,100.5 477.8,98.1 478.1,105 478.3,98.6 478.5,103 478.7,96.2 479,101.2 479.2,96.1 479.4,101.4 479.6,96.8 479.9,99.7 480.1,94.9 480.3,101.2 480.5,94 480.8,100.3 481,95.3 481.2,99.4 481.4,98.7 481.7,104.8 481.9,97.1 482.1,101.3 482.4,95.2 482.6,99.6 482.8,97.1 483,100 483.3,96.7 483.5,99.7 483.7,96.1 483.9,99.7 484.2,98.7 484.4,100.6 484.6,96.9 484.8,99.9 485.1,97.9 485.3,101.5 485.5,98.1 485.7,100.8 486,98.6 486.2,99.6 486.4,98.9 486.6,99.2 486.9,98.7 487.1,103.6 487.3,95.7 487.5,100.9 487.8,98 488,100.1 488.2,98.8 488.5,99.9 488.7,97.3 488.9,103.1 489.1,92 489.4,99.7 489.6,95.8 489.8,101.8 490,97.8 490.3,100.3 490.5,98.4 490.7,101.5 490.9,98.4 491.2,99.5 491.4,92.3 491.6,99.7 491.8,98.7 492.1,106.4 492.3,97.3 492.5,99.3 492.7,98.6 493,100.1 493.2,97.9 493.4,102.3 493.7,97.8 493.9,100.5 494.1,92.8 494.3,104.4 494.6,97.7 494.8,100.4 495,98.3 495.2,100.7 495.5,97.1 495.7,102.1 495.9,93.6 496.1,102.1 496.4,94.6 496.6,104.3 496.8,96.7 497,99.7 497.3,97.7 497.5,100.2 497.7,94.4 497.9,99.7 498.2,97.5 498.4,99.2 498.6,97.6 498.9,100.7 499.1,98.9 499.3,102.5 499.5,99 499.8,103 500,96.5 500.2,100.4 500.4,96.2 500.7,99.7 500.9,95.6 501.1,105.5 501.3,98.7 501.6,103.9 501.8,94.6 502,99.7 502.2,94.9 502.5,99.5 502.7,92.1 502.9,104 503.1,97.5 503.4,99.5 503.6,98.2 503.8,100.3 504,95.9 504.3,101.1 504.5,97.1 504.7,102.1 505,98.6 505.2,108.4 505.4,92.6 505.6,101.5 505.9,97.1 506.1,102 506.3,97.9 506.5,104.8 506.8,98 507,99.5 507.2,92.9 507.4,105.3 507.7,98.2 507.9,104.3 508.1,97.2 508.3,99.5 508.6,98 508.8,99.6 509,96.8 509.2,99.6 509.5,95.6 509.7,100.4 509.9,95 510.1,101 510.4,95.3 510.6,101.1 510.8,97.9 511.1,100.1 511.3,95.8 511.5,99.4 511.7,93.5 512,100.5 512.2,90.5 512.4,99.9 512.6,97.9 512.9,103.4 513.1,99 513.3,100.2 513.5,93.3 513.8,100.5 514,93.5 514.2,103.2 514.4,97.3 514.7,101.7 514.9,95.4 515.1,99.7 515.3,98.8 515.6,100 515.8,95.5 516,100.4 516.3,96.2 516.5,103.8 516.7,98.2 516.9,104.4 517.2,94.5 517.4,99.4 517.6,98.9 517.8,100.6 518.1,95.2 518.3,100 518.5,97.7 518.7,100.4 519,95.9 519.2,106.8 519.4,97.2 519.6,105.3 519.9,96.8 520.1,99.5 520.3,98.8 520.5,102.8 520.8,99.1 521,103.2 521.2,93.2 521.4,99.4 521.7,95.6 521.9,99.9 522.1,95.3 522.4,100.3 522.6,94.7 522.8,100.3 523,97.7 523.3,100.8 523.5,95.3 523.7,99.8 523.9,96.5 524.2,104.9 524.4,98.2 524.6,100.9 524.8,97.4 525.1,103.4 525.3,96.2 525.5,101.1 525.7,97 526,101.8 526.2,97.3 526.4,99.6 526.6,99 526.9,99.2 527.1,98.3 527.3,99.2 527.6,97.8 527.8,104.1 528,96.7 528.2,100.8 528.5,96.5 528.7,100.6 528.9,98.1 529.1,99.3 529.4,93.6 529.6,102.8 529.8,97.3 530,103.9 530.3,96.5 530.5,100.3 530.7,95.8 530.9,100.7 531.2,98.2 531.4,105.4 531.6,90.6 531.8,101.1 532.1,99.1 532.3,101 532.5,96.4 532.8,102 533,92.8 533.2,99.7 533.4,95.9 533.7,101.2 533.9,98.2 534.1,101.9 534.3,98.3 534.6,102.8 534.8,97 535,103.2 535.2,97.6 535.5,104.4 535.7,96.3 535.9,104.2 536.1,99.1 536.4,103.6 536.6,98.1 536.8,102.1 537,95.9 537.3,103 537.5,98.8 537.7,99.4 537.9,98.5 538.2,100.9 538.4,97.9" fill="none" stroke="#1a1a1a" stroke-width="1" stroke-dasharray="4.2,2.6" clip-path="url(#cb)" stroke-linejoin="round"/>
<polyline points="335.4,99.2 335.7,99.2 336.1,99 336.4,99.8 336.7,95.9 337.1,108.9 337.4,81.3 337.7,122.8 338,67.3 338.4,112.7 338.7,92.4 339,101.4 339.4,98.6 339.7,99.2 340,99.2" fill="none" stroke="#1fcaca" stroke-width="0.9" stroke-dasharray="4,1,1,1" clip-path="url(#cb)" stroke-linejoin="round"/>
<polyline points="337.7,99.2 338,99.2 338.4,98.7 338.7,101 339,89.6 339.4,115 339.7,80 340,104.1 340.3,97.4 340.7,99.4 341,99.1" fill="none" stroke="#1fcaca" stroke-width="0.9" stroke-dasharray="4,1,1,1" clip-path="url(#cb)" stroke-linejoin="round"/>
<polyline points="342.2,99.2 342.5,99.2 342.9,98.9 343.2,100.3 343.5,94.9 343.9,110 344.2,85 344.5,103.3 344.8,97.3 345.2,99.3 345.5,99.1" fill="none" stroke="#12ad66" stroke-width="0.9" clip-path="url(#cb)" stroke-linejoin="round"/>
<polyline points="348.2,99.2 348.5,99.2 348.9,99.1 349.2,99.7 349.5,98.1 349.9,102.6 350.2,91.6 350.5,112.4 350.8,88 351.2,106.1 351.5,97.2 351.8,100.3 352.2,99 352.5,99.2 352.8,99.2" fill="none" stroke="#1a1a1a" stroke-width="0.9" stroke-dasharray="3,1.5" clip-path="url(#cb)" stroke-linejoin="round"/>
<polyline points="351.9,99.2 352.2,99.2 352.6,98.9 352.9,100.1 353.2,93.6 353.6,107.9 353.9,75.7 354.2,118.5 354.5,88.5 354.9,103 355.2,98.3 355.5,99.3 355.9,99.2" fill="none" stroke="#12ad66" stroke-width="0.9" clip-path="url(#cb)" stroke-linejoin="round"/>
<polyline points="360.2,99.2 360.5,99.2 360.9,98.9 361.2,100.4 361.5,92.9 361.9,110 362.2,85 362.5,103.8 362.8,97.3 363.2,99.4 363.5,99.1" fill="none" stroke="#12ad66" stroke-width="0.9" clip-path="url(#cb)" stroke-linejoin="round"/>
<polyline points="365.5,99.2 365.8,99.2 366.2,98.4 366.5,105.6 366.8,76.6 367.1,118.5 367.5,92.6 367.8,100 368.1,99 368.5,99.2" fill="none" stroke="#c27cf0" stroke-width="0.9" stroke-dasharray="3,1.5" clip-path="url(#cb)" stroke-linejoin="round"/>
<polyline points="364,99.2 364.3,99.2 364.7,99.2 365,99.2 365.3,99.1 365.6,99.2 366,99.1 366.3,99.3 366.6,98.9 367,99.5 367.3,98.7 367.6,99.7 368,98.3 368.3,100.7 368.6,97.6 368.9,100.8 369.3,96.3 369.6,103.4 369.9,93 370.3,107.3 370.6,90.1 370.9,110.8 371.3,85 371.6,115.6 371.9,81.8 372.2,122.3 372.6,73.5 372.9,115.3 373.2,79.8 373.6,132.4 373.9,69.1 374.2,135 374.6,62.7 374.9,120.1 375.2,71.5 375.6,122.9 375.9,77.9 376.2,117.7 376.5,83.9 376.9,115.5 377.2,87.2 377.5,113.2 377.9,89.1 378.2,109.7 378.5,89.7 378.9,106.4 379.2,93.8 379.5,103.3 379.8,97.1 380.2,101.7 380.5,97.6 380.8,100.2 381.2,98.3 381.5,99.6 381.8,98.8 382.1,99.3 382.5,99 382.8,99.3 383.1,99.1 383.5,99.2 383.8,99.1 384.1,99.2 384.5,99.2 384.8,99.2" fill="none" stroke="#1fcaca" stroke-width="0.9" stroke-dasharray="4,1,1,1" clip-path="url(#cb)" stroke-linejoin="round"/>
<polyline points="381.1,99.2 381.4,99.2 381.8,98.2 382.1,102 382.4,78.7 382.8,120 383.1,34.5 383.4,108.8 383.7,90.8 384.1,99.5 384.4,99" fill="none" stroke="#12ad66" stroke-width="0.9" clip-path="url(#cb)" stroke-linejoin="round"/>
<polyline points="381.5,99.2 381.8,99.3 382.2,98.2 382.5,108.2 382.8,78.7 383.2,155.9 383.5,60 383.8,125.7 384.1,95.4 384.5,100 384.8,99.1" fill="none" stroke="#1a1a1a" stroke-width="0.9" stroke-dasharray="3,1.5" clip-path="url(#cb)" stroke-linejoin="round"/>
<polyline points="383.6,99.2 383.9,99.2 384.3,98.9 384.6,100 384.9,92.6 385.2,109.5 385.6,67.8 385.9,125 386.2,57 386.6,110.7 386.9,87.8 387.2,100.6 387.6,98.6 387.9,99.2 388.2,99.1" fill="none" stroke="#12ad66" stroke-width="0.9" clip-path="url(#cb)" stroke-linejoin="round"/>
<polyline points="387.6,99.2 387.9,99.2 388.3,98.7 388.6,101.7 388.9,87.5 389.2,119.6 389.6,48.8 389.9,135 390.2,77.9 390.6,105.3 390.9,97.4 391.2,99.4 391.6,99.1" fill="none" stroke="#1fcaca" stroke-width="0.9" stroke-dasharray="4,1,1,1" clip-path="url(#cb)" stroke-linejoin="round"/>
<polyline points="388.2,99.2 388.5,99.2 388.9,99 389.2,99.7 389.5,94.4 389.9,106 390.2,75.8 390.5,120 390.8,59 391.2,108.3 391.5,90.9 391.8,100.3 392.2,98.4 392.5,99.2 392.8,99.1" fill="none" stroke="#1a1a1a" stroke-width="0.9" stroke-dasharray="3,1.5" clip-path="url(#cb)" stroke-linejoin="round"/>
<polyline points="390,99.2 390.3,99.2 390.7,98.9 391,101.3 391.3,96.2 391.6,114.5 392,77.3 392.3,149.8 392.6,70 393,120.9 393.3,91.6 393.6,102 394,98.8 394.3,99.3 394.6,99.2" fill="none" stroke="#1fcaca" stroke-width="0.9" stroke-dasharray="4,1,1,1" clip-path="url(#cb)" stroke-linejoin="round"/>
<polyline points="393.1,99.2 393.4,99.2 393.8,98.9 394.1,100 394.4,96.1 394.8,109.2 395.1,85.6 395.4,125 395.7,72 396.1,113.6 396.4,92.8 396.7,100.6 397.1,98.6 397.4,99.2 397.7,99.2" fill="none" stroke="#1a1a1a" stroke-width="0.9" stroke-dasharray="3,1.5" clip-path="url(#cb)" stroke-linejoin="round"/>
<polyline points="397,99.2 397.3,99.3 397.7,98.5 398,107.5 398.3,80 398.6,137.6 399,91.6 399.3,101.4 399.6,99.1 400,99.2" fill="none" stroke="#c27cf0" stroke-width="0.9" stroke-dasharray="3,1.5" clip-path="url(#cb)" stroke-linejoin="round"/>
<polyline points="398.6,99.2 398.9,99.2 399.3,99 399.6,100.7 399.9,95.7 400.2,115.8 400.6,83.2 400.9,142.8 401.2,75 401.6,123.5 401.9,92.9 402.2,103.2 402.6,98.7 402.9,99.3 403.2,99.2" fill="none" stroke="#1fcaca" stroke-width="0.9" stroke-dasharray="4,1,1,1" clip-path="url(#cb)" stroke-linejoin="round"/>
<polyline points="400,99.2 400.3,99.2 400.7,98.2 401,101.6 401.3,87.7 401.7,115 402,61.7 402.3,106.1 402.6,95.9 403,99.5 403.3,99.1" fill="none" stroke="#12ad66" stroke-width="0.9" clip-path="url(#cb)" stroke-linejoin="round"/>
<polyline points="397.5,99.2 397.8,99.2 398.2,99.2 398.5,99.2 398.8,99.1 399.1,99.3 399.5,99.1 399.8,99.4 400.1,98.9 400.5,99.7 400.8,98.7 401.1,100.4 401.5,97.9 401.8,100.9 402.1,97.3 402.4,103.2 402.8,95 403.1,106 403.4,93.7 403.8,111.4 404.1,85.8 404.4,114.5 404.8,84.8 405.1,128.3 405.4,70.9 405.8,122.8 406.1,70.3 406.4,134.9 406.7,70 407.1,142.1 407.4,58.6 407.7,158 408.1,50 408.4,153.7 408.7,59.3 409.1,136.1 409.4,73.1 409.7,132.7 410,65.1 410.4,133.5 410.7,81.7 411,122 411.4,88.4 411.7,117.7 412,86.4 412.4,107.3 412.7,93.4 413,104.4 413.3,96.1 413.7,102.8 414,97.3 414.3,100.4 414.7,98.3 415,100.1 415.3,98.6 415.6,99.4 416,98.9 416.3,99.3 416.6,99.1 417,99.2 417.3,99.1 417.6,99.2 418,99.1 418.3,99.2" fill="none" stroke="#e9b03e" stroke-width="0.9" stroke-dasharray="1.5,0.7" clip-path="url(#cb)" stroke-linejoin="round"/>
<polyline points="409,99.2 409.3,99.2 409.7,99.1 410,99.7 410.3,97.6 410.6,104 411,88.7 411.3,120.1 411.6,76.9 412,138 412.3,62 412.6,122.8 413,89.5 413.3,103.4 413.6,97.6 413.9,99.9 414.3,99 414.6,99.2 414.9,99.2" fill="none" stroke="#e9b03e" stroke-width="0.9" stroke-dasharray="1.5,0.7" clip-path="url(#cb)" stroke-linejoin="round"/>
<polyline points="429.9,99.2 430.2,99.2 430.6,98.8 430.9,99.9 431.2,92.9 431.6,107.9 431.9,72.6 432.2,126.3 432.5,59.5 432.9,111 433.2,88.5 433.5,101.2 433.9,98.3 434.2,99.3 434.5,99.1" fill="none" stroke="#e9b03e" stroke-width="0.9" stroke-dasharray="1.5,0.7" clip-path="url(#cb)" stroke-linejoin="round"/>
<polyline points="429.1,99.2 429.4,99.2 429.8,98.9 430.1,99.8 430.4,96.2 430.8,105.4 431.1,84.9 431.4,120 431.7,70 432.1,111.2 432.4,93.7 432.7,100.6 433.1,98.6 433.4,99.2 433.7,99.2" fill="none" stroke="#1a1a1a" stroke-width="0.9" stroke-dasharray="3,1.5" clip-path="url(#cb)" stroke-linejoin="round"/>
<polyline points="450.5,99.2 450.8,99.2 451.2,98.2 451.5,103.5 451.8,78 452.1,118 452.5,91.5 452.8,100.2 453.1,99.1 453.5,99.2" fill="none" stroke="#f03c3c" stroke-width="0.9" stroke-dasharray="4,1,1,1" clip-path="url(#cb)" stroke-linejoin="round"/>
<polyline points="456.5,99.2 456.8,99.2 457.2,98.4 457.5,104.1 457.8,80 458.1,118 458.5,92.2 458.8,100.4 459.1,99.1 459.5,99.2" fill="none" stroke="#c27cf0" stroke-width="0.9" stroke-dasharray="3,1.5" clip-path="url(#cb)" stroke-linejoin="round"/>
<polyline points="468.9,99.2 469.2,99.2 469.6,98.6 469.9,100.4 470.2,89.2 470.6,110 470.9,74.8 471.2,102.9 471.5,97.1 471.9,99.3 472.2,99.1" fill="none" stroke="#1e78ec" stroke-width="0.9" clip-path="url(#cb)" stroke-linejoin="round"/>
<polyline points="469.6,99.2 469.9,99.2 470.3,98.6 470.6,102.3 470.9,90.8 471.2,119.4 471.6,74.8 471.9,108.7 472.2,96.7 472.6,99.5 472.9,99.1" fill="none" stroke="#1e78ec" stroke-width="0.9" clip-path="url(#cb)" stroke-linejoin="round"/>
<polyline points="476,99.2 476.3,99.2 476.7,98.7 477,102.1 477.3,90.4 477.7,127.7 478,79 478.3,109.3 478.6,97.3 479,99.6 479.3,99.1" fill="none" stroke="#e9b03e" stroke-width="0.9" stroke-dasharray="1.5,0.7" clip-path="url(#cb)" stroke-linejoin="round"/>
<polyline points="480.7,99.2 481,99.2 481.4,98.7 481.7,102 482,91.4 482.4,122 482.7,79 483,105.9 483.3,96.6 483.7,99.5 484,99.1" fill="none" stroke="#f03c3c" stroke-width="0.9" stroke-dasharray="4,1,1,1" clip-path="url(#cb)" stroke-linejoin="round"/>
<polyline points="496,99.2 496.3,99.2 496.7,99.1 497,99.5 497.3,98.4 497.6,102.2 498,92.9 498.3,110.3 498.6,85.1 499,122 499.3,77.6 499.6,110 500,92.6 500.3,101.8 500.6,98 500.9,99.5 501.3,99 501.6,99.2 501.9,99.2" fill="none" stroke="#1fcaca" stroke-width="0.9" stroke-dasharray="4,1,1,1" clip-path="url(#cb)" stroke-linejoin="round"/>
<polyline points="367.9,99.2 368.3,99.3 368.6,95.6 368.9,113.7 369.3,85.5 369.6,99.6 369.9,99.2" fill="none" stroke="#1fcaca" stroke-width="0.8" stroke-dasharray="4,1,1,1" clip-path="url(#cb)" stroke-linejoin="round"/>
<polyline points="368.8,99.2 369.2,99.4 369.5,95.4 369.8,116.2 370.2,81.7 370.5,99.7 370.8,99.2" fill="none" stroke="#1fcaca" stroke-width="0.8" stroke-dasharray="4,1,1,1" clip-path="url(#cb)" stroke-linejoin="round"/>
<polyline points="369.7,99.2 370.1,99.4 370.4,94.3 370.7,116.8 371.1,78.9 371.4,99.9 371.7,99.2" fill="none" stroke="#1fcaca" stroke-width="0.8" stroke-dasharray="4,1,1,1" clip-path="url(#cb)" stroke-linejoin="round"/>
<polyline points="370.6,99.2 371,99.4 371.3,95.5 371.6,120.4 372,77.7 372.3,100.1 372.6,99.2" fill="none" stroke="#1fcaca" stroke-width="0.8" stroke-dasharray="4,1,1,1" clip-path="url(#cb)" stroke-linejoin="round"/>
<polyline points="371.5,99.2 371.9,99.5 372.2,95.1 372.5,125.2 372.9,78.1 373.2,100.2 373.5,99.1" fill="none" stroke="#1fcaca" stroke-width="0.8" stroke-dasharray="4,1,1,1" clip-path="url(#cb)" stroke-linejoin="round"/>
<polyline points="372.4,99.2 372.8,99.5 373.1,94.1 373.4,125 373.8,74.7 374.1,100.2 374.4,99.1" fill="none" stroke="#1fcaca" stroke-width="0.8" stroke-dasharray="4,1,1,1" clip-path="url(#cb)" stroke-linejoin="round"/>
<polyline points="373.3,99.2 373.7,99.4 374,93 374.3,124.9 374.7,69.6 375,100 375.3,99.1" fill="none" stroke="#1fcaca" stroke-width="0.8" stroke-dasharray="4,1,1,1" clip-path="url(#cb)" stroke-linejoin="round"/>
<polyline points="374.2,99.2 374.6,99.6 374.9,93 375.2,136.6 375.6,70.9 375.9,100.4 376.2,99.1" fill="none" stroke="#1fcaca" stroke-width="0.8" stroke-dasharray="4,1,1,1" clip-path="url(#cb)" stroke-linejoin="round"/>
<polyline points="375.1,99.2 375.5,99.6 375.8,93.5 376.1,129.5 376.5,73.3 376.8,100.2 377.1,99.2" fill="none" stroke="#1fcaca" stroke-width="0.8" stroke-dasharray="4,1,1,1" clip-path="url(#cb)" stroke-linejoin="round"/>
<polyline points="376,99.2 376.4,99.6 376.7,92.3 377,129.4 377.4,75.2 377.7,100.6 378,99.1" fill="none" stroke="#1fcaca" stroke-width="0.8" stroke-dasharray="4,1,1,1" clip-path="url(#cb)" stroke-linejoin="round"/>
<polyline points="376.9,99.2 377.3,99.5 377.6,94 377.9,123.5 378.3,71 378.6,100.3 378.9,99.1" fill="none" stroke="#1fcaca" stroke-width="0.8" stroke-dasharray="4,1,1,1" clip-path="url(#cb)" stroke-linejoin="round"/>
<polyline points="377.8,99.2 378.2,99.5 378.5,95.6 378.8,123.9 379.2,79.2 379.5,100.3 379.8,99.1" fill="none" stroke="#1fcaca" stroke-width="0.8" stroke-dasharray="4,1,1,1" clip-path="url(#cb)" stroke-linejoin="round"/>
<polyline points="378.7,99.2 379.1,99.4 379.4,95.1 379.7,117.5 380.1,77.6 380.4,100 380.7,99.2" fill="none" stroke="#1fcaca" stroke-width="0.8" stroke-dasharray="4,1,1,1" clip-path="url(#cb)" stroke-linejoin="round"/>
<polyline points="379.6,99.2 380,99.3 380.3,95.4 380.6,115.9 381,80.2 381.3,100 381.6,99.1" fill="none" stroke="#1fcaca" stroke-width="0.8" stroke-dasharray="4,1,1,1" clip-path="url(#cb)" stroke-linejoin="round"/>
<polyline points="415.2,99.2 415.5,99.3 415.9,97.7 416.2,116.5 416.5,81.5 416.9,102.7 417.2,98.8 417.5,99.2" fill="none" stroke="#1a1a1a" stroke-width="0.9" stroke-dasharray="3,1.5" clip-path="url(#cb)" stroke-linejoin="round"/>
<polyline points="394.8,99.2 395.1,99.2 395.5,99.1 395.8,99.5 396.1,98 396.5,101.2 396.8,94 397.1,108.1 397.4,82 397.8,112.5 398.1,86.5 398.4,105.5 398.8,95.1 399.1,100.1 399.4,98.9 399.8,99.2 400.1,99.1 400.4,99.2" fill="none" stroke="#e9b03e" stroke-width="0.9" stroke-dasharray="1.5,0.7" clip-path="url(#cb)" stroke-linejoin="round"/>
<polyline points="411.4,99.2 411.8,99.3 412.1,97.9 412.4,107.5 412.8,78.6 413.1,119.7 413.4,97.2 413.8,99.3 414.1,99.2" fill="none" stroke="#1fcaca" stroke-width="0.9" stroke-dasharray="4,1,1,1" clip-path="url(#cb)" stroke-linejoin="round"/>
<polyline points="380.8,99.2 381.2,99.2 381.5,98.9 381.8,100.3 382.2,93.3 382.5,117.1 382.8,83 383.1,117.1 383.5,93.9 383.8,100.8 384.1,99 384.5,99.2 384.8,99.2" fill="none" stroke="#12ad66" stroke-width="0.9" clip-path="url(#cb)" stroke-linejoin="round"/>
<polyline points="399.3,99.2 399.7,99.2 400,98.9 400.3,99.8 400.7,94.6 401,105.3 401.3,72 401.7,115.9 402,78.3 402.3,103.4 402.6,94.6 403,99.6 403.3,99 403.6,99.2" fill="none" stroke="#e9b03e" stroke-width="0.9" stroke-dasharray="1.5,0.7" clip-path="url(#cb)" stroke-linejoin="round"/>
<polyline points="412.7,99.2 413,99.2 413.4,99.1 413.7,99.4 414,98.2 414.3,102 414.7,91 415,106.2 415.3,80.9 415.7,113.5 416,87.5 416.3,104.1 416.7,96.7 417,99.8 417.3,98.9 417.6,99.2 418,99.2" fill="none" stroke="#12ad66" stroke-width="0.9" clip-path="url(#cb)" stroke-linejoin="round"/>
<polyline points="384.5,99.2 384.9,99.2 385.2,97.1 385.5,104.8 385.9,73.6 386.2,116.1 386.5,95.3 386.9,99.4 387.2,99.2" fill="none" stroke="#1a1a1a" stroke-width="0.9" stroke-dasharray="3,1.5" clip-path="url(#cb)" stroke-linejoin="round"/>
<polyline points="411.8,99.2 412.2,99.2 412.5,99.1 412.8,99.5 413.2,97.8 413.5,101.9 413.8,90.3 414.2,109.9 414.5,76.2 414.8,122.2 415.1,83.7 415.5,107.2 415.8,93.9 416.1,101 416.5,98.6 416.8,99.3 417.1,99.1 417.5,99.2" fill="none" stroke="#1a1a1a" stroke-width="0.9" stroke-dasharray="3,1.5" clip-path="url(#cb)" stroke-linejoin="round"/>
<polyline points="393.3,99.2 393.6,99.2 394,98.8 394.3,100.9 394.6,95.2 395,115.5 395.3,75 395.6,128.9 396,87 396.3,106.4 396.6,98.2 396.9,99.5 397.3,99.1" fill="none" stroke="#1a1a1a" stroke-width="0.9" stroke-dasharray="3,1.5" clip-path="url(#cb)" stroke-linejoin="round"/>
<polyline points="413.7,99.2 414,99.2 414.4,98.8 414.7,104.6 415,88.6 415.4,124.5 415.7,81 416,104.5 416.3,98.5 416.7,99.2 417,99.2" fill="none" stroke="#12ad66" stroke-width="0.9" clip-path="url(#cb)" stroke-linejoin="round"/>
<polyline points="386.4,99.2 386.8,99.2 387.1,98.2 387.4,103 387.7,87.7 388.1,127.7 388.4,68.9 388.7,107 389.1,96.7 389.4,99.4 389.7,99.1" fill="none" stroke="#1a1a1a" stroke-width="0.9" stroke-dasharray="3,1.5" clip-path="url(#cb)" stroke-linejoin="round"/>
<polyline points="406,99.2 406.3,99.2 406.6,99.1 406.9,99.4 407.3,98.5 407.6,101 407.9,95.3 408.3,107.5 408.6,82.5 408.9,115.1 409.3,90.5 409.6,107 409.9,95.7 410.2,100.5 410.6,98.6 410.9,99.4 411.2,99.1 411.6,99.2" fill="none" stroke="#e9b03e" stroke-width="0.9" stroke-dasharray="1.5,0.7" clip-path="url(#cb)" stroke-linejoin="round"/>
<polyline points="386.8,99.2 387.1,99.2 387.4,99 387.7,100.2 388.1,96.7 388.4,109.8 388.7,86.1 389.1,118.9 389.4,94 389.7,101.5 390.1,98.8 390.4,99.3 390.7,99.2" fill="none" stroke="#12ad66" stroke-width="0.9" clip-path="url(#cb)" stroke-linejoin="round"/>
<polyline points="388.9,99.2 389.2,99.2 389.5,99.1 389.9,99.7 390.2,97.1 390.5,104.3 390.9,91.7 391.2,115.1 391.5,75.4 391.9,133 392.2,85 392.5,110.1 392.8,95.6 393.2,100.7 393.5,98.8 393.8,99.3 394.2,99.2" fill="none" stroke="#1fcaca" stroke-width="0.9" stroke-dasharray="4,1,1,1" clip-path="url(#cb)" stroke-linejoin="round"/>
<polyline points="408.7,99.2 409,99.2 409.3,99 409.7,99.7 410,96.4 410.3,105.3 410.7,90.3 411,119.7 411.3,70.1 411.6,128.6 412,82.2 412.3,107.6 412.6,97 413,100 413.3,99 413.6,99.2 414,99.2" fill="none" stroke="#12ad66" stroke-width="0.9" clip-path="url(#cb)" stroke-linejoin="round"/>
<polyline points="377,99.2 377.4,99.2 377.7,99 378,99.8 378.3,96.6 378.7,103.1 379,89.1 379.3,120 379.7,64.7 380,128.6 380.3,76.2 380.7,106.7 381,94.1 381.3,100.5 381.6,98.7 382,99.2 382.3,99.2" fill="none" stroke="#e9b03e" stroke-width="0.9" stroke-dasharray="1.5,0.7" clip-path="url(#cb)" stroke-linejoin="round"/>
<polyline points="398.6,99.2 398.9,99.2 399.2,98.7 399.6,104.1 399.9,81.4 400.2,124.9 400.6,90.7 400.9,101.4 401.2,98.9 401.6,99.2" fill="none" stroke="#12ad66" stroke-width="0.9" clip-path="url(#cb)" stroke-linejoin="round"/>
<polyline points="423,99.2 423.4,99.2 423.7,98.3 424,102.7 424.4,81.4 424.7,124.2 425,64.9 425.4,105.7 425.7,97 426,99.4 426.3,99.1" fill="none" stroke="#1a1a1a" stroke-width="0.9" stroke-dasharray="3,1.5" clip-path="url(#cb)" stroke-linejoin="round"/>
<polyline points="421.3,99.2 421.6,99.2 422,99 422.3,99.5 422.6,95.7 422.9,102.7 423.3,86.5 423.6,113.2 423.9,63.9 424.3,108.7 424.6,83.7 424.9,101.9 425.3,97.8 425.6,99.4 425.9,99.1 426.2,99.2" fill="none" stroke="#12ad66" stroke-width="0.9" clip-path="url(#cb)" stroke-linejoin="round"/>
<polyline points="387,99.2 387.3,99.2 387.6,99.1 388,99.5 388.3,97.9 388.6,102.4 389,94.4 389.3,114.2 389.6,82.8 390,124.4 390.3,90.5 390.6,106.1 390.9,96.9 391.3,100.8 391.6,98.8 391.9,99.3 392.3,99.2 392.6,99.2" fill="none" stroke="#1a1a1a" stroke-width="0.9" stroke-dasharray="3,1.5" clip-path="url(#cb)" stroke-linejoin="round"/>
<polyline points="397.2,99.2 397.6,99.2 397.9,98.9 398.2,101 398.6,94.8 398.9,112.5 399.2,78.4 399.5,125.5 399.9,88.8 400.2,102.9 400.5,98.3 400.9,99.3 401.2,99.2" fill="none" stroke="#e9b03e" stroke-width="0.9" stroke-dasharray="1.5,0.7" clip-path="url(#cb)" stroke-linejoin="round"/>
<polyline points="398,99.2 398.4,99.3 398.7,97.6 399,124.6 399.4,80.8 399.7,107.7 400,98.1 400.3,99.3" fill="none" stroke="#12ad66" stroke-width="0.9" clip-path="url(#cb)" stroke-linejoin="round"/>
<polyline points="376.2,99.2 376.5,99.2 376.9,99.1 377.2,99.9 377.5,97.4 377.9,104.1 378.2,90.7 378.5,123.3 378.8,76 379.2,130.9 379.5,86.5 379.8,107.4 380.2,95.8 380.5,100.3 380.8,98.9 381.2,99.2 381.5,99.2" fill="none" stroke="#12ad66" stroke-width="0.9" clip-path="url(#cb)" stroke-linejoin="round"/>
<polyline points="383.5,99.2 383.8,99.2 384.1,99 384.4,100.3 384.8,97.2 385.1,109.1 385.4,87.7 385.8,126.8 386.1,80.1 386.4,109.2 386.8,94 387.1,101.7 387.4,98.8 387.7,99.2 388.1,99.2" fill="none" stroke="#12ad66" stroke-width="0.9" clip-path="url(#cb)" stroke-linejoin="round"/>
<polyline points="382.3,99.2 382.6,99.2 382.9,99 383.3,99.7 383.6,95.8 383.9,104.8 384.2,86 384.6,124.3 384.9,73 385.2,116 385.6,89.9 385.9,101.8 386.2,98.3 386.6,99.3 386.9,99.1 387.2,99.2" fill="none" stroke="#1a1a1a" stroke-width="0.9" stroke-dasharray="3,1.5" clip-path="url(#cb)" stroke-linejoin="round"/>
<polyline points="397.2,99.2 397.5,99.2 397.9,99 398.2,100.2 398.5,97.5 398.9,106.6 399.2,93.1 399.5,125.7 399.8,85.3 400.2,113.6 400.5,96.6 400.8,100.8 401.2,98.9 401.5,99.2 401.8,99.2" fill="none" stroke="#e9b03e" stroke-width="0.9" stroke-dasharray="1.5,0.7" clip-path="url(#cb)" stroke-linejoin="round"/>
<polyline points="403.9,99.2 404.3,99.3 404.6,97.1 404.9,113 405.2,83.4 405.6,103.4 405.9,98.8 406.2,99.2" fill="none" stroke="#1a1a1a" stroke-width="0.9" stroke-dasharray="3,1.5" clip-path="url(#cb)" stroke-linejoin="round"/>
<polyline points="394,99.2 394.3,99.2 394.6,99.1 394.9,99.7 395.3,96.5 395.6,105.7 395.9,85.3 396.3,119.7 396.6,76.9 396.9,107.6 397.3,93.1 397.6,101.3 397.9,98.6 398.2,99.3 398.6,99.1 398.9,99.2" fill="none" stroke="#12ad66" stroke-width="0.9" clip-path="url(#cb)" stroke-linejoin="round"/>
<polyline points="417.6,99.2 417.9,99.2 418.2,98.8 418.6,101.1 418.9,91.8 419.2,112.5 419.6,64.8 419.9,129.4 420.2,86.3 420.5,106.4 420.9,97.1 421.2,99.6 421.5,99.1 421.9,99.2" fill="none" stroke="#1a1a1a" stroke-width="0.9" stroke-dasharray="3,1.5" clip-path="url(#cb)" stroke-linejoin="round"/>
<polyline points="388.1,99.2 388.4,99.2 388.7,99 389.1,99.6 389.4,96.8 389.7,103 390.1,83.5 390.4,109.3 390.7,69.5 391.1,116.3 391.4,87.7 391.7,103.6 392,95.4 392.4,99.8 392.7,98.9 393,99.2 393.4,99.2" fill="none" stroke="#1a1a1a" stroke-width="0.9" stroke-dasharray="3,1.5" clip-path="url(#cb)" stroke-linejoin="round"/>
<polyline points="398.4,99.2 398.8,99.2 399.1,98 399.4,115.1 399.8,84.7 400.1,104.8 400.4,98.2 400.8,99.2" fill="none" stroke="#12ad66" stroke-width="0.9" clip-path="url(#cb)" stroke-linejoin="round"/>
<polyline points="410.1,99.2 410.5,99.2 410.8,98.7 411.1,101.1 411.4,90.5 411.8,115.4 412.1,73.6 412.4,106 412.8,94.9 413.1,100.2 413.4,99 413.8,99.2" fill="none" stroke="#12ad66" stroke-width="0.9" clip-path="url(#cb)" stroke-linejoin="round"/>
<polyline points="396.3,99.2 396.6,99.2 397,99 397.3,100.4 397.6,96.3 398,113.2 398.3,86 398.6,122.5 398.9,95 399.3,101.2 399.6,98.9 399.9,99.2 400.3,99.2" fill="none" stroke="#1a1a1a" stroke-width="0.9" stroke-dasharray="3,1.5" clip-path="url(#cb)" stroke-linejoin="round"/>
<polyline points="395.6,99.2 395.9,99.3 396.3,97.9 396.6,108.4 396.9,67.4 397.2,124.5 397.6,93.3 397.9,100 398.2,99.1" fill="none" stroke="#12ad66" stroke-width="0.9" clip-path="url(#cb)" stroke-linejoin="round"/>
<polyline points="335,94.7 335.2,100.3 335.5,96.2 335.7,99.7 335.9,95.8 336.1,99.7 336.4,97.8 336.6,99.8 336.8,99 337,104.9 337.3,95.8 337.5,99.3 337.7,97.6 337.9,102.2 338.2,93.7 338.4,99.9 338.6,91.2 338.8,101.1 339.1,97.2 339.3,104 339.5,98.6 339.7,99.2 340,92.5 340.2,101.3 340.4,97.7 340.6,100 340.9,96.2 341.1,101.1 341.3,97.5 341.6,100.7 341.8,96.4 342,103.6 342.2,97.9 342.5,105.4 342.7,94 342.9,99.8 343.1,97.7 343.4,99.6 343.6,93.9 343.8,99.9 344,92.1 344.3,102 344.5,95 344.7,103 344.9,98.3 345.2,101.9 345.4,96.3 345.6,99.2 345.8,98.4 346.1,101.2 346.3,96.1 346.5,101.6 346.8,93 347,103.6 347.2,94.7 347.4,100.9 347.7,97.3 347.9,101.4 348.1,96.8 348.3,100.4 348.6,97.4 348.8,100.7 349,99.1 349.2,104.7 349.5,92.5 349.7,105.9 349.9,99.1 350.1,99.7 350.4,98.9 350.6,99.9 350.8,98.6 351,102 351.3,94.8 351.5,104.7 351.7,95.4 351.9,102 352.2,95.3 352.4,99.9 352.6,97.7 352.9,104 353.1,97.5 353.3,99.8 353.5,95.6 353.8,104.2 354,97.1 354.2,99.2 354.4,97.1 354.7,105.6 354.9,96.5 355.1,99.8 355.3,96.4 355.6,101.8 355.8,97.2 356,100.6 356.2,98 356.5,103.4 356.7,99 356.9,101.8 357.1,96.1 357.4,101 357.6,96.6 357.8,100.8 358.1,97.8 358.3,102.8 358.5,97.7 358.7,101.5 359,97.6 359.2,101.7 359.4,97 359.6,99.6 359.9,97.7 360.1,100.4 360.3,94 360.5,99.7 360.8,97.2 361,100.3 361.2,95.5 361.4,99.9 361.7,98.3 361.9,102.1 362.1,98.8 362.3,102.4 362.6,92.1 362.8,99.7 363,96.7 363.2,100.6 363.5,99 363.7,99.7 363.9,97.4 364.2,100.9 364.4,98.9 364.6,105.7 364.8,98.5 365.1,100.3 365.3,95.5 365.5,100.9 365.7,96.8 366,102.8 366.2,97.4 366.4,99.6 366.6,97.6 366.9,101.5 367.1,99.1 367.3,102.5 367.5,96 367.8,100.5 368,97.6 368.2,105.5 368.4,96.3 368.7,102.4 368.9,97.7 369.1,99.9 369.4,96.8 369.6,105.2 369.8,96.5 370,101.7 370.3,98.3 370.5,100.4 370.7,98.4 370.9,101.3 371.2,95.8 371.4,100.2 371.6,97.4 371.8,101.5 372.1,98.2 372.3,103.4 372.5,97.2 372.7,105.2 373,95.9 373.2,99.7 373.4,97.1 373.6,103.5 373.9,99 374.1,100.6 374.3,95.1 374.6,100 374.8,96.2 375,101.6 375.2,94.5 375.5,104.8 375.7,98.3 375.9,102.9 376.1,98.6 376.4,101.4 376.6,97.1 376.8,101.5 377,98.9 377.3,101 377.5,92.7 377.7,101.2 377.9,97.2 378.2,103.9 378.4,97 378.6,101.7 378.8,98.4 379.1,104.4 379.3,97.9 379.5,103.2 379.7,97.7 380,110.5 380.2,97.7 380.4,100.1 380.7,97.4 380.9,104.6 381.1,96.1 381.3,99.7 381.6,97.4 381.8,104.1 382,96.1 382.2,101 382.5,95.7 382.7,102 382.9,89.6 383.1,100.1 383.4,90.3 383.6,102.4 383.8,93 384,99.9 384.3,91.4 384.5,108.1 384.7,95.9 384.9,101.6 385.2,92.8 385.4,102 385.6,95.4 385.9,102.4 386.1,92.7 386.3,103.2 386.5,91.5 386.8,107.9 387,91.8 387.2,107.9 387.4,98.2 387.7,101.6 387.9,95.6 388.1,99.3 388.3,95.3 388.6,99.2 388.8,95.8 389,100.9 389.2,98.8 389.5,101 389.7,96 389.9,99.4 390.1,92.4 390.4,105.6 390.6,89.5 390.8,102 391,90.7 391.3,108.7 391.5,93.7 391.7,104.3 392,96.3 392.2,106.4 392.4,98.8 392.6,101.8 392.9,82.4 393.1,108.1 393.3,91 393.5,103 393.8,97.3 394,105.1 394.2,95.5 394.4,102 394.7,97.8 394.9,99.2 395.1,98.1 395.3,107.4 395.6,89.1 395.8,102.5 396,90.6 396.2,105.8 396.5,93.6 396.7,106.8 396.9,84.2 397.1,108.6 397.4,90.9 397.6,99.7 397.8,91.2 398.1,102.3 398.3,90.2 398.5,103.3 398.7,93.1 399,100.2 399.2,85.3 399.4,113.1 399.6,98.5 399.9,103.2 400.1,90.3 400.3,101.6 400.5,98.6 400.8,100.9 401,91.8 401.2,99.7 401.4,91.6 401.7,106.7 401.9,96.3 402.1,101.8 402.3,90.4 402.6,99.2 402.8,87.4 403,112.8 403.3,97.6 403.5,102.1 403.7,95.3 403.9,108.8 404.2,98.9 404.4,111 404.6,95.3 404.8,104.2 405.1,90.9 405.3,100 405.5,97.1 405.7,100.5 406,95.4 406.2,111.2 406.4,98.4 406.6,104.3 406.9,98.4 407.1,101.6 407.3,96.9 407.5,101.5 407.8,92.1 408,102.5 408.2,95.1 408.4,101.8 408.7,90.7 408.9,107.2 409.1,93.2 409.4,105.9 409.6,96.6 409.8,102.3 410,98.3 410.3,103 410.5,99.1 410.7,106.2 410.9,95.5 411.2,102.9 411.4,90.2 411.6,102.9 411.8,92.3 412.1,99.5 412.3,91.5 412.5,101.6 412.7,98.1 413,107.7 413.2,96.7 413.4,99.4 413.6,98 413.9,108.5 414.1,96.7 414.3,103.9 414.6,92.5 414.8,107 415,99.1 415.2,106.5 415.5,98.3 415.7,100 415.9,95.9 416.1,100.5 416.4,93.9 416.6,99.8 416.8,95.1 417,106.8 417.3,96.1 417.5,101.9 417.7,99 417.9,104.3 418.2,97.3 418.4,99.7 418.6,97.2 418.8,100.2 419.1,94.1 419.3,100.9 419.5,93.8 419.8,100.9 420,96.2 420.2,101.7 420.4,98.8 420.7,99.3 420.9,97.1 421.1,99.9 421.3,98.6 421.6,102.5 421.8,97.8 422,102.7 422.2,92.5 422.5,99.2 422.7,98.3 422.9,102.2 423.1,98.8 423.4,99.5 423.6,99 423.8,101.9 424,95.7 424.3,101.8 424.5,94.9 424.7,101.5 424.9,97.6 425.2,100.9 425.4,96.5 425.6,106.6 425.9,95.7 426.1,101.2 426.3,98.7 426.5,100.3 426.8,97.3 427,103.9 427.2,96 427.4,100 427.7,95.4 427.9,105.1 428.1,96 428.3,103.5 428.6,93.7 428.8,100.2 429,97.2 429.2,101.5 429.5,94.1 429.7,106.4 429.9,99.1 430.1,99.6 430.4,95.4 430.6,99.3 430.8,94.3 431,99.9 431.3,95.2 431.5,102.1 431.7,99 432,101 432.2,98.1 432.4,105 432.6,90.2 432.9,104 433.1,96.4 433.3,104.2 433.5,90.8 433.8,102.5 434,98.3 434.2,107.9 434.4,94 434.7,101.2 434.9,94.4 435.1,104 435.3,99.1 435.6,104 435.8,97.8 436,101.8 436.2,94.4 436.5,99.7 436.7,95.1 436.9,104.6 437.2,92.6 437.4,101.4 437.6,88.1 437.8,106.6 438.1,97.4 438.3,102.2 438.5,91.5 438.7,105.2 439,94.8 439.2,108.5 439.4,98 439.6,99.7 439.9,98.2 440.1,103.6 440.3,93.6 440.5,99.6 440.8,97.7 441,99.3 441.2,97.9 441.4,104.7 441.7,98.6 441.9,106.9 442.1,95.5 442.4,101.4 442.6,91.7 442.8,104.6 443,97.8 443.3,102.9 443.5,96.2 443.7,99.8 443.9,97.9 444.2,100.2 444.4,93 444.6,102.3 444.8,97 445.1,102.7 445.3,93.3 445.5,100.7 445.7,92.1 446,101.5 446.2,84.2 446.4,99.4 446.6,97.7 446.9,101.6 447.1,94.1 447.3,107 447.5,99 447.8,100.3 448,92.9 448.2,106.1 448.5,97.3 448.7,104.8 448.9,90.9 449.1,101.9 449.4,92.4 449.6,101.4 449.8,92.9 450,99.2 450.3,98 450.5,102.1 450.7,97.9 450.9,103.9 451.2,98.4 451.4,99.8 451.6,97.5 451.8,102.6 452.1,92.3 452.3,99.4 452.5,96.3 452.7,101.3 453,94.8 453.2,100.5 453.4,93.7 453.6,103.3 453.9,97.4 454.1,103.3 454.3,98.9 454.6,99.6 454.8,98.3 455,104.3 455.2,98.8 455.5,101 455.7,96.6 455.9,100.3 456.1,94.3 456.4,100.1 456.6,91.3 456.8,99.9 457,93.1 457.3,103.3 457.5,93.1 457.7,99.3 457.9,97.3 458.2,105.3 458.4,89.7 458.6,101.5 458.8,98.1 459.1,105.5 459.3,98.8 459.5,100.5 459.8,96.4 460,105.7 460.2,95.7 460.4,100.7 460.7,98.7 460.9,101.7 461.1,94.8 461.3,104.8 461.6,95.3 461.8,100.1 462,96.5 462.2,115.2 462.5,95.6 462.7,103.1 462.9,91.6 463.1,103.3 463.4,98.3 463.6,102.1 463.8,95.3 464,102.2 464.3,92.7 464.5,101 464.7,96.8 464.9,105.7 465.2,91 465.4,104 465.6,94.7 465.9,101.4 466.1,97.8 466.3,101.9 466.5,88.6 466.8,103.6 467,91.5 467.2,102.5 467.4,96.2 467.7,99.9 467.9,98.2 468.1,101.8 468.3,98.4 468.6,99.7 468.8,93.4 469,100.4 469.2,96.5 469.5,101.1 469.7,97.6 469.9,99.7 470.1,94.9 470.4,102.9 470.6,96.1 470.8,100.3 471.1,98.1 471.3,104 471.5,94.7 471.7,107.7 472,96.2 472.2,101 472.4,98.8 472.6,110 472.9,92.9 473.1,101.8 473.3,95.1 473.5,99.8 473.8,95 474,101.6 474.2,96.3 474.4,101 474.7,92.4 474.9,105.9 475.1,96.7 475.3,104.2 475.6,98.6 475.8,103.8 476,97.9 476.2,103.3 476.5,98.8 476.7,100.2 476.9,99.1 477.2,100 477.4,96.8 477.6,104.8 477.8,91.9 478.1,100.7 478.3,91.6 478.5,108.6 478.7,87.4 479,101.6 479.2,93.3 479.4,105.9 479.6,97.9 479.9,106.8 480.1,94.3 480.3,100.9 480.5,97.6 480.8,105 481,92 481.2,103.7 481.4,96.9 481.7,104.6 481.9,94.9 482.1,106.4 482.4,91.3 482.6,99.8 482.8,98.5 483,100.2 483.3,90.4 483.5,101.4 483.7,94 483.9,100.6 484.2,98.7 484.4,107.1 484.6,95.1 484.8,102.2 485.1,97.4 485.3,100.3 485.5,98.6 485.7,104.1 486,96.5 486.2,100 486.4,97.8 486.6,99.4 486.9,96.1 487.1,100.1 487.3,93.9 487.5,102 487.8,93.2 488,99.2 488.2,94 488.5,101.2 488.7,96.7 488.9,100.5 489.1,98.3 489.4,99.7 489.6,97.7 489.8,106.3 490,92.6 490.3,101.8 490.5,95.7 490.7,105.2 490.9,97.1 491.2,105.6 491.4,94.3 491.6,106.4 491.8,98.8 492.1,107.7 492.3,95.8 492.5,100.3 492.7,95 493,99.9 493.2,91.1 493.4,101.8 493.7,98.4 493.9,100.1 494.1,93 494.3,99.5 494.6,96.5 494.8,103 495,99.1 495.2,103.9 495.5,96.9 495.7,103.4 495.9,95.1 496.1,99.6 496.4,99.1 496.6,108.2 496.8,94.2 497,100.2 497.3,91.8 497.5,100.3 497.7,96.5 497.9,104.1 498.2,93.9 498.4,102.9 498.6,95.7 498.9,99.5 499.1,88.5 499.3,99.3 499.5,95.6 499.8,101.1 500,91.4 500.2,106 500.4,94.8 500.7,100.7 500.9,96.4 501.1,101.6 501.3,90.8 501.6,101.6 501.8,93.9 502,107.6 502.2,98.1 502.5,105.7 502.7,98.6 502.9,101.1 503.1,97.5 503.4,103 503.6,93.9 503.8,99.8 504,98 504.3,103.4 504.5,93.8 504.7,102.9 505,88.4 505.2,99.7 505.4,94.9 505.6,100.1 505.9,96.9 506.1,104.2 506.3,97.6 506.5,99.2 506.8,99.1 507,101.6 507.2,91.9 507.4,105.4 507.7,95.6 507.9,100.9 508.1,93.8 508.3,100.6 508.6,93.3 508.8,101.7 509,94.9 509.2,100.5 509.5,93.6 509.7,108.6 509.9,99 510.1,102.4 510.4,97.6 510.6,102.9 510.8,87.8 511.1,100.7 511.3,97.7 511.5,101.5 511.7,95.9 512,103.2 512.2,93.8 512.4,99.7 512.6,98.3 512.9,100.7 513.1,98.3 513.3,105.1 513.5,91.6 513.8,101.3 514,94.7 514.2,102.9 514.4,94 514.7,100.5 514.9,97.4 515.1,101.8 515.3,97 515.6,99.6 515.8,94 516,102.1 516.3,98.3 516.5,101.4 516.7,97.5 516.9,101.1 517.2,92.1 517.4,101.3 517.6,97.9 517.8,100.5 518.1,95.1 518.3,106.4 518.5,96.8 518.7,102.9 519,94.9 519.2,104.4 519.4,97.4 519.6,102.4 519.9,98.8 520.1,101.6 520.3,95.2 520.5,106.5 520.8,97.5 521,103.3 521.2,93 521.4,99.5 521.7,96.8 521.9,106.7 522.1,97.8 522.4,99.7 522.6,97.2 522.8,100.1 523,93.6 523.3,102.8 523.5,94.7 523.7,99.5 523.9,97.9 524.2,100.5 524.4,97.8 524.6,105.9 524.8,97.5 525.1,102.8 525.3,99 525.5,101.1 525.7,98.8 526,100.3 526.2,97.6 526.4,106.9 526.6,95.7 526.9,100.9 527.1,96.1 527.3,99.7 527.6,98.3 527.8,103.3 528,96.8 528.2,102.3 528.5,92.9 528.7,101.8 528.9,97 529.1,101.5 529.4,94.8 529.6,100.3 529.8,97.1 530,103.1 530.3,94.5 530.5,99.5 530.7,91.9 530.9,107.3 531.2,95.9 531.4,105.4 531.6,96.9 531.8,103.5 532.1,98 532.3,99.6 532.5,98.3 532.8,100.1 533,98.4 533.2,100.8 533.4,97.4 533.7,102.3 533.9,97.1 534.1,102.7 534.3,97.6 534.6,105.4 534.8,98.3 535,105 535.2,94.3 535.5,101.9 535.7,97 535.9,101.3 536.1,98.7 536.4,107.8 536.6,98.7 536.8,100.5 537,96.9 537.3,106.2 537.5,95.5 537.7,101 537.9,92.5 538.2,100.8 538.4,97.4" fill="none" stroke="#1e78ec" stroke-width="1" clip-path="url(#cb)" stroke-linejoin="round"/>
<polyline points="511.1,99.2 511.4,99.2 511.8,99.1 512.1,99.3 512.4,98.9 512.8,99.5 513.1,98.4 513.4,100.7 513.7,95.3 514.1,104.4 514.4,90.7 514.7,113 515.1,76.5 515.4,116.8 515.7,76.1 516,140.4 516.4,55.3 516.7,145.8 517,60.1 517.4,121.2 517.7,83.5 518,120.9 518.4,85.3 518.7,107.6 519,95 519.4,102.6 519.7,98 520,99.9 520.3,98.9 520.7,99.3 521,99.1 521.3,99.2 521.7,99.2" fill="none" stroke="#1e78ec" stroke-width="1" clip-path="url(#cb)" stroke-linejoin="round"/>
<polyline points="380.8,99.2 381.1,99.2 381.5,98.5 381.8,102.7 382.1,88 382.5,135 382.8,68 383.1,109.7 383.4,95.5 383.8,99.9 384.1,99.1" fill="none" stroke="#1e78ec" stroke-width="1" clip-path="url(#cb)" stroke-linejoin="round"/>
<polyline points="382.7,99.2 383,99.2 383.4,98.7 383.7,102.8 384,91.2 384.4,128 384.7,80 385,111.4 385.3,96.8 385.7,99.7 386,99.1" fill="none" stroke="#1e78ec" stroke-width="1" clip-path="url(#cb)" stroke-linejoin="round"/>
<polyline points="384.7,99.2 385,99.2 385.4,98.9 385.7,104.1 386,91.5 386.4,132 386.7,84 387,114 387.3,97.5 387.7,99.6 388,99.1" fill="none" stroke="#1e78ec" stroke-width="1" clip-path="url(#cb)" stroke-linejoin="round"/>
<polyline points="387.2,99.2 387.5,99.2 387.9,98.9 388.2,101.9 388.5,92.9 388.9,126 389.2,86 389.5,108 389.8,98 390.2,99.5 390.5,99.1" fill="none" stroke="#1e78ec" stroke-width="1" clip-path="url(#cb)" stroke-linejoin="round"/>
<polyline points="389.2,99.2 389.5,99.2 389.9,98.9 390.2,101.6 390.5,90.3 390.9,120 391.2,82 391.5,105.8 391.8,97 392.2,99.4 392.5,99.1" fill="none" stroke="#1e78ec" stroke-width="1" clip-path="url(#cb)" stroke-linejoin="round"/>
<polyline points="391.7,99.2 392,99.2 392.4,98.9 392.7,101.9 393,92.8 393.4,118 393.7,86 394,105.2 394.3,97.5 394.7,99.4 395,99.1" fill="none" stroke="#1e78ec" stroke-width="1" clip-path="url(#cb)" stroke-linejoin="round"/>
<path d="M50.2 385.6v-2M50.2 229.1v2M88 385.6v-2M88 229.1v2M125.7 385.6v-2M125.7 229.1v2M163.5 385.6v-2M163.5 229.1v2M201.2 385.6v-2M201.2 229.1v2M239 385.6v-2M239 229.1v2M35.1 385.6h2M239 385.6h-2M35.1 354.3h2M239 354.3h-2M35.1 323h2M239 323h-2M35.1 291.7h2M239 291.7h-2M35.1 260.4h2M239 260.4h-2M35.1 229.1h2M239 229.1h-2" stroke="#404040" stroke-width="1.1" fill="none"/>
<rect x="35.1" y="229.1" width="203.9" height="156.5" fill="none" stroke="#404040" stroke-width="1.5"/>
<text x="50.2" y="397.6" font-size="8.5" text-anchor="middle">500</text>
<text x="88" y="397.6" font-size="8.5" text-anchor="middle">1000</text>
<text x="125.7" y="397.6" font-size="8.5" text-anchor="middle">1500</text>
<text x="163.5" y="397.6" font-size="8.5" text-anchor="middle">2000</text>
<text x="201.2" y="397.6" font-size="8.5" text-anchor="middle">2500</text>
<text x="239" y="397.6" font-size="8.5" text-anchor="middle">3000</text>
<text x="31.5" y="388.5" font-size="8.5" text-anchor="end">0</text>
<text x="31.5" y="357.2" font-size="8.5" text-anchor="end">2</text>
<text x="31.5" y="325.9" font-size="8.5" text-anchor="end">4</text>
<text x="31.5" y="294.6" font-size="8.5" text-anchor="end">6</text>
<text x="31.5" y="263.3" font-size="8.5" text-anchor="end">8</text>
<text x="31.5" y="232" font-size="8.5" text-anchor="end">10</text>
<text x="137.1" y="409" font-size="9.6" text-anchor="middle">Time (ns)</text>
<text x="20.2" y="307.4" font-size="9.3" text-anchor="middle" transform="rotate(-90 20.2 307.4)">Intensity</text>
<text x="36.1" y="227" font-size="8.8"><tspan font-size="9.6">&#215;</tspan><tspan dx="0.1">10</tspan><tspan font-size="5.9" dx="1.3" dy="-4.2">4</tspan></text>
<text x="133.1" y="425.7" font-size="13" text-anchor="middle" font-weight="bold" stroke-width="0">(c)</text>
<polyline points="35.1,385.5 36.6,385.6 38.1,384.8 39.6,385.2 41.1,385.6 42.7,385.3 44.2,385.5 45.7,385.2 47.2,385.5 48.7,385.5 50.2,385.5 51.7,385.5 53.2,385.5 54.7,385.4 56.2,385.1 57.8,385.4 59.3,385.5 60.8,385.4 62.3,385.5 63.8,385.4 65.3,385.3 66.8,385.1 68.3,385.5 69.8,385.3 71.3,385 72.9,385.2 74.4,385.3 75.9,385.2 77.4,385.1 78.9,385.5 80.4,385.4 81.9,385.2 92.6,251.2 93.6,251.4 94.5,251.5 95.4,253 96.3,252.2 97.2,252.1 98.1,250.4 99,251.3 99.9,252 100.8,253.2 101.7,254.1 102.6,253 103.5,251.6 104.4,251.7 105.3,251.3 106.2,253.4 107.1,253.4 108.1,252.6 109,250.9 109.9,251.1 110.8,252.1 120.5,385.1 121.3,385.5 122,384.9 122.8,385.3 123.5,385.4 124.3,384.7 125,385 125.8,385.4 126.6,385.5 127.3,385.4 128.1,385.5 128.8,385.2 129.6,385.5 130.3,385 131.1,385.3 131.8,385.5 132.6,385.2 133.3,385.4 134.1,385.3 134.9,385.4 135.6,384.9 136.4,384.4 137.1,385 137.9,384.4 138.6,383.6 139.4,383.3 140.1,383.1 140.9,382.9 141.7,383.1 142.4,383 143.2,383.8 143.9,384.3 144.7,383.9 145.4,384.6 146.2,384.4 146.9,384 147.7,383.9 148.5,383.6 149.2,382.8 150,383 150.7,383 151.5,382.5 152.2,382.6 153,382.5 153.7,382.3 154.5,383 155.2,383.8 156,384.1 156.8,384.3 157.5,384.5 158.3,384.7 159,384.9 159.8,385.2 160.5,385.5 161.3,385 162,385.6 162.8,385.2 163.6,384.8 164.3,385.6 165.1,385.6 165.8,385.2 166.6,385.5 167.3,385.1 168.1,385.3 168.8,384.5 169.6,385.1 170.4,385 171.1,384.9 171.9,385.2 172.6,385.5 173.4,385.3 174.1,385.4 174.9,384.8 175.6,385.2 176.4,385 177.2,385.1 177.9,385.5 178.7,385.5 179.4,385.4 180.2,385.4 180.9,385.2 181.7,384.7 182.4,385.5 183.2,385.4 183.9,385.5 184.7,384.8 185.5,385.3 186.2,385.3 187,385.3 187.7,384.9 188.5,385.1 189.2,385.5 190,385.5 190.7,385.3 191.5,384.9 192.3,385.4 193,385.1 193.8,384.6 194.5,385.6 195.3,384.9 196,385.3 196.8,385.4 197.5,385.3 198.3,385.3 199.1,385.5 199.8,385.3 200.6,384.9 201.3,385.4 202.1,384.7 202.8,385.5 203.6,385.2 204.3,385 205.1,385.3 205.8,385.4 206.6,385.6 207.4,385.2 208.1,384.7 208.9,385.4 209.6,385.2 210.4,385 211.1,385.3 211.9,385.4 212.6,385.4 213.4,385.5 214.2,385.3 214.9,385.4 215.7,385.1 216.4,385.4 217.2,385 217.9,385.3 218.7,385 219.4,384.6 220.2,385.2 221,385.1 221.7,384.8 222.5,385.3 223.2,385.2 224,384.6 224.7,385.5 225.5,385.3 226.2,385.6 227,384.3 227.7,385.5 228.5,385.2 229.3,385 230,385.4 230.8,384.8 231.5,385.5 232.3,385.2 233,385.2 233.8,385.3 234.5,385.4 235.3,385.6 236.1,385.2 236.8,385.3 237.6,384.3 238.3,385.5" fill="none" stroke="#4f96ee" stroke-width="1.1" stroke-dasharray="1.2,0.9" clip-path="url(#cc)" stroke-linejoin="round"/>
<polyline points="35.1,384.7 36.6,385.2 38.1,385.6 39.6,385.6 41.1,385.2 42.7,385.2 44.2,385.4 45.7,385.5 47.2,385.4 48.7,385.3 50.2,385.2 51.7,385.5 53.2,385.1 54.7,385.3 56.2,385.2 57.8,384.7 59.3,385.3 60.8,385.4 62.3,385.4 63.8,385.2 65.3,385.5 66.8,385.6 68.3,385.3 69.8,385.5 71.3,385.5 72.9,385.4 74.4,385.3 75.9,385.5 77.4,385.1 78.9,385.4 80.4,385.3 81.9,385.3 92.6,252.4 93.6,253 94.5,253.8 95.4,255 96.3,254.9 97.2,255 98.1,255.9 99,257.7 99.9,258 100.8,257.8 101.7,256.9 102.6,258 103.5,257.6 104.4,258 105.3,257.9 106.2,258.1 107.1,255.9 108.1,255.8 109,255.1 109.9,255.8 110.8,256 120.5,385.4 121.3,385.6 122,385.5 122.8,385.5 123.5,385.3 124.3,385.3 125,384.3 125.8,384.2 126.6,383.2 127.3,381.2 128.1,380.6 128.8,382.4 129.6,383.6 130.3,384.3 131.1,384.8 131.8,385.5 132.6,385.2 133.3,385.4 134.1,385 134.9,385.3 135.6,384.6 136.4,385.1 137.1,385.4 137.9,385.6 138.6,385.3 139.4,385 140.1,385.2 140.9,385.1 141.7,385.5 142.4,385.2 143.2,385 143.9,385.5 144.7,385 145.4,384.8 146.2,385.3 146.9,385.4 147.7,385.5 148.5,385.5 149.2,384.8 150,385.5 150.7,384.9 151.5,385.5 152.2,385.5 153,385.1 153.7,385.5 154.5,385.4 155.2,385.5 156,385.4 156.8,384.9 157.5,385.1 158.3,385.5 159,385.3 159.8,385.5 160.5,385.4 161.3,385.3 162,385.5 162.8,385 163.6,385.5 164.3,384.9 165.1,385.3 165.8,384.8 166.6,385.2 167.3,385 168.1,385.5 168.8,385.3 169.6,385.6 170.4,384.9 171.1,385.4 171.9,384.6 172.6,385.5 173.4,385.3 174.1,385.4 174.9,385.5 175.6,385.4 176.4,385.4 177.2,384.6 177.9,385.6 178.7,385.5 179.4,385.3 180.2,385 180.9,384.8 181.7,385.3 182.4,384.7 183.2,384.9 183.9,385.2 184.7,385.5 185.5,385.1 186.2,385.6 187,385.6 187.7,385.1 188.5,385.3 189.2,385.4 190,385.6 190.7,385.5 191.5,385.3 192.3,384.8 193,384.8 193.8,385.3 194.5,385.5 195.3,385.1 196,384.5 196.8,384.8 197.5,385.4 198.3,384.7 199.1,385.5 199.8,385.4 200.6,384.5 201.3,385.1 202.1,385.4 202.8,385.5 203.6,384.9 204.3,385.3 205.1,385.2 205.8,385.4 206.6,385 207.4,385.5 208.1,385.5 208.9,385.1 209.6,385.2 210.4,385.2 211.1,385.1 211.9,385.4 212.6,385.5 213.4,385.4 214.2,385.4 214.9,385.4 215.7,385.3 216.4,385 217.2,385.3 217.9,385.5 218.7,385.6 219.4,385.1 220.2,384.8 221,385.5 221.7,385.4 222.5,385.2 223.2,385.5 224,385.4 224.7,385.1 225.5,385.1 226.2,385 227,385.1 227.7,385.4 228.5,385.2 229.3,385.2 230,385.3 230.8,385.2 231.5,385.5 232.3,384.7 233,385 233.8,385.2 234.5,384.9 235.3,385.1 236.1,384.5 236.8,385.3 237.6,385.5 238.3,385.5" fill="none" stroke="#f03c3c" stroke-width="1.1" stroke-dasharray="3,1.2,1,1.2" clip-path="url(#cc)" stroke-linejoin="round"/>
<polyline points="35.1,385.3 36.6,385.4 38.1,385.2 39.6,385.5 41.1,385.5 42.7,385.5 44.2,385.4 45.7,385.5 47.2,385.3 48.7,385.5 50.2,385.6 51.7,385.4 53.2,385.1 54.7,385.4 56.2,385.6 57.8,385.3 59.3,385.4 60.8,385.6 62.3,385.5 63.8,385.4 65.3,385.6 66.8,385.2 68.3,384.9 69.8,385.3 71.3,385.4 72.9,385.1 74.4,385.6 75.9,385.4 77.4,385.4 78.9,385.5 80.4,385.6 81.9,385.3 92.6,262.6 93.6,263.6 94.5,262.1 95.4,263.4 96.3,261.8 97.2,262 98.1,261.2 99,261.9 99.9,260.9 100.8,261 101.7,259.4 102.6,261.4 103.5,260.4 104.4,261.1 105.3,260.8 106.2,261.1 107.1,261.4 108.1,260.8 109,260 109.9,262.2 110.8,262.1 120.5,385.3 121.3,385.1 122,385.4 122.8,384.8 123.5,385.3 124.3,385.5 125,384.8 125.8,384.7 126.6,384.6 127.3,384.9 128.1,385.1 128.8,384.8 129.6,385.5 130.3,385.4 131.1,385.6 131.8,385.5 132.6,385.2 133.3,385.5 134.1,385.1 134.9,385.4 135.6,385.4 136.4,385.2 137.1,385.5 137.9,385.4 138.6,385.6 139.4,385.2 140.1,385.5 140.9,385.4 141.7,384.9 142.4,385.4 143.2,385.2 143.9,385.2 144.7,385.4 145.4,385.2 146.2,385 146.9,385.4 147.7,385.3 148.5,385.3 149.2,385.1 150,385.4 150.7,385.1 151.5,385.5 152.2,385.5 153,385.4 153.7,385.3 154.5,385.3 155.2,385.4 156,385.4 156.8,385.3 157.5,385 158.3,385.1 159,384.2 159.8,384.3 160.5,383.8 161.3,383.2 162,383.8 162.8,383.2 163.6,383.1 164.3,383.3 165.1,383.5 165.8,384 166.6,384 167.3,384.6 168.1,384.7 168.8,384.9 169.6,385 170.4,385.4 171.1,385 171.9,385.3 172.6,385 173.4,385.5 174.1,385.5 174.9,384.9 175.6,384.9 176.4,385.3 177.2,385.1 177.9,385.5 178.7,384.3 179.4,384.9 180.2,384.4 180.9,385.4 181.7,385.4 182.4,385.1 183.2,385.5 183.9,385.5 184.7,385.1 185.5,385.2 186.2,385.5 187,385.2 187.7,385.5 188.5,384.8 189.2,385.4 190,385.1 190.7,385 191.5,385.1 192.3,385.5 193,385.5 193.8,384.8 194.5,384.8 195.3,385.1 196,385.3 196.8,384.8 197.5,385.4 198.3,384.7 199.1,385.2 199.8,385.1 200.6,385.2 201.3,385.5 202.1,384.9 202.8,384.7 203.6,385.3 204.3,384.6 205.1,384.7 205.8,385.4 206.6,385.5 207.4,385.5 208.1,385.3 208.9,384.7 209.6,385.4 210.4,384.8 211.1,385.5 211.9,385 212.6,385.2 213.4,385.4 214.2,385.5 214.9,385.1 215.7,385.6 216.4,385.2 217.2,385.4 217.9,385.5 218.7,385.4 219.4,385.5 220.2,385.3 221,385.5 221.7,385.6 222.5,385.3 223.2,385.5 224,384.8 224.7,384.4 225.5,385.3 226.2,385.6 227,385.4 227.7,385.4 228.5,385.4 229.3,385.4 230,385.4 230.8,384.9 231.5,385.2 232.3,385 233,384.8 233.8,385 234.5,385.1 235.3,385.5 236.1,384.9 236.8,384.8 237.6,384.9 238.3,385.5" fill="none" stroke="#c27cf0" stroke-width="1.1" stroke-dasharray="4,3.2" clip-path="url(#cc)" stroke-linejoin="round"/>
<polyline points="35.1,385.3 36.6,385.6 38.1,385.5 39.6,385.1 41.1,385.5 42.7,385 44.2,385.1 45.7,385.2 47.2,385.4 48.7,385.3 50.2,385 51.7,385.3 53.2,385.1 54.7,385.5 56.2,384.9 57.8,385.3 59.3,385.2 60.8,385.6 62.3,385.5 63.8,385.3 65.3,385.5 66.8,385.5 68.3,385.5 69.8,385.5 71.3,384.8 72.9,385.5 74.4,385.4 75.9,385.5 77.4,385.1 78.9,385.5 80.4,385.5 81.9,385.3 92.6,265.4 93.6,265.9 94.5,263.9 95.4,262.4 96.3,261.1 97.2,261 98.1,259.6 99,259.2 99.9,258.8 100.8,259 101.7,260.3 102.6,259.9 103.5,260.5 104.4,260 105.3,260.4 106.2,259.4 107.1,259 108.1,259.2 109,259.9 109.9,259.6 110.8,258.2 120.5,385.3 121.3,385.2 122,385.4 122.8,385.5 123.5,384.6 124.3,385.4 125,385.3 125.8,385.3 126.6,385.4 127.3,385.5 128.1,384.5 128.8,385.5 129.6,385.6 130.3,385 131.1,385 131.8,385.5 132.6,385.5 133.3,385 134.1,384.8 134.9,385.3 135.6,384.9 136.4,385.4 137.1,385.2 137.9,385.3 138.6,384.8 139.4,385.4 140.1,385.1 140.9,385.5 141.7,385.5 142.4,385.4 143.2,385.6 143.9,385.1 144.7,384.8 145.4,385.3 146.2,385.3 146.9,385.5 147.7,385.1 148.5,385 149.2,385.4 150,385.6 150.7,385.5 151.5,385.5 152.2,385.1 153,384.8 153.7,385.2 154.5,385.5 155.2,385.2 156,385 156.8,385.5 157.5,385.3 158.3,385.4 159,385.3 159.8,385.5 160.5,384.5 161.3,385.4 162,385.4 162.8,385.4 163.6,385.4 164.3,385.2 165.1,385.5 165.8,385.4 166.6,385.6 167.3,385.2 168.1,385.1 168.8,385.3 169.6,385.2 170.4,384.9 171.1,385.5 171.9,385.2 172.6,385.6 173.4,385 174.1,385.5 174.9,385.5 175.6,385.1 176.4,385.1 177.2,384.8 177.9,384.7 178.7,385.5 179.4,385.4 180.2,385.2 180.9,385.6 181.7,385 182.4,384.5 183.2,385.2 183.9,385.5 184.7,384.7 185.5,385.2 186.2,385 187,384.7 187.7,385.4 188.5,385.5 189.2,385.5 190,384.9 190.7,385.2 191.5,384.5 192.3,385.5 193,384.8 193.8,384.3 194.5,385.1 195.3,385.4 196,385.5 196.8,385.5 197.5,385.1 198.3,385.1 199.1,385.1 199.8,384.7 200.6,385.5 201.3,384.7 202.1,385.2 202.8,384.7 203.6,385.5 204.3,385.1 205.1,385.5 205.8,385.3 206.6,384.4 207.4,385 208.1,385.4 208.9,385.4 209.6,385 210.4,385.2 211.1,385.1 211.9,385.4 212.6,385.4 213.4,385 214.2,385.5 214.9,385.3 215.7,385.4 216.4,385.5 217.2,385 217.9,385 218.7,385.3 219.4,385.5 220.2,384.8 221,385.5 221.7,384.9 222.5,385.1 223.2,385.4 224,384.8 224.7,385.5 225.5,385.5 226.2,385.2 227,385 227.7,385.2 228.5,384.9 229.3,385.2 230,385.4 230.8,384.5 231.5,385.5 232.3,385 233,385.5 233.8,384.5 234.5,385.6 235.3,385.1 236.1,385.3 236.8,385.5 237.6,385.2 238.3,385.5" fill="none" stroke="#12ad66" stroke-width="1.1" clip-path="url(#cc)" stroke-linejoin="round"/>
<polyline points="35.1,385.3 36.6,385.3 38.1,384.9 39.6,384.9 41.1,385.2 42.7,385.1 44.2,385.5 45.7,385.5 47.2,385 48.7,385.4 50.2,385.6 51.7,385.2 53.2,385.3 54.7,385.1 56.2,385.6 57.8,385.3 59.3,385.1 60.8,385.3 62.3,385.3 63.8,385.4 65.3,385.6 66.8,385.5 68.3,385.6 69.8,385.4 71.3,385.3 72.9,385.3 74.4,385.3 75.9,385.3 77.4,385 78.9,385 80.4,385.4 81.9,385.4 92.6,273.4 93.6,273 94.5,273.6 95.4,273.3 96.3,271.4 97.2,271.7 98.1,271.5 99,270.3 99.9,269 100.8,267.7 101.7,266.6 102.6,267.1 103.5,266.4 104.4,266.8 105.3,268.4 106.2,268.4 107.1,268.3 108.1,267.2 109,268.5 109.9,267.6 110.8,268.3 120.5,385.2 121.3,384.7 122,383 122.8,381.6 123.5,380.6 124.3,381.8 125,383.8 125.8,384.6 126.6,385 127.3,384.5 128.1,384.4 128.8,384.9 129.6,385.3 130.3,385.2 131.1,385.6 131.8,385.3 132.6,385.5 133.3,384.7 134.1,385.4 134.9,385.1 135.6,385.3 136.4,384.8 137.1,385.3 137.9,385.5 138.6,385.5 139.4,385.1 140.1,385.3 140.9,385.4 141.7,384.6 142.4,384.5 143.2,385.6 143.9,385.2 144.7,385.4 145.4,385.5 146.2,385.6 146.9,384.9 147.7,384.9 148.5,385.3 149.2,384.7 150,385.4 150.7,385.4 151.5,385.4 152.2,385 153,385.6 153.7,385.1 154.5,384.8 155.2,384.6 156,384.6 156.8,385.5 157.5,385.4 158.3,384.7 159,385.4 159.8,384.5 160.5,385.6 161.3,385.5 162,384.7 162.8,385.4 163.6,385 164.3,385 165.1,384.5 165.8,385.3 166.6,384.9 167.3,384.5 168.1,384.5 168.8,384.8 169.6,384.7 170.4,383.9 171.1,384.1 171.9,383.8 172.6,383.7 173.4,383.7 174.1,383.3 174.9,383.1 175.6,382.9 176.4,383.8 177.2,383.9 177.9,383.4 178.7,384.1 179.4,384.2 180.2,384.1 180.9,384.6 181.7,384 182.4,384.9 183.2,383.9 183.9,385.4 184.7,385.4 185.5,384.9 186.2,385.4 187,385.4 187.7,385.1 188.5,385 189.2,385.2 190,385.5 190.7,385.3 191.5,384.7 192.3,385.4 193,385.5 193.8,385.5 194.5,385.3 195.3,384.5 196,384.8 196.8,385.4 197.5,385.3 198.3,384.9 199.1,385.1 199.8,385.5 200.6,385.6 201.3,385.5 202.1,385.2 202.8,385.3 203.6,385.4 204.3,385.4 205.1,385.4 205.8,385.3 206.6,385.5 207.4,384.9 208.1,385.5 208.9,385.2 209.6,385.6 210.4,385.3 211.1,385.1 211.9,385.5 212.6,385.3 213.4,385 214.2,385.6 214.9,385.3 215.7,385.4 216.4,385 217.2,385.5 217.9,385.4 218.7,385.2 219.4,385 220.2,385.5 221,385.6 221.7,385.5 222.5,385 223.2,385.1 224,384.8 224.7,385 225.5,385.5 226.2,385.3 227,384.5 227.7,385.4 228.5,385.1 229.3,385.6 230,384.6 230.8,385.6 231.5,385.5 232.3,384.7 233,384.6 233.8,384.6 234.5,385.2 235.3,385.2 236.1,384.9 236.8,385.4 237.6,385.6 238.3,385.5" fill="none" stroke="#e9b03e" stroke-width="1.1" stroke-dasharray="1.2,0.9" clip-path="url(#cc)" stroke-linejoin="round"/>
<polyline points="35.1,385.6 36.6,385.1 38.1,385.1 39.6,385.4 41.1,385.1 42.7,385.2 44.2,385.5 45.7,385.4 47.2,385.4 48.7,385.5 50.2,385.5 51.7,385.5 53.2,385.4 54.7,385.3 56.2,385.2 57.8,385.2 59.3,385.2 60.8,385.6 62.3,385.5 63.8,384.8 65.3,385.4 66.8,385.6 68.3,385.1 69.8,385.4 71.3,385.5 72.9,385.3 74.4,385.3 75.9,385.5 77.4,385.5 78.9,385.2 80.4,385.6 81.9,385.4 92.6,274.6 93.6,274.4 94.5,274.6 95.4,273 96.3,272.7 97.2,273.3 98.1,273.4 99,274.1 99.9,273 100.8,272.5 101.7,273.6 102.6,273.8 103.5,274.5 104.4,273.5 105.3,275.1 106.2,273.7 107.1,275.4 108.1,275.3 109,276.1 109.9,275.6 110.8,274.2 120.5,385.3 121.3,385.5 122,385.3 122.8,384.8 123.5,385.1 124.3,385.2 125,384.8 125.8,384.9 126.6,385.3 127.3,385.1 128.1,385.3 128.8,385 129.6,385.6 130.3,385.5 131.1,384.8 131.8,385.1 132.6,384.6 133.3,385.2 134.1,384.3 134.9,385.2 135.6,385.1 136.4,385.2 137.1,385.2 137.9,385 138.6,385.4 139.4,385.5 140.1,385.2 140.9,385.2 141.7,385.3 142.4,385.3 143.2,385.1 143.9,385.2 144.7,385.4 145.4,385.6 146.2,385.6 146.9,385.1 147.7,385.6 148.5,384.7 149.2,385.1 150,385.4 150.7,385.2 151.5,384.2 152.2,384.9 153,385.4 153.7,385.4 154.5,384.8 155.2,384.4 156,385.5 156.8,385.5 157.5,385.1 158.3,385.5 159,385.2 159.8,385.3 160.5,385.1 161.3,385.2 162,385.5 162.8,385.1 163.6,385 164.3,385 165.1,385.5 165.8,384.7 166.6,385.3 167.3,384.7 168.1,385.3 168.8,385.2 169.6,385.3 170.4,385.3 171.1,385.3 171.9,385.2 172.6,385 173.4,385.2 174.1,384.9 174.9,385.5 175.6,385.2 176.4,385.5 177.2,385.5 177.9,385.5 178.7,385.4 179.4,385 180.2,385.5 180.9,385.5 181.7,384.9 182.4,385.5 183.2,385.3 183.9,385.4 184.7,385.1 185.5,385.1 186.2,385.5 187,385.3 187.7,385 188.5,385.4 189.2,385.4 190,385.5 190.7,385.1 191.5,384.6 192.3,384.7 193,385.3 193.8,385.6 194.5,385 195.3,385.3 196,385.4 196.8,385.4 197.5,385.6 198.3,384.5 199.1,385.2 199.8,385.5 200.6,385.2 201.3,385.3 202.1,385.2 202.8,385.5 203.6,385.3 204.3,385.4 205.1,385.5 205.8,385.2 206.6,384.7 207.4,385 208.1,385.4 208.9,384.6 209.6,385.3 210.4,385 211.1,384.9 211.9,385.4 212.6,384.7 213.4,384.9 214.2,385.6 214.9,385.3 215.7,385 216.4,385.3 217.2,385.1 217.9,385.3 218.7,385.3 219.4,385.1 220.2,385.4 221,385.2 221.7,385.3 222.5,385.5 223.2,385.5 224,385.5 224.7,385 225.5,385.5 226.2,384.7 227,385.5 227.7,385.6 228.5,385.1 229.3,385.1 230,385.1 230.8,385.5 231.5,385.3 232.3,384.9 233,385 233.8,385.4 234.5,385.4 235.3,385.4 236.1,385.6 236.8,385.3 237.6,385.3 238.3,385" fill="none" stroke="#1fcaca" stroke-width="1.1" stroke-dasharray="3,1.2,1,1.2" clip-path="url(#cc)" stroke-linejoin="round"/>
<polyline points="35.1,385.1 36.6,385.3 38.1,385.1 39.6,385.3 41.1,385.1 42.7,385 44.2,385.5 45.7,385.1 47.2,385.1 48.7,385.4 50.2,385.4 51.7,385.4 53.2,385.6 54.7,385.4 56.2,385.6 57.8,385.4 59.3,385.2 60.8,385.4 62.3,385.6 63.8,385.1 65.3,385.4 66.8,385.3 68.3,385.6 69.8,385.2 71.3,385.5 72.9,385.3 74.4,385 75.9,385.4 77.4,385 78.9,385.6 80.4,385 81.9,385.6 92.6,278.8 93.6,278.9 94.5,279.9 95.4,279.9 96.3,279.9 97.2,280.8 98.1,281 99,282.5 99.9,282.7 100.8,282.3 101.7,282.3 102.6,282.6 103.5,282.8 104.4,280.8 105.3,281 106.2,280.5 107.1,280.2 108.1,280 109,280.5 109.9,281.1 110.8,282.5 120.5,385.4 121.3,385.4 122,385.6 122.8,384.5 123.5,385 124.3,385.4 125,385.4 125.8,385.6 126.6,384.5 127.3,385.5 128.1,385.1 128.8,385.4 129.6,385 130.3,385 131.1,385.6 131.8,385.2 132.6,385.3 133.3,385.3 134.1,385.3 134.9,384.9 135.6,385 136.4,385.4 137.1,385.1 137.9,385.4 138.6,385.4 139.4,385.5 140.1,385 140.9,385.2 141.7,385.4 142.4,385.3 143.2,385 143.9,385.2 144.7,385.3 145.4,385.3 146.2,385 146.9,384.8 147.7,385.5 148.5,384.6 149.2,385.1 150,385 150.7,385.5 151.5,385.1 152.2,385.1 153,385.3 153.7,385.5 154.5,385.1 155.2,384.9 156,385.5 156.8,385.3 157.5,385.6 158.3,385.4 159,385 159.8,385.4 160.5,385.6 161.3,385.4 162,385.6 162.8,385.5 163.6,385.1 164.3,385.3 165.1,385.1 165.8,385.5 166.6,384.9 167.3,385.1 168.1,385 168.8,385.5 169.6,385.2 170.4,385.3 171.1,385.3 171.9,385.2 172.6,385.1 173.4,385.5 174.1,385.6 174.9,384.8 175.6,385.6 176.4,385.5 177.2,384.9 177.9,385 178.7,385.2 179.4,385.1 180.2,385.2 180.9,384.4 181.7,385.1 182.4,384.6 183.2,385.3 183.9,385 184.7,385.6 185.5,385.2 186.2,385.3 187,385.5 187.7,385.2 188.5,385.2 189.2,385.6 190,385.2 190.7,385.4 191.5,385.4 192.3,384.9 193,385.4 193.8,385.4 194.5,385.3 195.3,385.5 196,385.5 196.8,385.3 197.5,385.5 198.3,385 199.1,384.7 199.8,384.9 200.6,385.5 201.3,384.9 202.1,385.4 202.8,384.7 203.6,385 204.3,384.9 205.1,385.3 205.8,385.1 206.6,385.4 207.4,385.2 208.1,385.5 208.9,384.7 209.6,385.1 210.4,385.5 211.1,385.6 211.9,384.5 212.6,385 213.4,385.3 214.2,385.5 214.9,385.5 215.7,385.2 216.4,384.9 217.2,385.5 217.9,385.4 218.7,385.2 219.4,385.4 220.2,385.3 221,385.2 221.7,385.5 222.5,385.6 223.2,385.4 224,385.2 224.7,385.5 225.5,385.2 226.2,385.5 227,385.3 227.7,384.2 228.5,385.6 229.3,385.3 230,385.5 230.8,385.1 231.5,385.4 232.3,385.1 233,385.4 233.8,384.5 234.5,384.9 235.3,384.8 236.1,385.5 236.8,385.6 237.6,384.6 238.3,385.2" fill="none" stroke="#1a1a1a" stroke-width="1.1" stroke-dasharray="4.2,2.6" clip-path="url(#cc)" stroke-linejoin="round"/>
<polyline points="35.1,385.2 36.6,385.3 38.1,385.6 39.6,385.1 41.1,385.2 42.7,385 44.2,385.3 45.7,385.1 47.2,385.4 48.7,385.3 50.2,385.4 51.7,385.3 53.2,385.4 54.7,385 56.2,385.5 57.8,385 59.3,385.4 60.8,385.5 62.3,385.4 63.8,385.4 65.3,385.3 66.8,385.1 68.3,385.4 69.8,385.2 71.3,385.4 72.9,385.3 74.4,385.6 75.9,385 77.4,385.3 78.9,385.5 80.4,385.6 81.9,385.5 92.6,289 93.6,289.4 94.5,288.9 95.4,288.7 96.3,287.2 97.2,287.6 98.1,287.8 99,288.1 99.9,287.9 100.8,287.1 101.7,285.5 102.6,286.9 103.5,286.2 104.4,288 105.3,287.6 106.2,288.4 107.1,288.5 108.1,289 109,287.7 109.9,287.3 110.8,287 120.5,385.4 121.3,385.3 122,385.2 122.8,385.2 123.5,385.6 124.3,385.2 125,385.1 125.8,384.8 126.6,385.3 127.3,385.5 128.1,384.4 128.8,385.5 129.6,385.1 130.3,385.2 131.1,384.6 131.8,385.5 132.6,385.3 133.3,385.5 134.1,385.2 134.9,385.1 135.6,385.2 136.4,384.9 137.1,385.5 137.9,385.5 138.6,385.6 139.4,385.3 140.1,385.6 140.9,385.6 141.7,385.3 142.4,385.2 143.2,384.8 143.9,385.5 144.7,384.9 145.4,385.1 146.2,385.5 146.9,385.5 147.7,385.1 148.5,385.3 149.2,385.5 150,385.4 150.7,385.1 151.5,385.4 152.2,384.7 153,385.4 153.7,385.1 154.5,385.2 155.2,385.5 156,385.5 156.8,385.3 157.5,385.4 158.3,384.8 159,385.2 159.8,384.9 160.5,385.2 161.3,385.4 162,385.3 162.8,385.6 163.6,385.3 164.3,385.5 165.1,385.3 165.8,384.8 166.6,385.1 167.3,384.9 168.1,385.3 168.8,385.6 169.6,385.3 170.4,385.6 171.1,385 171.9,385.2 172.6,385.5 173.4,385 174.1,385.5 174.9,385.1 175.6,385.2 176.4,385.2 177.2,385.4 177.9,385.1 178.7,385.5 179.4,385 180.2,385.4 180.9,385.5 181.7,385.4 182.4,385.3 183.2,385.1 183.9,385.3 184.7,385.6 185.5,385.1 186.2,385.2 187,385.3 187.7,385.1 188.5,385.2 189.2,385.2 190,385.3 190.7,385.1 191.5,385.1 192.3,385.4 193,384.7 193.8,385.6 194.5,385.5 195.3,384.5 196,385.3 196.8,385.3 197.5,385.4 198.3,384.8 199.1,385 199.8,384.9 200.6,384.7 201.3,384.2 202.1,385.3 202.8,385.4 203.6,384.2 204.3,385.3 205.1,385.6 205.8,384.9 206.6,385.2 207.4,385.5 208.1,385.6 208.9,385.4 209.6,385.4 210.4,385.2 211.1,385.1 211.9,385 212.6,385.1 213.4,385.3 214.2,385.5 214.9,385.1 215.7,385.5 216.4,385.3 217.2,385.2 217.9,385.3 218.7,385.4 219.4,385.2 220.2,385.3 221,385.2 221.7,385.4 222.5,385.5 223.2,385.2 224,385.6 224.7,385 225.5,385.4 226.2,385.3 227,385.2 227.7,385.2 228.5,385.3 229.3,385.4 230,385.4 230.8,385.6 231.5,385.1 232.3,385.4 233,384.7 233.8,385.4 234.5,384.8 235.3,385.1 236.1,384.4 236.8,385.6 237.6,385.6 238.3,385" fill="none" stroke="#1e78ec" stroke-width="1.1" clip-path="url(#cc)" stroke-linejoin="round"/>
<path d="M350.2 385.6v-2M350.2 229.1v2M388 385.6v-2M388 229.1v2M425.7 385.6v-2M425.7 229.1v2M463.5 385.6v-2M463.5 229.1v2M501.2 385.6v-2M501.2 229.1v2M539 385.6v-2M539 229.1v2M335.1 385.6h2M539 385.6h-2M335.1 354.3h2M539 354.3h-2M335.1 323h2M539 323h-2M335.1 291.7h2M539 291.7h-2M335.1 260.4h2M539 260.4h-2M335.1 229.1h2M539 229.1h-2" stroke="#404040" stroke-width="1.1" fill="none"/>
<rect x="335.1" y="229.1" width="203.9" height="156.5" fill="none" stroke="#404040" stroke-width="1.5"/>
<text x="350.2" y="397.6" font-size="8.5" text-anchor="middle">500</text>
<text x="388" y="397.6" font-size="8.5" text-anchor="middle">1000</text>
<text x="425.7" y="397.6" font-size="8.5" text-anchor="middle">1500</text>
<text x="463.5" y="397.6" font-size="8.5" text-anchor="middle">2000</text>
<text x="501.2" y="397.6" font-size="8.5" text-anchor="middle">2500</text>
<text x="539" y="397.6" font-size="8.5" text-anchor="middle">3000</text>
<text x="331.5" y="388.5" font-size="8.5" text-anchor="end">0</text>
<text x="331.5" y="357.2" font-size="8.5" text-anchor="end">2</text>
<text x="331.5" y="325.9" font-size="8.5" text-anchor="end">4</text>
<text x="331.5" y="294.6" font-size="8.5" text-anchor="end">6</text>
<text x="331.5" y="263.3" font-size="8.5" text-anchor="end">8</text>
<text x="331.5" y="232" font-size="8.5" text-anchor="end">10</text>
<text x="437.1" y="409" font-size="9.6" text-anchor="middle">Time (ns)</text>
<text x="320.2" y="307.4" font-size="9.3" text-anchor="middle" transform="rotate(-90 320.2 307.4)">Intensity</text>
<text x="336.1" y="227" font-size="8.8"><tspan font-size="9.6">&#215;</tspan><tspan dx="0.1">10</tspan><tspan font-size="5.9" dx="1.3" dy="-4.2">4</tspan></text>
<text x="433.1" y="425.7" font-size="13" text-anchor="middle" font-weight="bold" stroke-width="0">(d)</text>
<polyline points="335.1,385.4 336.6,385.4 338.1,385.2 339.6,385.3 341.1,384.9 342.7,385.5 344.2,385.3 345.7,385.5 347.2,385.5 348.7,385.5 350.2,385.2 351.7,385.3 353.2,385.5 354.7,385.3 356.2,384.9 357.8,385 359.3,385.4 360.8,385.5 362.3,385.4 363.8,385.4 365.3,385.1 366.8,385.1 368.3,385.1 369.8,385.4 371.3,385 372.9,385.4 374.4,385.3 375.9,385.4 377.4,385.5 378.9,385.4 380.4,385.2 381.9,385.4 401.8,252.3 402.5,252.3 403.3,252.3 404,252.4 404.8,252.7 405.6,252.5 406.3,251.9 407.1,252.2 407.8,252.1 408.6,251.9 409.3,251.6 410.1,251.8 410.8,252.1 411.6,251.7 412.4,251.3 413.1,251.8 413.9,252.1 414.6,251.9 415.4,251.7 416.1,251.5 416.9,251.9 417.6,251.7 418.4,252.2 419.2,252.3 419.9,252.6 420.7,252 421.4,253.1 422.2,252.5 422.9,252.5 423.7,251.7 424.4,252.1 425.2,252.3 425.9,252.2 426.7,251.6 427.5,252 428.2,252.7 429,252.5 429.7,252.8 430.5,252.1 431.2,252 432,252.3 432.7,252.9 433.5,252.7 434.3,252.2 435,251.9 435.8,252 436.5,252.6 437.3,252.4 438,252.1 438.8,252 439.5,251.3 440.3,251.3 459.2,385.2 459.9,385.4 460.7,385.3 461.4,385.3 462.2,385.6 463,385.6 463.7,385.4 464.5,385.4 465.2,385.1 466,384.7 466.7,385.5 467.5,385.4 468.2,385.2 469,385.3 469.7,385.2 470.5,385.5 471.3,384.7 472,385 472.8,385.1 473.5,385.2 474.3,385 475,385 475.8,385.5 476.5,385.3 477.3,385.2 478.1,385.4 478.8,385.3 479.6,385.3 480.3,385 481.1,385.5 481.8,385.6 482.6,385.4 483.3,384.6 484.1,384.8 484.9,385.2 485.6,385.5 486.4,385.5 487.1,385.5 487.9,384.7 488.6,385.3 489.4,385.3 490.1,385.4 490.9,385.2 491.6,385.3 492.4,385.3 493.2,385.5 493.9,385.3 494.7,384.9 495.4,385.2 496.2,384.6 496.9,385.2 497.7,385.3 498.4,385.5 499.2,385.4 500,384.3 500.7,385.4 501.5,385 502.2,385.4 503,385.4 503.7,385.3 504.5,385.4 505.2,385.5 506,385.4 506.8,385.5 507.5,385.6 508.3,385.1 509,385.6 509.8,385.1 510.5,385.2 511.3,385.2 512,385.5 512.8,384.7 513.6,385.4 514.3,385 515.1,384.9 515.8,385.5 516.6,385.4 517.3,384.8 518.1,385 518.8,385.5 519.6,385 520.3,385.1 521.1,385.4 521.9,385.5 522.6,385.5 523.4,385.5 524.1,385.2 524.9,385.3 525.6,385.4 526.4,385.1 527.1,385.5 527.9,385.6 528.7,385.4 529.4,385.6 530.2,385.3 530.9,385.5 531.7,384.8 532.4,385.5 533.2,385.5 533.9,385.4 534.7,385.6 535.5,384.9 536.2,385 537,385.1 537.7,385.3 538.5,385.1" fill="none" stroke="#4f96ee" stroke-width="1.1" stroke-dasharray="1.2,0.9" clip-path="url(#cd)" stroke-linejoin="round"/>
<polyline points="335.1,385.4 336.6,385.5 338.1,385.4 339.6,385.4 341.1,385.5 342.7,385.6 344.2,385.2 345.7,385.3 347.2,385.4 348.7,385.5 350.2,385.5 351.7,385.4 353.2,385.4 354.7,385.3 356.2,385.6 357.8,384.9 359.3,385.5 360.8,385.4 362.3,385.6 363.8,385.5 365.3,385.6 366.8,385.1 368.3,384.8 369.8,385.4 371.3,385.4 372.9,385.5 374.4,385.5 375.9,385.5 377.4,385.2 378.9,385.2 380.4,385.6 381.9,385.3 401.8,256.4 402.5,256.2 403.3,256.2 404,255.8 404.8,255.8 405.6,256 406.3,256.3 407.1,256.3 407.8,256.3 408.6,256.1 409.3,256.5 410.1,256.7 410.8,256.5 411.6,256.1 412.4,256.6 413.1,256.4 413.9,256.2 414.6,256.1 415.4,256.3 416.1,256.3 416.9,256.2 417.6,255.8 418.4,256.4 419.2,256.6 419.9,256.4 420.7,256.4 421.4,255.9 422.2,255.5 422.9,255.5 423.7,255.7 424.4,255.9 425.2,256.3 425.9,256.2 426.7,256.1 427.5,256.4 428.2,256.3 429,255.9 429.7,255.5 430.5,255.5 431.2,255.6 432,255.8 432.7,256 433.5,255.8 434.3,255.4 435,255.1 435.8,255.3 436.5,255.5 437.3,256.6 438,255.9 438.8,255.7 439.5,256.2 440.3,255.9 459.2,385.6 459.9,385.4 460.7,385.3 461.4,385.6 462.2,385 463,385.5 463.7,385.2 464.5,385.2 465.2,384.7 466,385.4 466.7,385.1 467.5,385.4 468.2,385.6 469,385.2 469.7,385.1 470.5,385.2 471.3,385.3 472,385.2 472.8,385.3 473.5,385.2 474.3,385.6 475,385.4 475.8,385.5 476.5,385.1 477.3,385.4 478.1,384.6 478.8,385.4 479.6,385.3 480.3,384.9 481.1,385.4 481.8,385.4 482.6,385.2 483.3,385.6 484.1,385.3 484.9,384.6 485.6,384.3 486.4,385.6 487.1,384.5 487.9,385.2 488.6,385.2 489.4,384.9 490.1,385.3 490.9,385.1 491.6,385.5 492.4,385.1 493.2,385.6 493.9,384.3 494.7,385.3 495.4,384.9 496.2,385.2 496.9,385.4 497.7,385.6 498.4,385.4 499.2,385.5 500,385.3 500.7,384.7 501.5,385.5 502.2,385.5 503,384.9 503.7,385.3 504.5,385.6 505.2,385.5 506,385.4 506.8,385.6 507.5,385.1 508.3,385.6 509,384.9 509.8,385.2 510.5,385.3 511.3,385.2 512,385.4 512.8,385.6 513.6,385.1 514.3,385.4 515.1,385.3 515.8,385.1 516.6,384.9 517.3,385.4 518.1,385.6 518.8,385.5 519.6,385.6 520.3,385.3 521.1,384.9 521.9,384.9 522.6,385.1 523.4,385.6 524.1,385.4 524.9,385.1 525.6,385.2 526.4,385.2 527.1,385 527.9,385.5 528.7,385.3 529.4,384.9 530.2,385.2 530.9,385 531.7,385.1 532.4,385 533.2,385.1 533.9,385.4 534.7,385.5 535.5,385.4 536.2,385.1 537,384.7 537.7,385.3 538.5,385.5" fill="none" stroke="#f03c3c" stroke-width="1.1" stroke-dasharray="3,1.2,1,1.2" clip-path="url(#cd)" stroke-linejoin="round"/>
<polyline points="335.1,384.9 336.6,385.2 338.1,385.1 339.6,385.6 341.1,385.2 342.7,385.4 344.2,385.6 345.7,385.3 347.2,385.6 348.7,385.3 350.2,385.3 351.7,385.2 353.2,385.4 354.7,385 356.2,385.6 357.8,385.5 359.3,384.9 360.8,385.4 362.3,385.3 363.8,385.4 365.3,385.2 366.8,385.5 368.3,385.3 369.8,385.3 371.3,385.4 372.9,385.1 374.4,385.3 375.9,385.4 377.4,385.5 378.9,385.5 380.4,385.3 381.9,385.1 401.8,258.9 402.5,259 403.3,259.6 404,258.7 404.8,258.5 405.6,258.4 406.3,258.7 407.1,258.7 407.8,258.4 408.6,258 409.3,258 410.1,259.1 410.8,259.5 411.6,259.5 412.4,259.3 413.1,259.6 413.9,259.5 414.6,259.9 415.4,259.5 416.1,259.5 416.9,259.6 417.6,259.8 418.4,260.3 419.2,259.9 419.9,259.6 420.7,260 421.4,259.7 422.2,259.5 422.9,259.3 423.7,259.9 424.4,260 425.2,259.4 425.9,259.4 426.7,260 427.5,260 428.2,260.1 429,260 429.7,260.1 430.5,260.2 431.2,260.1 432,259.8 432.7,259.8 433.5,259.4 434.3,259 435,259.8 435.8,259.6 436.5,259.9 437.3,260.2 438,260.5 438.8,260.4 439.5,260 440.3,260.3 459.2,385.3 459.9,385.5 460.7,385.4 461.4,385.5 462.2,385 463,385.2 463.7,385.4 464.5,385 465.2,385.1 466,385.4 466.7,385.4 467.5,385.6 468.2,385.3 469,385.5 469.7,385 470.5,385.6 471.3,384.4 472,385.5 472.8,385 473.5,385.2 474.3,385.2 475,385.4 475.8,385.4 476.5,385.4 477.3,385.5 478.1,385.5 478.8,384.1 479.6,385.2 480.3,385.4 481.1,385.2 481.8,385.2 482.6,385.3 483.3,385.4 484.1,384.6 484.9,384.8 485.6,385.6 486.4,385.3 487.1,385.6 487.9,385.3 488.6,384.9 489.4,384.7 490.1,385 490.9,385.1 491.6,385 492.4,385.3 493.2,385.6 493.9,385 494.7,385.4 495.4,385 496.2,385 496.9,384.4 497.7,384.5 498.4,384.6 499.2,383.3 500,383.3 500.7,382.5 501.5,383.2 502.2,382.5 503,383.4 503.7,384.3 504.5,384.6 505.2,385.1 506,384.9 506.8,384.9 507.5,385.1 508.3,384.9 509,385.1 509.8,384.8 510.5,383.8 511.3,383.5 512,383.4 512.8,383.6 513.6,383.1 514.3,384.2 515.1,384.5 515.8,384.2 516.6,384.6 517.3,384.5 518.1,385.3 518.8,385.2 519.6,384.9 520.3,385.5 521.1,385.1 521.9,385.4 522.6,384.9 523.4,385.2 524.1,385.3 524.9,385.1 525.6,385.6 526.4,385.2 527.1,385.4 527.9,385 528.7,384.7 529.4,384.4 530.2,385.4 530.9,385.5 531.7,385.1 532.4,385.1 533.2,385.5 533.9,385 534.7,385.4 535.5,385.5 536.2,385.4 537,385.3 537.7,384.9 538.5,385.2" fill="none" stroke="#c27cf0" stroke-width="1.1" stroke-dasharray="4,3.2" clip-path="url(#cd)" stroke-linejoin="round"/>
<polyline points="335.1,385.2 336.6,385.6 338.1,385.6 339.6,385.2 341.1,385 342.7,385.5 344.2,385.5 345.7,384.9 347.2,385.6 348.7,385.6 350.2,385.6 351.7,385.5 353.2,385.4 354.7,385.4 356.2,385.6 357.8,385 359.3,385.1 360.8,385.5 362.3,385.5 363.8,385.5 365.3,385.3 366.8,385.5 368.3,385.6 369.8,385.5 371.3,385.4 372.9,385.6 374.4,385.6 375.9,385.4 377.4,385.6 378.9,385.6 380.4,385.5 381.9,385.4 401.8,259.7 402.5,260.8 403.3,260.3 404,261.4 404.8,261.1 405.6,260.6 406.3,261.3 407.1,261 407.8,261.2 408.6,260.5 409.3,261 410.1,261 410.8,260.7 411.6,260.8 412.4,261.2 413.1,261.2 413.9,261.1 414.6,260.7 415.4,260.9 416.1,261.2 416.9,261.7 417.6,262.3 418.4,262.4 419.2,262.5 419.9,261.7 420.7,262 421.4,261.8 422.2,262.2 422.9,261.9 423.7,261.8 424.4,261.7 425.2,261.7 425.9,261.6 426.7,262.2 427.5,261.9 428.2,261.8 429,261.9 429.7,262.6 430.5,262 431.2,262.6 432,262.2 432.7,262.8 433.5,261.8 434.3,262.5 435,261.8 435.8,262.5 436.5,262 437.3,261.9 438,262.9 438.8,263.1 439.5,262.9 440.3,263.4 459.2,385.5 459.9,385.3 460.7,385.1 461.4,385.5 462.2,385.5 463,385.6 463.7,384.7 464.5,385.2 465.2,385.2 466,385.6 466.7,385.4 467.5,385.4 468.2,384.9 469,385.6 469.7,385 470.5,385.3 471.3,384.9 472,385.1 472.8,385.2 473.5,385.1 474.3,385.2 475,384.8 475.8,385.2 476.5,385.5 477.3,385.1 478.1,385.3 478.8,385.6 479.6,385.4 480.3,384.8 481.1,385.3 481.8,385.6 482.6,384.8 483.3,385 484.1,385.3 484.9,385.4 485.6,385.4 486.4,385 487.1,384.7 487.9,384.9 488.6,385 489.4,385.4 490.1,384.9 490.9,385.1 491.6,385.6 492.4,385.5 493.2,385 493.9,385.6 494.7,385.5 495.4,385.2 496.2,385.5 496.9,385.2 497.7,385.6 498.4,385.2 499.2,385.3 500,385.2 500.7,385.2 501.5,384.7 502.2,385.5 503,384.8 503.7,385.3 504.5,385.5 505.2,385.5 506,385.1 506.8,385.4 507.5,385.4 508.3,384.9 509,385.4 509.8,385.5 510.5,385.6 511.3,384.8 512,385.4 512.8,385.2 513.6,384.7 514.3,385.5 515.1,384.6 515.8,385.3 516.6,385.4 517.3,385.4 518.1,385.6 518.8,385.4 519.6,384.7 520.3,385.1 521.1,385.1 521.9,385.5 522.6,384.4 523.4,385.4 524.1,385.3 524.9,385.5 525.6,385.4 526.4,385.4 527.1,385.5 527.9,385 528.7,385.4 529.4,385.4 530.2,385.3 530.9,385.5 531.7,385.5 532.4,385.5 533.2,385.4 533.9,384.5 534.7,385.4 535.5,384.8 536.2,385.1 537,384.7 537.7,385.5 538.5,385.1" fill="none" stroke="#12ad66" stroke-width="1.1" clip-path="url(#cd)" stroke-linejoin="round"/>
<polyline points="335.1,385.5 336.6,385.3 338.1,385.5 339.6,385.3 341.1,385.5 342.7,385.3 344.2,385.3 345.7,385.5 347.2,385.5 348.7,385.4 350.2,385.4 351.7,385.4 353.2,385.3 354.7,385.3 356.2,385.1 357.8,385.3 359.3,385.4 360.8,385.3 362.3,385.3 363.8,385.3 365.3,385.5 366.8,385.2 368.3,385.2 369.8,385.4 371.3,385.3 372.9,385.5 374.4,385.4 375.9,385.5 377.4,385.5 378.9,385.5 380.4,385.3 381.9,385.6 401.8,268.4 402.5,268.7 403.3,268.5 404,268.4 404.8,268.4 405.6,267.5 406.3,267.4 407.1,266.9 407.8,267.7 408.6,268 409.3,268.6 410.1,267.7 410.8,267.7 411.6,268.5 412.4,268.1 413.1,267.6 413.9,267.6 414.6,267.8 415.4,268.4 416.1,267.6 416.9,267.8 417.6,267.1 418.4,267.6 419.2,267.9 419.9,268.3 420.7,268.3 421.4,268.7 422.2,268.8 422.9,268.5 423.7,268.6 424.4,268.4 425.2,269.1 425.9,268.8 426.7,268.8 427.5,268.2 428.2,268.4 429,269.4 429.7,269.7 430.5,269.4 431.2,269.1 432,268.7 432.7,269.7 433.5,269.7 434.3,269.3 435,269.9 435.8,270 436.5,269.7 437.3,269 438,269.1 438.8,269.2 439.5,269.2 440.3,269.8 459.2,385.2 459.9,385.2 460.7,385.2 461.4,385.2 462.2,385.3 463,385.5 463.7,385.1 464.5,384.8 465.2,385.2 466,384.9 466.7,385.3 467.5,385.4 468.2,385.4 469,385.3 469.7,385.3 470.5,384.6 471.3,385.2 472,385.2 472.8,384.8 473.5,384.7 474.3,384.4 475,384.5 475.8,384.7 476.5,384.5 477.3,383.5 478.1,383.6 478.8,383.7 479.6,383.9 480.3,383.1 481.1,383 481.8,383.2 482.6,383.5 483.3,382.3 484.1,383.2 484.9,383.4 485.6,383.5 486.4,383.5 487.1,383.6 487.9,383.8 488.6,383.5 489.4,383.6 490.1,383.9 490.9,383.9 491.6,384.1 492.4,384.4 493.2,384.3 493.9,384.7 494.7,384.6 495.4,384.6 496.2,384.6 496.9,384.4 497.7,385 498.4,385 499.2,385.1 500,384.9 500.7,385 501.5,384.9 502.2,385.3 503,385.3 503.7,385.2 504.5,385.3 505.2,385.2 506,385.3 506.8,384.7 507.5,385.4 508.3,385.3 509,384.8 509.8,385.4 510.5,384.5 511.3,385.5 512,384.9 512.8,384.3 513.6,385.4 514.3,385.2 515.1,385.4 515.8,385.2 516.6,385.3 517.3,385.6 518.1,385.3 518.8,385 519.6,385.4 520.3,385.1 521.1,385.1 521.9,385.4 522.6,385.4 523.4,384.7 524.1,385.1 524.9,385.6 525.6,384.6 526.4,384.8 527.1,385.5 527.9,385.5 528.7,385.1 529.4,385 530.2,385.2 530.9,385.5 531.7,385.4 532.4,385.5 533.2,385.3 533.9,385.2 534.7,385.6 535.5,385.5 536.2,385.5 537,384.6 537.7,384.7 538.5,385.1" fill="none" stroke="#e9b03e" stroke-width="1.1" stroke-dasharray="1.2,0.9" clip-path="url(#cd)" stroke-linejoin="round"/>
<polyline points="335.1,385.4 336.6,385.5 338.1,385.4 339.6,385.5 341.1,385.5 342.7,385.6 344.2,385.6 345.7,385.4 347.2,385.3 348.7,385.5 350.2,385.6 351.7,385.3 353.2,385.6 354.7,385.4 356.2,385.3 357.8,385.5 359.3,385.6 360.8,385.4 362.3,385.5 363.8,385.3 365.3,385.6 366.8,385.6 368.3,385.3 369.8,385.5 371.3,385.5 372.9,385.4 374.4,385.5 375.9,385.4 377.4,385.1 378.9,385.5 380.4,385.4 381.9,385.4 401.8,274.3 402.5,274.2 403.3,273.1 404,274.1 404.8,274.4 405.6,274.3 406.3,274.5 407.1,274.1 407.8,273.8 408.6,274.3 409.3,274.2 410.1,275 410.8,274.8 411.6,274.8 412.4,274.9 413.1,274.6 413.9,274.3 414.6,274 415.4,274.8 416.1,274.8 416.9,275.3 417.6,274.9 418.4,274.1 419.2,274.1 419.9,273.7 420.7,273.8 421.4,273.5 422.2,273.9 422.9,274.4 423.7,274.3 424.4,274.8 425.2,274.5 425.9,274.5 426.7,274.2 427.5,274.4 428.2,274.4 429,273.7 429.7,274.4 430.5,274.2 431.2,274.2 432,274.4 432.7,275.2 433.5,274.8 434.3,274.9 435,274.4 435.8,274.9 436.5,274.7 437.3,274.7 438,274.7 438.8,274.3 439.5,274.1 440.3,274.4 459.2,385.4 459.9,384.7 460.7,385.5 461.4,385.1 462.2,385.5 463,384.7 463.7,385.2 464.5,385.6 465.2,385.4 466,384.8 466.7,385.4 467.5,384.4 468.2,385.2 469,385.5 469.7,384.3 470.5,385.2 471.3,385.4 472,385.5 472.8,385.4 473.5,385.2 474.3,385.5 475,385.2 475.8,384.8 476.5,384.4 477.3,385.5 478.1,385.3 478.8,384.9 479.6,385.3 480.3,385.1 481.1,385.3 481.8,385.5 482.6,385.3 483.3,385.1 484.1,385.5 484.9,385.5 485.6,385.5 486.4,385.3 487.1,385 487.9,385.4 488.6,385.5 489.4,385.1 490.1,385.6 490.9,385.3 491.6,384.9 492.4,385.6 493.2,385.5 493.9,384.7 494.7,384.5 495.4,384.9 496.2,385.2 496.9,385 497.7,385.5 498.4,385.2 499.2,384.9 500,385.5 500.7,385.4 501.5,385.6 502.2,385 503,385.2 503.7,385.4 504.5,385 505.2,385.5 506,385.3 506.8,385.4 507.5,385.5 508.3,385 509,385.3 509.8,385.3 510.5,385 511.3,385.2 512,385.3 512.8,385.4 513.6,385.2 514.3,385 515.1,385 515.8,385.3 516.6,385.2 517.3,385.2 518.1,385.3 518.8,385.2 519.6,384.4 520.3,384.9 521.1,384.2 521.9,385 522.6,384.6 523.4,384.4 524.1,384.7 524.9,384.4 525.6,384.3 526.4,383.7 527.1,384.1 527.9,384.2 528.7,384.2 529.4,384.2 530.2,384.3 530.9,384.1 531.7,383.9 532.4,384.3 533.2,384.2 533.9,383.8 534.7,383.7 535.5,384.1 536.2,384.2 537,383.9 537.7,384.3 538.5,384.4" fill="none" stroke="#1fcaca" stroke-width="1.1" stroke-dasharray="3,1.2,1,1.2" clip-path="url(#cd)" stroke-linejoin="round"/>
<polyline points="335.1,385.5 336.6,385.6 338.1,385.3 339.6,385.3 341.1,385.5 342.7,385.6 344.2,385.5 345.7,385.6 347.2,385.4 348.7,385.6 350.2,385.5 351.7,385.6 353.2,385.6 354.7,385.4 356.2,385 357.8,385.4 359.3,385.4 360.8,385.3 362.3,385 363.8,385.2 365.3,385.3 366.8,385.5 368.3,385.5 369.8,385.2 371.3,385.3 372.9,385.6 374.4,385.3 375.9,385.2 377.4,385.5 378.9,385.1 380.4,385.3 381.9,385.6 401.8,280.4 402.5,280.4 403.3,279.8 404,280.6 404.8,280.5 405.6,280.6 406.3,280.5 407.1,280.4 407.8,280.5 408.6,280.1 409.3,280 410.1,279.5 410.8,280.1 411.6,280 412.4,279.2 413.1,279 413.9,279.5 414.6,279.7 415.4,279.6 416.1,279.6 416.9,279.8 417.6,280 418.4,279.6 419.2,279.8 419.9,279.6 420.7,280.2 421.4,280.1 422.2,279.6 422.9,280 423.7,279.9 424.4,280 425.2,280.3 425.9,279.5 426.7,279.9 427.5,279.5 428.2,280.1 429,279.6 429.7,279.3 430.5,278.9 431.2,279.7 432,279.9 432.7,280.6 433.5,279.6 434.3,279.2 435,279.1 435.8,279.4 436.5,279.4 437.3,279.7 438,280.1 438.8,280.2 439.5,280.5 440.3,280.6 459.2,385.4 459.9,385.3 460.7,384.8 461.4,385.2 462.2,385.3 463,385.5 463.7,385.2 464.5,385.1 465.2,385 466,385.4 466.7,385.5 467.5,385.6 468.2,385.1 469,385.6 469.7,384.8 470.5,385.5 471.3,385.2 472,385.5 472.8,385.2 473.5,385.4 474.3,385 475,384.8 475.8,385.3 476.5,385.5 477.3,385.2 478.1,385.1 478.8,385.4 479.6,385.5 480.3,385.3 481.1,385.4 481.8,384.9 482.6,385.1 483.3,385.6 484.1,385.5 484.9,385 485.6,385.4 486.4,385.5 487.1,384.9 487.9,384.8 488.6,384.7 489.4,384.5 490.1,385.6 490.9,385.4 491.6,385.2 492.4,385.4 493.2,385.4 493.9,385.6 494.7,384.9 495.4,384.9 496.2,385 496.9,385.3 497.7,384.7 498.4,385.6 499.2,385.2 500,385.4 500.7,384.7 501.5,385.4 502.2,384.9 503,385.1 503.7,385.4 504.5,385 505.2,385.3 506,384.8 506.8,385.5 507.5,385.4 508.3,385.6 509,385.1 509.8,385.6 510.5,385.5 511.3,385.6 512,384.9 512.8,384.8 513.6,384.9 514.3,385.3 515.1,385.3 515.8,385.6 516.6,385.4 517.3,384.6 518.1,385.3 518.8,384.8 519.6,385 520.3,385.3 521.1,385.3 521.9,385.4 522.6,385.6 523.4,385.4 524.1,384.9 524.9,385.3 525.6,385.6 526.4,385.3 527.1,385.6 527.9,385.2 528.7,384.9 529.4,384.9 530.2,385.1 530.9,385.2 531.7,384.2 532.4,385.3 533.2,385.1 533.9,385.4 534.7,385.1 535.5,384.2 536.2,385.5 537,384.9 537.7,384.9 538.5,385.4" fill="none" stroke="#1a1a1a" stroke-width="1.1" stroke-dasharray="4.2,2.6" clip-path="url(#cd)" stroke-linejoin="round"/>
<polyline points="335.1,385.5 336.6,385.6 338.1,385.1 339.6,385.3 341.1,385.2 342.7,385.4 344.2,385.2 345.7,385.1 347.2,385.3 348.7,385.1 350.2,384.9 351.7,385.5 353.2,385.6 354.7,385.4 356.2,385.3 357.8,384.7 359.3,384.9 360.8,385.6 362.3,385.6 363.8,385.2 365.3,385.6 366.8,385.5 368.3,385.6 369.8,385.4 371.3,385.3 372.9,385.5 374.4,385.3 375.9,385.4 377.4,385.5 378.9,385.6 380.4,385.3 381.9,385.4 401.8,289.1 402.5,288.7 403.3,289 404,289.5 404.8,288.8 405.6,288.1 406.3,288.3 407.1,288.4 407.8,288.6 408.6,289 409.3,288.9 410.1,289.1 410.8,288.5 411.6,288.4 412.4,288.7 413.1,288.8 413.9,288.7 414.6,288.5 415.4,288.2 416.1,288.4 416.9,288 417.6,287.9 418.4,287.6 419.2,288.2 419.9,288.1 420.7,289.1 421.4,288.7 422.2,289.5 422.9,289.5 423.7,288.9 424.4,288.6 425.2,288.4 425.9,288.6 426.7,288.5 427.5,288.6 428.2,288.4 429,288.3 429.7,288.3 430.5,288.9 431.2,288.3 432,288.7 432.7,289 433.5,289 434.3,288.6 435,288.8 435.8,288.2 436.5,288.7 437.3,289.1 438,289.6 438.8,289.2 439.5,288.3 440.3,288 459.2,385.4 459.9,385.2 460.7,385.2 461.4,384.8 462.2,385.3 463,385.2 463.7,385.2 464.5,385.4 465.2,385.6 466,385.3 466.7,385.6 467.5,385.2 468.2,385.4 469,385.5 469.7,385.6 470.5,385.1 471.3,385.5 472,385.4 472.8,385.5 473.5,384.7 474.3,385.3 475,385.5 475.8,385.2 476.5,385.4 477.3,385 478.1,385.4 478.8,385.2 479.6,385.2 480.3,385.2 481.1,384.9 481.8,385.6 482.6,385.1 483.3,385.3 484.1,385.4 484.9,385.3 485.6,385.2 486.4,384.9 487.1,384.6 487.9,385.2 488.6,385.5 489.4,385.1 490.1,385.3 490.9,385.5 491.6,385 492.4,385.1 493.2,385.5 493.9,385.5 494.7,385.4 495.4,385.5 496.2,385 496.9,384.8 497.7,385.4 498.4,385.1 499.2,385.2 500,384.7 500.7,385.5 501.5,385.3 502.2,385.5 503,385.1 503.7,385.2 504.5,385.5 505.2,385.3 506,385.2 506.8,384.7 507.5,385.5 508.3,384.9 509,385.6 509.8,385.1 510.5,385.4 511.3,385.4 512,385.5 512.8,385.1 513.6,385 514.3,384.9 515.1,385.1 515.8,385.2 516.6,385 517.3,385.5 518.1,385.5 518.8,385.3 519.6,385.5 520.3,385 521.1,385.3 521.9,385.2 522.6,385.4 523.4,385.6 524.1,385 524.9,385.3 525.6,385.5 526.4,385.2 527.1,385.6 527.9,385.5 528.7,385.4 529.4,385.4 530.2,385.3 530.9,384.7 531.7,385.3 532.4,384.7 533.2,384.2 533.9,385.2 534.7,385.2 535.5,384.7 536.2,385.2 537,385.1 537.7,385.1 538.5,385.1" fill="none" stroke="#1e78ec" stroke-width="1.1" clip-path="url(#cd)" stroke-linejoin="round"/>
</svg>
</body></html>
